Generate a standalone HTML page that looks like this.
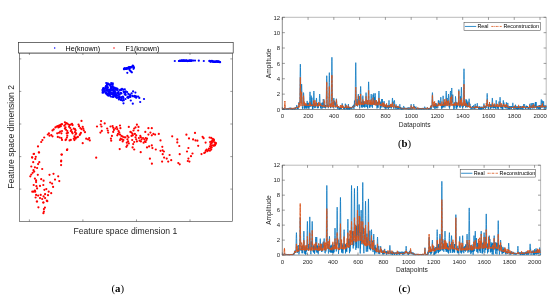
<!DOCTYPE html>
<html><head><meta charset="utf-8"><title>Figure</title>
<style>html,body{margin:0;padding:0;background:#fff}svg{display:block}</style></head>
<body>
<svg width="550" height="296" viewBox="0 0 550 296" font-family="'Liberation Sans', Arial, sans-serif">
<rect width="550" height="296" fill="#fff"/>
<rect x="19.3" y="53" width="213.0" height="168.4" fill="#fff" stroke="#3a3a3a" stroke-width="0.6"/>
<rect x="18.4" y="42.5" width="214.8" height="10.5" fill="#fff" stroke="#333" stroke-width="0.7"/>
<path d="M29.4,221.4 v-2 M29.4,53 v2 M82.9,221.4 v-2 M82.9,53 v2 M136.5,221.4 v-2 M136.5,53 v2 M190,221.4 v-2 M190,53 v2 M19.3,58.9 h2 M232.3,58.9 h-2 M19.3,91.4 h2 M232.3,91.4 h-2 M19.3,124 h2 M232.3,124 h-2 M19.3,156.6 h2 M232.3,156.6 h-2 M19.3,189.1 h2 M232.3,189.1 h-2 " stroke="#3a3a3a" stroke-width="0.5" fill="none"/>
<g fill="#0000ff"><circle cx="126.6" cy="68.0" r="1.1"/><circle cx="129.8" cy="67.1" r="1.1"/><circle cx="128.7" cy="67.7" r="1.1"/><circle cx="124.1" cy="69.2" r="1.1"/><circle cx="123.9" cy="69.1" r="1.1"/><circle cx="124.2" cy="68.6" r="1.1"/><circle cx="127.6" cy="68.6" r="1.1"/><circle cx="124.7" cy="68.6" r="1.1"/><circle cx="129.6" cy="68.3" r="1.1"/><circle cx="129.1" cy="67.7" r="1.1"/><circle cx="133.0" cy="66.2" r="1.1"/><circle cx="131.8" cy="66.8" r="1.1"/><circle cx="124.9" cy="68.4" r="1.1"/><circle cx="126.5" cy="68.9" r="1.1"/><circle cx="125.3" cy="68.9" r="1.1"/><circle cx="129.7" cy="67.5" r="1.1"/><circle cx="128.8" cy="67.3" r="1.1"/><circle cx="124.1" cy="68.8" r="1.1"/><circle cx="130.1" cy="67.4" r="1.1"/><circle cx="126.5" cy="68.6" r="1.1"/><circle cx="127.9" cy="67.9" r="1.1"/><circle cx="131.2" cy="67.5" r="1.1"/><circle cx="125.9" cy="68.8" r="1.1"/><circle cx="128.6" cy="68.4" r="1.1"/><circle cx="130.6" cy="67.1" r="1.1"/><circle cx="133.0" cy="66.3" r="1.1"/><circle cx="127.3" cy="72.8" r="1.1"/><circle cx="130.2" cy="70.8" r="1.1"/><circle cx="131.0" cy="71.6" r="1.1"/><circle cx="131.9" cy="72.3" r="1.1"/><circle cx="132.8" cy="65.6" r="1.1"/><circle cx="133.6" cy="66.5" r="1.1"/><circle cx="134.0" cy="67.8" r="1.1"/><circle cx="133.5" cy="68.8" r="1.1"/><circle cx="132.5" cy="66.6" r="1.1"/><circle cx="129.5" cy="69.8" r="1.1"/><circle cx="103.2" cy="88.7" r="1.1"/><circle cx="102.4" cy="90.0" r="1.1"/><circle cx="102.8" cy="91.3" r="1.1"/><circle cx="102.6" cy="92.7" r="1.1"/><circle cx="103.4" cy="88.2" r="1.1"/><circle cx="103.6" cy="88.8" r="1.1"/><circle cx="103.8" cy="89.9" r="1.1"/><circle cx="104.6" cy="91.6" r="1.1"/><circle cx="103.5" cy="92.4" r="1.1"/><circle cx="105.7" cy="86.9" r="1.1"/><circle cx="105.5" cy="87.5" r="1.1"/><circle cx="105.1" cy="88.5" r="1.1"/><circle cx="105.0" cy="90.1" r="1.1"/><circle cx="105.8" cy="93.4" r="1.1"/><circle cx="106.2" cy="83.0" r="1.1"/><circle cx="106.9" cy="84.5" r="1.1"/><circle cx="106.4" cy="85.8" r="1.1"/><circle cx="106.1" cy="86.1" r="1.1"/><circle cx="107.0" cy="88.2" r="1.1"/><circle cx="106.9" cy="89.6" r="1.1"/><circle cx="106.4" cy="90.4" r="1.1"/><circle cx="106.0" cy="92.2" r="1.1"/><circle cx="106.6" cy="93.4" r="1.1"/><circle cx="107.0" cy="94.6" r="1.1"/><circle cx="107.8" cy="83.4" r="1.1"/><circle cx="107.4" cy="84.7" r="1.1"/><circle cx="107.4" cy="86.5" r="1.1"/><circle cx="107.9" cy="87.6" r="1.1"/><circle cx="107.9" cy="89.4" r="1.1"/><circle cx="107.9" cy="90.1" r="1.1"/><circle cx="108.1" cy="91.6" r="1.1"/><circle cx="108.1" cy="93.4" r="1.1"/><circle cx="107.9" cy="94.2" r="1.1"/><circle cx="108.0" cy="95.4" r="1.1"/><circle cx="108.6" cy="84.2" r="1.1"/><circle cx="109.5" cy="84.8" r="1.1"/><circle cx="109.5" cy="90.0" r="1.1"/><circle cx="109.1" cy="91.4" r="1.1"/><circle cx="108.9" cy="93.2" r="1.1"/><circle cx="109.1" cy="94.1" r="1.1"/><circle cx="108.9" cy="95.6" r="1.1"/><circle cx="109.9" cy="84.5" r="1.1"/><circle cx="110.6" cy="84.8" r="1.1"/><circle cx="110.6" cy="86.4" r="1.1"/><circle cx="110.9" cy="88.0" r="1.1"/><circle cx="109.9" cy="89.5" r="1.1"/><circle cx="110.8" cy="90.3" r="1.1"/><circle cx="110.4" cy="92.1" r="1.1"/><circle cx="109.9" cy="92.9" r="1.1"/><circle cx="109.9" cy="93.8" r="1.1"/><circle cx="110.0" cy="95.2" r="1.1"/><circle cx="110.7" cy="96.5" r="1.1"/><circle cx="111.2" cy="83.1" r="1.1"/><circle cx="111.6" cy="84.4" r="1.1"/><circle cx="111.4" cy="86.9" r="1.1"/><circle cx="111.8" cy="87.7" r="1.1"/><circle cx="111.1" cy="88.6" r="1.1"/><circle cx="111.9" cy="90.1" r="1.1"/><circle cx="111.8" cy="92.6" r="1.1"/><circle cx="111.4" cy="94.1" r="1.1"/><circle cx="112.2" cy="96.8" r="1.1"/><circle cx="112.8" cy="83.4" r="1.1"/><circle cx="112.7" cy="84.9" r="1.1"/><circle cx="112.9" cy="86.8" r="1.1"/><circle cx="113.2" cy="88.2" r="1.1"/><circle cx="112.7" cy="89.6" r="1.1"/><circle cx="113.2" cy="90.5" r="1.1"/><circle cx="113.3" cy="92.1" r="1.1"/><circle cx="113.2" cy="93.3" r="1.1"/><circle cx="112.9" cy="94.2" r="1.1"/><circle cx="113.3" cy="95.8" r="1.1"/><circle cx="113.4" cy="96.9" r="1.1"/><circle cx="114.5" cy="87.5" r="1.1"/><circle cx="113.9" cy="89.3" r="1.1"/><circle cx="114.5" cy="90.9" r="1.1"/><circle cx="114.0" cy="91.6" r="1.1"/><circle cx="114.5" cy="93.0" r="1.1"/><circle cx="113.7" cy="93.8" r="1.1"/><circle cx="114.5" cy="95.2" r="1.1"/><circle cx="113.6" cy="96.2" r="1.1"/><circle cx="115.1" cy="88.3" r="1.1"/><circle cx="115.5" cy="88.7" r="1.1"/><circle cx="116.0" cy="89.9" r="1.1"/><circle cx="115.5" cy="92.1" r="1.1"/><circle cx="115.1" cy="93.4" r="1.1"/><circle cx="114.9" cy="93.6" r="1.1"/><circle cx="115.4" cy="95.2" r="1.1"/><circle cx="115.3" cy="96.5" r="1.1"/><circle cx="116.5" cy="88.3" r="1.1"/><circle cx="116.4" cy="89.1" r="1.1"/><circle cx="117.2" cy="93.0" r="1.1"/><circle cx="116.2" cy="94.4" r="1.1"/><circle cx="117.0" cy="95.6" r="1.1"/><circle cx="116.2" cy="97.2" r="1.1"/><circle cx="116.7" cy="97.8" r="1.1"/><circle cx="117.5" cy="88.9" r="1.1"/><circle cx="117.7" cy="90.1" r="1.1"/><circle cx="118.5" cy="91.9" r="1.1"/><circle cx="117.9" cy="92.9" r="1.1"/><circle cx="117.8" cy="93.7" r="1.1"/><circle cx="118.6" cy="95.0" r="1.1"/><circle cx="118.2" cy="97.2" r="1.1"/><circle cx="117.7" cy="97.7" r="1.1"/><circle cx="118.7" cy="93.2" r="1.1"/><circle cx="119.8" cy="94.3" r="1.1"/><circle cx="119.5" cy="96.3" r="1.1"/><circle cx="119.3" cy="98.1" r="1.1"/><circle cx="118.9" cy="99.4" r="1.1"/><circle cx="120.7" cy="89.6" r="1.1"/><circle cx="120.0" cy="90.2" r="1.1"/><circle cx="120.8" cy="92.9" r="1.1"/><circle cx="120.2" cy="97.7" r="1.1"/><circle cx="120.7" cy="99.8" r="1.1"/><circle cx="122.0" cy="88.9" r="1.1"/><circle cx="121.6" cy="90.0" r="1.1"/><circle cx="121.4" cy="93.4" r="1.1"/><circle cx="121.7" cy="97.2" r="1.1"/><circle cx="121.7" cy="98.5" r="1.1"/><circle cx="121.3" cy="100.0" r="1.1"/><circle cx="123.3" cy="89.6" r="1.1"/><circle cx="123.6" cy="91.5" r="1.1"/><circle cx="122.9" cy="96.5" r="1.1"/><circle cx="123.4" cy="97.5" r="1.1"/><circle cx="123.4" cy="99.0" r="1.1"/><circle cx="122.5" cy="100.6" r="1.1"/><circle cx="124.8" cy="89.3" r="1.1"/><circle cx="124.2" cy="91.9" r="1.1"/><circle cx="124.1" cy="92.6" r="1.1"/><circle cx="124.8" cy="94.3" r="1.1"/><circle cx="123.8" cy="100.3" r="1.1"/><circle cx="125.8" cy="91.3" r="1.1"/><circle cx="125.4" cy="93.1" r="1.1"/><circle cx="125.7" cy="94.9" r="1.1"/><circle cx="125.5" cy="99.0" r="1.1"/><circle cx="127.1" cy="92.1" r="1.1"/><circle cx="127.3" cy="97.3" r="1.1"/><circle cx="128.3" cy="93.9" r="1.1"/><circle cx="128.1" cy="96.7" r="1.1"/><circle cx="128.3" cy="98.0" r="1.1"/><circle cx="130.0" cy="94.7" r="1.1"/><circle cx="129.8" cy="96.0" r="1.1"/><circle cx="129.3" cy="97.0" r="1.1"/><circle cx="130.6" cy="95.8" r="1.1"/><circle cx="130.4" cy="97.0" r="1.1"/><circle cx="131.6" cy="93.4" r="1.1"/><circle cx="132.5" cy="95.8" r="1.1"/><circle cx="133.1" cy="91.4" r="1.1"/><circle cx="133.0" cy="96.3" r="1.1"/><circle cx="134.8" cy="95.9" r="1.1"/><circle cx="134.8" cy="96.8" r="1.1"/><circle cx="135.4" cy="92.6" r="1.1"/><circle cx="135.6" cy="96.3" r="1.1"/><circle cx="136.1" cy="97.7" r="1.1"/><circle cx="136.7" cy="96.7" r="1.1"/><circle cx="138.2" cy="96.5" r="1.1"/><circle cx="139.3" cy="97.9" r="1.1"/><circle cx="144.0" cy="99.0" r="1.1"/><circle cx="140.2" cy="102.0" r="1.1"/><circle cx="132.8" cy="103.7" r="1.1"/><circle cx="123.5" cy="103.3" r="1.1"/><circle cx="130.8" cy="100.5" r="1.1"/><circle cx="174.8" cy="61.0" r="1.1"/><circle cx="193.2" cy="60.6" r="1.1"/><circle cx="195.0" cy="60.6" r="1.1"/><circle cx="198.8" cy="60.7" r="1.1"/><circle cx="203.8" cy="61.0" r="1.1"/><circle cx="178.9" cy="61.0" r="1.1"/><circle cx="179.3" cy="61.0" r="1.1"/><circle cx="179.8" cy="60.5" r="1.1"/><circle cx="180.2" cy="61.0" r="1.1"/><circle cx="180.7" cy="61.0" r="1.1"/><circle cx="181.1" cy="60.7" r="1.1"/><circle cx="181.6" cy="60.5" r="1.1"/><circle cx="182.0" cy="60.6" r="1.1"/><circle cx="182.5" cy="60.7" r="1.1"/><circle cx="182.9" cy="60.9" r="1.1"/><circle cx="183.4" cy="60.7" r="1.1"/><circle cx="183.8" cy="60.4" r="1.1"/><circle cx="184.3" cy="60.9" r="1.1"/><circle cx="184.7" cy="60.5" r="1.1"/><circle cx="185.2" cy="61.0" r="1.1"/><circle cx="185.6" cy="60.5" r="1.1"/><circle cx="186.1" cy="60.6" r="1.1"/><circle cx="186.5" cy="60.6" r="1.1"/><circle cx="187.0" cy="60.7" r="1.1"/><circle cx="187.4" cy="61.1" r="1.1"/><circle cx="187.9" cy="61.0" r="1.1"/><circle cx="188.3" cy="60.9" r="1.1"/><circle cx="188.8" cy="60.9" r="1.1"/><circle cx="189.2" cy="60.5" r="1.1"/><circle cx="189.7" cy="60.7" r="1.1"/><circle cx="190.1" cy="60.7" r="1.1"/><circle cx="190.6" cy="60.6" r="1.1"/><circle cx="191.0" cy="60.9" r="1.1"/><circle cx="191.5" cy="60.6" r="1.1"/><circle cx="191.9" cy="60.6" r="1.1"/><circle cx="209.3" cy="61.0" r="1.1"/><circle cx="209.7" cy="60.8" r="1.1"/><circle cx="210.2" cy="61.4" r="1.1"/><circle cx="210.6" cy="61.6" r="1.1"/><circle cx="211.0" cy="61.4" r="1.1"/><circle cx="211.5" cy="61.1" r="1.1"/><circle cx="211.9" cy="60.8" r="1.1"/><circle cx="212.3" cy="61.4" r="1.1"/><circle cx="212.8" cy="61.7" r="1.1"/><circle cx="213.2" cy="61.5" r="1.1"/><circle cx="213.6" cy="61.7" r="1.1"/><circle cx="214.1" cy="61.8" r="1.1"/><circle cx="214.5" cy="61.8" r="1.1"/><circle cx="214.9" cy="61.5" r="1.1"/><circle cx="215.3" cy="61.8" r="1.1"/><circle cx="215.8" cy="61.8" r="1.1"/><circle cx="216.2" cy="61.3" r="1.1"/><circle cx="216.6" cy="61.6" r="1.1"/><circle cx="217.1" cy="61.4" r="1.1"/><circle cx="217.5" cy="61.7" r="1.1"/><circle cx="217.9" cy="61.9" r="1.1"/><circle cx="218.4" cy="61.6" r="1.1"/><circle cx="218.8" cy="61.4" r="1.1"/><circle cx="219.2" cy="62.1" r="1.1"/><circle cx="219.7" cy="62.0" r="1.1"/><circle cx="220.1" cy="62.2" r="1.1"/></g>
<g fill="#ff0000"><circle cx="33.6" cy="154.0" r="1.1"/><circle cx="32.1" cy="157.3" r="1.1"/><circle cx="35.8" cy="156.8" r="1.1"/><circle cx="38.8" cy="152.3" r="1.1"/><circle cx="61.4" cy="154.6" r="1.1"/><circle cx="67.0" cy="150.0" r="1.1"/><circle cx="34.0" cy="153.8" r="1.1"/><circle cx="39.1" cy="152.5" r="1.1"/><circle cx="32.2" cy="157.6" r="1.1"/><circle cx="35.3" cy="158.9" r="1.1"/><circle cx="61.9" cy="154.6" r="1.1"/><circle cx="61.2" cy="160.7" r="1.1"/><circle cx="67.0" cy="150.0" r="1.1"/><circle cx="96.2" cy="157.7" r="1.1"/><circle cx="149.9" cy="158.7" r="1.1"/><circle cx="151.9" cy="163.7" r="1.1"/><circle cx="162.7" cy="154.2" r="1.1"/><circle cx="164.1" cy="157.6" r="1.1"/><circle cx="162.1" cy="161.6" r="1.1"/><circle cx="166.7" cy="158.6" r="1.1"/><circle cx="168.2" cy="161.6" r="1.1"/><circle cx="169.6" cy="155.0" r="1.1"/><circle cx="171.2" cy="160.2" r="1.1"/><circle cx="172.2" cy="136.3" r="1.1"/><circle cx="177.3" cy="139.4" r="1.1"/><circle cx="177.3" cy="142.4" r="1.1"/><circle cx="179.3" cy="146.0" r="1.1"/><circle cx="179.7" cy="154.2" r="1.1"/><circle cx="178.3" cy="163.0" r="1.1"/><circle cx="179.7" cy="164.3" r="1.1"/><circle cx="186.4" cy="134.7" r="1.1"/><circle cx="189.0" cy="138.4" r="1.1"/><circle cx="188.4" cy="148.0" r="1.1"/><circle cx="187.0" cy="151.5" r="1.1"/><circle cx="188.4" cy="158.6" r="1.1"/><circle cx="187.8" cy="161.0" r="1.1"/><circle cx="189.4" cy="161.6" r="1.1"/><circle cx="191.0" cy="156.2" r="1.1"/><circle cx="192.5" cy="153.5" r="1.1"/><circle cx="193.1" cy="139.4" r="1.1"/><circle cx="38.0" cy="146.4" r="1.1"/><circle cx="41.2" cy="142.0" r="1.1"/><circle cx="42.4" cy="140.1" r="1.1"/><circle cx="44.2" cy="137.5" r="1.1"/><circle cx="47.8" cy="134.5" r="1.1"/><circle cx="48.9" cy="133.3" r="1.1"/><circle cx="49.5" cy="135.7" r="1.1"/><circle cx="51.3" cy="135.1" r="1.1"/><circle cx="52.5" cy="136.3" r="1.1"/><circle cx="52.5" cy="130.4" r="1.1"/><circle cx="53.7" cy="129.4" r="1.1"/><circle cx="55.4" cy="127.4" r="1.1"/><circle cx="56.6" cy="126.6" r="1.1"/><circle cx="57.8" cy="126.2" r="1.1"/><circle cx="59.0" cy="125.7" r="1.1"/><circle cx="60.2" cy="125.1" r="1.1"/><circle cx="61.0" cy="124.5" r="1.1"/><circle cx="62.0" cy="124.2" r="1.1"/><circle cx="58.4" cy="127.4" r="1.1"/><circle cx="59.6" cy="126.8" r="1.1"/><circle cx="60.8" cy="126.2" r="1.1"/><circle cx="64.9" cy="122.3" r="1.1"/><circle cx="66.1" cy="123.0" r="1.1"/><circle cx="67.3" cy="123.5" r="1.1"/><circle cx="65.5" cy="124.5" r="1.1"/><circle cx="64.3" cy="125.7" r="1.1"/><circle cx="68.5" cy="124.5" r="1.1"/><circle cx="69.6" cy="125.1" r="1.1"/><circle cx="70.8" cy="124.5" r="1.1"/><circle cx="72.0" cy="123.9" r="1.1"/><circle cx="72.6" cy="125.1" r="1.1"/><circle cx="57.2" cy="133.3" r="1.1"/><circle cx="59.0" cy="132.8" r="1.1"/><circle cx="60.2" cy="131.6" r="1.1"/><circle cx="62.0" cy="131.0" r="1.1"/><circle cx="61.4" cy="133.3" r="1.1"/><circle cx="57.8" cy="136.9" r="1.1"/><circle cx="59.6" cy="137.5" r="1.1"/><circle cx="61.4" cy="138.1" r="1.1"/><circle cx="62.0" cy="139.9" r="1.1"/><circle cx="65.5" cy="127.4" r="1.1"/><circle cx="64.9" cy="128.6" r="1.1"/><circle cx="66.1" cy="129.8" r="1.1"/><circle cx="67.3" cy="131.0" r="1.1"/><circle cx="67.9" cy="132.8" r="1.1"/><circle cx="66.7" cy="133.3" r="1.1"/><circle cx="67.3" cy="135.7" r="1.1"/><circle cx="66.9" cy="137.5" r="1.1"/><circle cx="66.1" cy="139.3" r="1.1"/><circle cx="65.5" cy="140.1" r="1.1"/><circle cx="69.1" cy="126.8" r="1.1"/><circle cx="70.2" cy="128.0" r="1.1"/><circle cx="71.4" cy="129.8" r="1.1"/><circle cx="70.8" cy="131.0" r="1.1"/><circle cx="72.0" cy="132.2" r="1.1"/><circle cx="72.6" cy="133.3" r="1.1"/><circle cx="73.8" cy="128.6" r="1.1"/><circle cx="75.0" cy="129.2" r="1.1"/><circle cx="75.6" cy="130.4" r="1.1"/><circle cx="75.0" cy="132.2" r="1.1"/><circle cx="76.2" cy="133.3" r="1.1"/><circle cx="75.6" cy="134.5" r="1.1"/><circle cx="74.4" cy="136.3" r="1.1"/><circle cx="75.0" cy="137.5" r="1.1"/><circle cx="73.8" cy="138.7" r="1.1"/><circle cx="75.6" cy="138.7" r="1.1"/><circle cx="74.4" cy="140.1" r="1.1"/><circle cx="76.7" cy="137.5" r="1.1"/><circle cx="77.9" cy="136.9" r="1.1"/><circle cx="70.8" cy="139.9" r="1.1"/><circle cx="69.6" cy="140.4" r="1.1"/><circle cx="79.7" cy="135.1" r="1.1"/><circle cx="80.3" cy="133.9" r="1.1"/><circle cx="80.9" cy="132.8" r="1.1"/><circle cx="78.5" cy="124.5" r="1.1"/><circle cx="79.1" cy="126.2" r="1.1"/><circle cx="80.3" cy="128.0" r="1.1"/><circle cx="81.5" cy="129.2" r="1.1"/><circle cx="82.7" cy="126.8" r="1.1"/><circle cx="83.3" cy="128.6" r="1.1"/><circle cx="83.8" cy="130.4" r="1.1"/><circle cx="85.0" cy="132.2" r="1.1"/><circle cx="81.5" cy="120.9" r="1.1"/><circle cx="82.7" cy="143.2" r="1.1"/><circle cx="86.2" cy="138.7" r="1.1"/><circle cx="88.0" cy="139.3" r="1.1"/><circle cx="89.2" cy="138.1" r="1.1"/><circle cx="89.8" cy="140.4" r="1.1"/><circle cx="67.3" cy="149.3" r="1.1"/><circle cx="33.2" cy="162.2" r="1.1"/><circle cx="39.3" cy="162.2" r="1.1"/><circle cx="38.1" cy="164.1" r="1.1"/><circle cx="31.3" cy="166.5" r="1.1"/><circle cx="34.9" cy="167.3" r="1.1"/><circle cx="37.1" cy="168.0" r="1.1"/><circle cx="42.2" cy="169.0" r="1.1"/><circle cx="33.5" cy="170.2" r="1.1"/><circle cx="34.2" cy="171.6" r="1.1"/><circle cx="32.7" cy="172.8" r="1.1"/><circle cx="31.3" cy="174.5" r="1.1"/><circle cx="30.3" cy="176.3" r="1.1"/><circle cx="37.8" cy="174.8" r="1.1"/><circle cx="34.9" cy="178.6" r="1.1"/><circle cx="36.1" cy="180.4" r="1.1"/><circle cx="36.1" cy="182.1" r="1.1"/><circle cx="41.2" cy="179.2" r="1.1"/><circle cx="43.6" cy="180.7" r="1.1"/><circle cx="49.5" cy="174.8" r="1.1"/><circle cx="53.5" cy="173.8" r="1.1"/><circle cx="58.2" cy="176.3" r="1.1"/><circle cx="55.0" cy="179.6" r="1.1"/><circle cx="59.3" cy="181.1" r="1.1"/><circle cx="50.2" cy="182.5" r="1.1"/><circle cx="52.1" cy="183.6" r="1.1"/><circle cx="53.1" cy="186.9" r="1.1"/><circle cx="33.7" cy="185.0" r="1.1"/><circle cx="36.4" cy="186.2" r="1.1"/><circle cx="40.0" cy="185.9" r="1.1"/><circle cx="43.3" cy="185.0" r="1.1"/><circle cx="37.1" cy="188.4" r="1.1"/><circle cx="34.9" cy="190.5" r="1.1"/><circle cx="32.3" cy="191.7" r="1.1"/><circle cx="33.7" cy="191.7" r="1.1"/><circle cx="35.2" cy="191.7" r="1.1"/><circle cx="44.4" cy="189.8" r="1.1"/><circle cx="46.3" cy="189.1" r="1.1"/><circle cx="48.7" cy="191.7" r="1.1"/><circle cx="51.2" cy="193.2" r="1.1"/><circle cx="45.1" cy="194.2" r="1.1"/><circle cx="48.0" cy="195.2" r="1.1"/><circle cx="36.1" cy="194.9" r="1.1"/><circle cx="38.1" cy="195.6" r="1.1"/><circle cx="40.7" cy="194.9" r="1.1"/><circle cx="43.6" cy="196.4" r="1.1"/><circle cx="35.6" cy="197.5" r="1.1"/><circle cx="40.0" cy="198.1" r="1.1"/><circle cx="42.2" cy="199.0" r="1.1"/><circle cx="45.1" cy="198.1" r="1.1"/><circle cx="46.8" cy="200.7" r="1.1"/><circle cx="37.1" cy="201.5" r="1.1"/><circle cx="43.3" cy="202.5" r="1.1"/><circle cx="61.1" cy="161.5" r="1.1"/><circle cx="61.1" cy="165.1" r="1.1"/><circle cx="43.4" cy="213.2" r="1.1"/><circle cx="43.9" cy="211.6" r="1.1"/><circle cx="44.9" cy="207.6" r="1.1"/><circle cx="43.9" cy="209.1" r="1.1"/><circle cx="38.4" cy="207.3" r="1.1"/><circle cx="36.8" cy="201.5" r="1.1"/><circle cx="43.4" cy="202.5" r="1.1"/><circle cx="47.3" cy="201.2" r="1.1"/><circle cx="195.0" cy="132.9" r="1.1"/><circle cx="195.5" cy="140.4" r="1.1"/><circle cx="197.4" cy="140.7" r="1.1"/><circle cx="198.2" cy="145.8" r="1.1"/><circle cx="202.6" cy="136.8" r="1.1"/><circle cx="203.6" cy="138.2" r="1.1"/><circle cx="205.6" cy="142.6" r="1.1"/><circle cx="201.5" cy="154.1" r="1.1"/><circle cx="204.2" cy="153.0" r="1.1"/><circle cx="205.2" cy="152.3" r="1.1"/><circle cx="205.8" cy="150.7" r="1.1"/><circle cx="206.7" cy="149.6" r="1.1"/><circle cx="207.4" cy="151.2" r="1.1"/><circle cx="208.5" cy="150.1" r="1.1"/><circle cx="209.0" cy="148.5" r="1.1"/><circle cx="209.9" cy="150.7" r="1.1"/><circle cx="211.2" cy="149.6" r="1.1"/><circle cx="210.6" cy="148.0" r="1.1"/><circle cx="211.7" cy="147.4" r="1.1"/><circle cx="210.1" cy="146.3" r="1.1"/><circle cx="211.2" cy="145.8" r="1.1"/><circle cx="212.3" cy="145.3" r="1.1"/><circle cx="210.6" cy="144.2" r="1.1"/><circle cx="211.7" cy="143.1" r="1.1"/><circle cx="210.1" cy="142.0" r="1.1"/><circle cx="211.2" cy="141.5" r="1.1"/><circle cx="212.8" cy="142.0" r="1.1"/><circle cx="212.3" cy="140.4" r="1.1"/><circle cx="213.9" cy="140.9" r="1.1"/><circle cx="215.0" cy="142.6" r="1.1"/><circle cx="216.0" cy="143.1" r="1.1"/><circle cx="215.5" cy="144.2" r="1.1"/><circle cx="214.4" cy="144.7" r="1.1"/><circle cx="213.9" cy="145.8" r="1.1"/><circle cx="215.0" cy="145.3" r="1.1"/><circle cx="209.6" cy="137.5" r="1.1"/><circle cx="211.2" cy="137.9" r="1.1"/><circle cx="212.8" cy="138.8" r="1.1"/><circle cx="213.9" cy="139.7" r="1.1"/><circle cx="97.0" cy="126.5" r="1.1"/><circle cx="101.1" cy="121.1" r="1.1"/><circle cx="100.7" cy="124.5" r="1.1"/><circle cx="101.5" cy="126.5" r="1.1"/><circle cx="100.4" cy="132.6" r="1.1"/><circle cx="101.8" cy="130.9" r="1.1"/><circle cx="104.7" cy="123.4" r="1.1"/><circle cx="107.2" cy="128.5" r="1.1"/><circle cx="107.8" cy="130.5" r="1.1"/><circle cx="108.2" cy="132.6" r="1.1"/><circle cx="110.5" cy="126.5" r="1.1"/><circle cx="112.6" cy="126.1" r="1.1"/><circle cx="113.2" cy="127.8" r="1.1"/><circle cx="113.9" cy="129.9" r="1.1"/><circle cx="113.2" cy="131.9" r="1.1"/><circle cx="111.9" cy="135.9" r="1.1"/><circle cx="110.9" cy="138.6" r="1.1"/><circle cx="111.2" cy="140.7" r="1.1"/><circle cx="115.3" cy="128.5" r="1.1"/><circle cx="116.6" cy="127.2" r="1.1"/><circle cx="117.3" cy="129.2" r="1.1"/><circle cx="120.0" cy="125.5" r="1.1"/><circle cx="120.4" cy="128.2" r="1.1"/><circle cx="118.6" cy="131.2" r="1.1"/><circle cx="119.3" cy="132.6" r="1.1"/><circle cx="118.0" cy="133.9" r="1.1"/><circle cx="117.3" cy="135.3" r="1.1"/><circle cx="120.0" cy="134.6" r="1.1"/><circle cx="121.4" cy="135.9" r="1.1"/><circle cx="122.7" cy="136.6" r="1.1"/><circle cx="124.1" cy="137.3" r="1.1"/><circle cx="120.7" cy="138.6" r="1.1"/><circle cx="122.0" cy="139.3" r="1.1"/><circle cx="123.4" cy="140.0" r="1.1"/><circle cx="125.4" cy="137.3" r="1.1"/><circle cx="122.7" cy="141.4" r="1.1"/><circle cx="120.0" cy="140.0" r="1.1"/><circle cx="127.4" cy="135.9" r="1.1"/><circle cx="128.5" cy="137.3" r="1.1"/><circle cx="127.4" cy="139.3" r="1.1"/><circle cx="128.1" cy="141.4" r="1.1"/><circle cx="126.8" cy="142.7" r="1.1"/><circle cx="128.8" cy="143.4" r="1.1"/><circle cx="127.2" cy="145.4" r="1.1"/><circle cx="126.4" cy="146.8" r="1.1"/><circle cx="119.7" cy="149.1" r="1.1"/><circle cx="128.8" cy="126.9" r="1.1"/><circle cx="130.4" cy="131.9" r="1.1"/><circle cx="131.5" cy="132.6" r="1.1"/><circle cx="132.6" cy="133.9" r="1.1"/><circle cx="131.5" cy="135.9" r="1.1"/><circle cx="132.8" cy="135.3" r="1.1"/><circle cx="134.2" cy="128.5" r="1.1"/><circle cx="135.5" cy="127.4" r="1.1"/><circle cx="136.9" cy="124.7" r="1.1"/><circle cx="138.5" cy="126.9" r="1.1"/><circle cx="133.5" cy="130.5" r="1.1"/><circle cx="138.2" cy="130.5" r="1.1"/><circle cx="134.9" cy="133.9" r="1.1"/><circle cx="136.2" cy="135.3" r="1.1"/><circle cx="132.2" cy="140.0" r="1.1"/><circle cx="134.2" cy="142.0" r="1.1"/><circle cx="133.2" cy="144.1" r="1.1"/><circle cx="132.6" cy="147.4" r="1.1"/><circle cx="134.2" cy="149.5" r="1.1"/><circle cx="135.5" cy="137.3" r="1.1"/><circle cx="136.2" cy="139.3" r="1.1"/><circle cx="136.9" cy="141.4" r="1.1"/><circle cx="138.9" cy="138.0" r="1.1"/><circle cx="140.3" cy="135.9" r="1.1"/><circle cx="140.9" cy="137.3" r="1.1"/><circle cx="141.6" cy="139.3" r="1.1"/><circle cx="139.6" cy="140.7" r="1.1"/><circle cx="140.9" cy="141.4" r="1.1"/><circle cx="143.0" cy="138.0" r="1.1"/><circle cx="144.3" cy="139.3" r="1.1"/><circle cx="145.7" cy="138.0" r="1.1"/><circle cx="146.4" cy="140.0" r="1.1"/><circle cx="145.0" cy="141.4" r="1.1"/><circle cx="143.6" cy="142.7" r="1.1"/><circle cx="145.7" cy="142.0" r="1.1"/><circle cx="147.0" cy="138.6" r="1.1"/><circle cx="145.3" cy="131.9" r="1.1"/><circle cx="148.4" cy="128.2" r="1.1"/><circle cx="151.8" cy="128.2" r="1.1"/><circle cx="148.4" cy="134.6" r="1.1"/><circle cx="150.4" cy="132.6" r="1.1"/><circle cx="151.8" cy="135.3" r="1.1"/><circle cx="153.4" cy="133.9" r="1.1"/><circle cx="155.1" cy="134.6" r="1.1"/><circle cx="158.8" cy="133.9" r="1.1"/><circle cx="160.5" cy="140.4" r="1.1"/><circle cx="140.7" cy="152.2" r="1.1"/><circle cx="147.0" cy="147.4" r="1.1"/><circle cx="149.1" cy="146.4" r="1.1"/><circle cx="151.8" cy="145.4" r="1.1"/><circle cx="152.4" cy="148.1" r="1.1"/><circle cx="155.8" cy="149.5" r="1.1"/><circle cx="162.3" cy="146.8" r="1.1"/><circle cx="160.5" cy="150.8" r="1.1"/><circle cx="162.6" cy="150.4" r="1.1"/><circle cx="163.9" cy="151.5" r="1.1"/></g>
<circle cx="54.7" cy="47.9" r="0.75" fill="#00f"/><text x="65.5" y="50.9" font-size="7.15" fill="#000">He(known)</text>
<circle cx="114" cy="47.9" r="0.75" fill="#f00"/><text x="125.6" y="50.9" font-size="7.15" fill="#000">F1(known)</text>
<text x="125.4" y="234" font-size="8.6" fill="#262626" text-anchor="middle">Feature space dimension 1</text>
<text transform="translate(13.8,136.9) rotate(-90)" font-size="8.6" fill="#262626" text-anchor="middle">Feature space dimension 2</text>
<text x="117.7" y="291.9" font-family="'Liberation Serif', serif" font-size="10.8" fill="#000" text-anchor="middle">(<tspan font-weight="bold">a</tspan>)</text>
<text x="404.5" y="146.9" font-family="'Liberation Serif', serif" font-size="10.8" fill="#000" text-anchor="middle">(<tspan font-weight="bold">b</tspan>)</text>
<text x="404.4" y="292.4" font-family="'Liberation Serif', serif" font-size="10.8" fill="#000" text-anchor="middle">(<tspan font-weight="bold">c</tspan>)</text>
<rect x="282.3" y="17.3" width="263.9" height="92.2" fill="#fff" stroke="none"/><path d="M282.3,17.3 V109.5 H546.2" fill="none" stroke="#3a3a3a" stroke-width="0.6"/><path d="M282.3,17.3 H546.2 V109.5" fill="none" stroke="#3a3a3a" stroke-width="0.5" opacity="0.7"/><path d="M282.30,109.5 v-2.6 M282.30,17.3 v2.6 M308.07,109.5 v-2.6 M308.07,17.3 v2.6 M333.84,109.5 v-2.6 M333.84,17.3 v2.6 M359.61,109.5 v-2.6 M359.61,17.3 v2.6 M385.39,109.5 v-2.6 M385.39,17.3 v2.6 M411.16,109.5 v-2.6 M411.16,17.3 v2.6 M436.93,109.5 v-2.6 M436.93,17.3 v2.6 M462.70,109.5 v-2.6 M462.70,17.3 v2.6 M488.47,109.5 v-2.6 M488.47,17.3 v2.6 M514.24,109.5 v-2.6 M514.24,17.3 v2.6 M540.01,109.5 v-2.6 M540.01,17.3 v2.6 M282.3,109.50 h2.6 M546.2,109.50 h-2.6 M282.3,94.13 h2.6 M546.2,94.13 h-2.6 M282.3,78.77 h2.6 M546.2,78.77 h-2.6 M282.3,63.40 h2.6 M546.2,63.40 h-2.6 M282.3,48.03 h2.6 M546.2,48.03 h-2.6 M282.3,32.67 h2.6 M546.2,32.67 h-2.6 M282.3,17.30 h2.6 M546.2,17.30 h-2.6 " stroke="#3a3a3a" stroke-width="0.5" fill="none"/>
<path d="M282.30,108.80 L282.43,108.50 L282.56,108.41 L282.69,108.34 L282.82,108.49 L282.94,108.32 L283.07,108.96 L283.20,109.37 L283.33,108.45 L283.46,108.62 L283.59,109.13 L283.72,108.67 L283.85,109.14 L283.98,108.58 L284.10,108.25 L284.23,108.58 L284.36,108.83 L284.49,108.35 L284.62,107.81 L284.75,107.37 L284.88,107.19 L285.01,107.37 L285.13,107.81 L285.26,108.35 L285.39,108.55 L285.52,108.63 L285.65,109.06 L285.78,108.69 L285.91,109.18 L286.04,109.16 L286.17,108.62 L286.29,109.23 L286.42,109.38 L286.55,109.29 L286.68,109.20 L286.81,108.75 L286.94,108.48 L287.07,108.75 L287.20,108.32 L287.33,108.39 L287.45,109.02 L287.58,108.78 L287.71,109.03 L287.84,108.76 L287.97,109.23 L288.10,108.61 L288.23,109.42 L288.36,108.46 L288.49,108.98 L288.61,108.59 L288.74,108.81 L288.87,108.32 L289.00,107.89 L289.13,108.32 L289.26,108.93 L289.39,108.53 L289.52,108.82 L289.64,108.24 L289.77,107.83 L289.90,108.27 L290.03,108.40 L290.16,107.84 L290.29,107.59 L290.42,107.84 L290.55,108.40 L290.68,108.94 L290.80,108.37 L290.93,108.72 L291.06,109.35 L291.19,108.27 L291.32,108.87 L291.45,108.38 L291.58,107.98 L291.71,108.38 L291.84,108.42 L291.96,109.19 L292.09,108.64 L292.22,108.65 L292.35,108.50 L292.48,108.62 L292.61,108.68 L292.74,109.39 L292.87,108.86 L293.00,109.27 L293.12,108.56 L293.25,108.70 L293.38,108.64 L293.51,108.25 L293.64,108.90 L293.77,108.75 L293.90,108.49 L294.03,108.63 L294.15,108.78 L294.28,108.55 L294.41,108.81 L294.54,109.47 L294.67,108.86 L294.80,108.64 L294.93,108.71 L295.06,107.73 L295.19,107.09 L295.31,107.73 L295.44,108.80 L295.57,108.12 L295.70,108.71 L295.83,109.20 L295.96,109.05 L296.09,107.20 L296.22,107.13 L296.35,107.47 L296.47,106.92 L296.60,105.60 L296.73,105.03 L296.86,105.60 L296.99,106.92 L297.12,108.20 L297.25,107.68 L297.38,107.45 L297.51,108.98 L297.63,107.57 L297.76,108.91 L297.89,107.08 L298.02,109.04 L298.15,106.37 L298.28,106.06 L298.41,107.06 L298.54,105.86 L298.66,105.28 L298.79,103.13 L298.92,102.19 L299.05,103.13 L299.18,105.28 L299.31,105.18 L299.44,105.25 L299.57,104.54 L299.70,102.91 L299.82,96.31 L299.95,86.86 L300.08,76.21 L300.21,67.53 L300.34,64.17 L300.47,67.53 L300.60,76.21 L300.73,86.86 L300.86,96.31 L300.98,102.91 L301.11,102.12 L301.24,96.84 L301.37,90.88 L301.50,86.03 L301.63,84.14 L301.76,86.03 L301.89,90.88 L302.02,96.84 L302.14,102.12 L302.27,105.82 L302.40,107.92 L302.53,106.96 L302.66,109.11 L302.79,108.45 L302.92,106.53 L303.05,104.58 L303.17,101.06 L303.30,97.09 L303.43,93.85 L303.56,92.60 L303.69,93.85 L303.82,97.09 L303.95,101.06 L304.08,104.58 L304.21,107.04 L304.33,108.07 L304.46,106.70 L304.59,107.06 L304.72,104.74 L304.85,108.96 L304.98,106.71 L305.11,108.08 L305.24,105.21 L305.37,107.00 L305.49,105.67 L305.62,107.14 L305.75,105.92 L305.88,106.44 L306.01,103.61 L306.14,104.38 L306.27,108.17 L306.40,108.35 L306.53,106.33 L306.65,104.84 L306.78,108.47 L306.91,106.96 L307.04,103.19 L307.17,100.91 L307.30,103.19 L307.43,106.25 L307.56,102.98 L307.68,107.40 L307.81,107.38 L307.94,105.72 L308.07,103.27 L308.20,104.27 L308.33,107.48 L308.46,106.47 L308.59,107.58 L308.72,102.79 L308.84,106.36 L308.97,108.74 L309.10,107.09 L309.23,106.01 L309.36,106.93 L309.49,104.36 L309.62,100.68 L309.75,96.52 L309.88,93.14 L310.00,91.83 L310.13,93.14 L310.26,96.52 L310.39,100.68 L310.52,104.36 L310.65,103.36 L310.78,106.93 L310.91,105.46 L311.04,99.31 L311.16,95.62 L311.29,99.31 L311.42,105.46 L311.55,104.83 L311.68,106.05 L311.81,100.80 L311.94,97.65 L312.07,100.80 L312.19,105.46 L312.32,104.81 L312.45,109.22 L312.58,104.98 L312.71,107.25 L312.84,105.17 L312.97,108.76 L313.10,103.79 L313.23,106.82 L313.35,104.13 L313.48,100.29 L313.61,95.96 L313.74,92.43 L313.87,91.06 L314.00,92.43 L314.13,95.96 L314.26,100.29 L314.39,104.13 L314.51,104.92 L314.64,103.34 L314.77,108.14 L314.90,106.86 L315.03,105.14 L315.16,107.80 L315.29,103.88 L315.42,103.88 L315.55,104.04 L315.67,103.67 L315.80,106.44 L315.93,106.15 L316.06,103.70 L316.19,101.04 L316.32,98.83 L316.45,97.97 L316.58,98.83 L316.70,101.04 L316.83,103.74 L316.96,105.58 L317.09,105.43 L317.22,106.51 L317.35,108.13 L317.48,106.39 L317.61,104.93 L317.74,103.19 L317.86,106.19 L317.99,108.30 L318.12,103.13 L318.25,107.93 L318.38,107.70 L318.51,106.79 L318.64,106.39 L318.77,104.43 L318.90,104.98 L319.02,105.63 L319.15,105.03 L319.28,101.83 L319.41,98.21 L319.54,95.27 L319.67,94.13 L319.80,95.27 L319.93,98.21 L320.06,101.83 L320.18,105.03 L320.31,105.39 L320.44,106.76 L320.57,105.54 L320.70,108.20 L320.83,105.23 L320.96,106.53 L321.09,107.55 L321.21,108.76 L321.34,105.99 L321.47,105.65 L321.60,103.68 L321.73,102.83 L321.86,103.68 L321.99,105.65 L322.12,106.65 L322.25,105.67 L322.37,108.41 L322.50,106.37 L322.63,104.35 L322.76,102.49 L322.89,104.35 L323.02,105.44 L323.15,101.84 L323.28,99.06 L323.41,101.84 L323.53,106.40 L323.66,107.71 L323.79,106.43 L323.92,104.99 L324.05,103.81 L324.18,103.35 L324.31,103.81 L324.44,104.99 L324.57,105.60 L324.69,107.71 L324.82,105.99 L324.95,107.12 L325.08,107.41 L325.21,105.14 L325.34,108.29 L325.47,108.40 L325.60,105.66 L325.72,106.94 L325.85,105.01 L325.98,107.40 L326.11,104.59 L326.24,99.66 L326.37,92.62 L326.50,84.67 L326.63,78.20 L326.76,75.69 L326.88,78.20 L327.01,84.67 L327.14,92.62 L327.27,99.66 L327.40,104.59 L327.53,106.55 L327.66,105.05 L327.79,104.39 L327.92,105.05 L328.04,106.55 L328.17,105.83 L328.30,108.26 L328.43,107.62 L328.56,106.01 L328.69,104.14 L328.82,98.77 L328.95,91.08 L329.08,82.41 L329.20,75.36 L329.33,72.62 L329.46,75.36 L329.59,82.41 L329.72,91.08 L329.85,98.77 L329.98,104.14 L330.11,105.34 L330.23,105.88 L330.36,105.86 L330.49,108.15 L330.62,106.41 L330.75,108.04 L330.88,107.47 L331.01,106.73 L331.14,105.99 L331.27,101.91 L331.39,94.30 L331.52,83.41 L331.65,71.13 L331.78,61.13 L331.91,57.25 L332.04,61.13 L332.17,71.13 L332.30,83.41 L332.43,94.30 L332.55,101.91 L332.68,106.25 L332.81,105.71 L332.94,106.14 L333.07,106.44 L333.20,107.83 L333.33,106.15 L333.46,103.74 L333.59,101.04 L333.71,98.83 L333.84,97.97 L333.97,98.83 L334.10,101.04 L334.23,103.74 L334.36,104.65 L334.49,102.18 L334.62,101.11 L334.74,102.18 L334.87,104.65 L335.00,105.94 L335.13,105.45 L335.26,103.39 L335.39,102.49 L335.52,103.39 L335.65,105.45 L335.78,107.46 L335.90,104.93 L336.03,103.27 L336.16,101.60 L336.29,99.54 L336.42,98.74 L336.55,99.54 L336.68,101.60 L336.81,104.13 L336.94,106.00 L337.06,105.95 L337.19,108.17 L337.32,107.69 L337.45,108.17 L337.58,106.68 L337.71,108.25 L337.84,108.85 L337.97,109.16 L338.10,107.13 L338.22,106.21 L338.35,106.07 L338.48,107.48 L338.61,106.73 L338.74,107.29 L338.87,107.58 L339.00,108.30 L339.13,109.34 L339.25,107.83 L339.38,108.39 L339.51,109.41 L339.64,109.36 L339.77,108.49 L339.90,108.03 L340.03,108.87 L340.16,106.60 L340.29,106.91 L340.41,107.57 L340.54,107.02 L340.67,108.94 L340.80,107.74 L340.93,108.38 L341.06,109.02 L341.19,107.99 L341.32,108.67 L341.45,107.50 L341.57,106.63 L341.70,106.63 L341.83,106.43 L341.96,104.99 L342.09,103.81 L342.22,103.35 L342.35,103.81 L342.48,104.99 L342.61,106.43 L342.73,106.99 L342.86,107.68 L342.99,107.91 L343.12,107.37 L343.25,106.70 L343.38,107.14 L343.51,106.55 L343.64,108.79 L343.76,108.30 L343.89,108.14 L344.02,109.03 L344.15,106.91 L344.28,108.53 L344.41,109.33 L344.54,108.62 L344.67,108.39 L344.80,108.25 L344.92,109.14 L345.05,107.81 L345.18,105.24 L345.31,103.70 L345.44,105.24 L345.57,107.81 L345.70,107.51 L345.83,106.00 L345.96,104.73 L346.08,106.00 L346.21,108.11 L346.34,109.20 L346.47,108.94 L346.60,107.00 L346.73,108.74 L346.86,108.33 L346.99,108.54 L347.12,107.09 L347.24,107.03 L347.37,106.73 L347.50,109.14 L347.63,108.68 L347.76,109.41 L347.89,108.32 L348.02,106.99 L348.15,107.93 L348.28,105.54 L348.40,104.10 L348.53,105.54 L348.66,107.93 L348.79,109.16 L348.92,106.90 L349.05,109.12 L349.18,107.06 L349.31,107.49 L349.43,109.34 L349.56,109.43 L349.69,106.79 L349.82,108.59 L349.95,107.86 L350.08,108.68 L350.21,108.25 L350.34,108.07 L350.47,107.58 L350.59,108.68 L350.72,107.03 L350.85,107.19 L350.98,107.26 L351.11,107.15 L351.24,107.83 L351.37,107.50 L351.50,107.90 L351.63,109.12 L351.75,108.91 L351.88,107.59 L352.01,108.33 L352.14,107.78 L352.27,107.01 L352.40,106.65 L352.53,106.20 L352.66,106.67 L352.79,105.80 L352.91,106.26 L353.04,107.39 L353.17,106.38 L353.30,107.61 L353.43,106.56 L353.56,105.34 L353.69,107.19 L353.82,107.34 L353.94,108.95 L354.07,104.57 L354.20,106.91 L354.33,102.96 L354.46,100.59 L354.59,102.96 L354.72,104.36 L354.85,106.03 L354.98,106.59 L355.10,102.69 L355.23,95.86 L355.36,86.10 L355.49,75.08 L355.62,66.11 L355.75,62.63 L355.88,66.11 L356.01,75.08 L356.14,86.10 L356.26,95.86 L356.39,102.22 L356.52,105.47 L356.65,102.50 L356.78,105.47 L356.91,103.51 L357.04,100.46 L357.17,99.13 L357.30,100.46 L357.42,103.51 L357.55,106.48 L357.68,102.66 L357.81,102.20 L357.94,101.83 L358.07,98.21 L358.20,95.27 L358.33,94.13 L358.45,95.27 L358.58,98.21 L358.71,101.83 L358.84,104.89 L358.97,102.62 L359.10,99.67 L359.23,96.12 L359.36,99.67 L359.49,105.51 L359.61,104.28 L359.74,107.78 L359.87,107.16 L360.00,104.87 L360.13,102.79 L360.26,97.99 L360.39,92.57 L360.52,88.16 L360.65,86.45 L360.77,88.16 L360.90,92.57 L361.03,97.99 L361.16,102.79 L361.29,102.50 L361.42,101.94 L361.55,106.66 L361.68,106.48 L361.81,102.53 L361.93,107.55 L362.06,102.58 L362.19,107.49 L362.32,101.55 L362.45,102.59 L362.58,99.34 L362.71,96.70 L362.84,95.67 L362.96,96.70 L363.09,99.34 L363.22,101.43 L363.35,105.46 L363.48,101.26 L363.61,106.71 L363.74,105.43 L363.87,106.75 L364.00,106.09 L364.12,104.39 L364.25,107.44 L364.38,102.71 L364.51,105.67 L364.64,103.30 L364.77,107.03 L364.90,102.28 L365.03,107.30 L365.16,103.53 L365.28,104.03 L365.41,102.69 L365.54,103.49 L365.67,101.06 L365.80,97.09 L365.93,93.85 L366.06,92.60 L366.19,93.85 L366.32,97.09 L366.44,101.06 L366.57,104.58 L366.70,107.04 L366.83,105.85 L366.96,103.99 L367.09,103.18 L367.22,103.99 L367.35,100.48 L367.47,107.59 L367.60,106.04 L367.73,108.55 L367.86,104.06 L367.99,105.13 L368.12,101.45 L368.25,95.69 L368.38,89.19 L368.51,83.89 L368.63,81.84 L368.76,83.89 L368.89,89.19 L369.02,95.69 L369.15,101.45 L369.28,105.48 L369.41,106.34 L369.54,107.27 L369.67,104.50 L369.79,107.90 L369.92,105.47 L370.05,102.44 L370.18,102.07 L370.31,104.02 L370.44,106.44 L370.57,105.99 L370.70,102.84 L370.83,101.81 L370.95,98.21 L371.08,95.27 L371.21,94.13 L371.34,95.27 L371.47,98.21 L371.60,101.83 L371.73,105.03 L371.86,106.30 L371.98,106.68 L372.11,102.92 L372.24,102.82 L372.37,107.64 L372.50,107.81 L372.63,104.58 L372.76,102.27 L372.89,98.53 L373.02,94.57 L373.14,98.53 L373.27,104.81 L373.40,101.44 L373.53,97.65 L373.66,94.56 L373.79,93.36 L373.92,94.56 L374.05,97.65 L374.18,101.44 L374.30,104.81 L374.43,100.48 L374.56,97.22 L374.69,100.48 L374.82,104.79 L374.95,100.15 L375.08,95.39 L375.21,93.31 L375.34,95.39 L375.46,100.15 L375.59,102.47 L375.72,102.43 L375.85,101.98 L375.98,104.25 L376.11,105.55 L376.24,104.20 L376.37,101.44 L376.49,100.32 L376.62,101.50 L376.75,104.20 L376.88,102.19 L377.01,108.48 L377.14,104.74 L377.27,104.15 L377.40,105.59 L377.53,107.26 L377.65,101.76 L377.78,103.36 L377.91,107.03 L378.04,107.08 L378.17,107.72 L378.30,106.82 L378.43,104.13 L378.56,100.29 L378.69,95.96 L378.81,92.43 L378.94,91.06 L379.07,92.43 L379.20,95.96 L379.33,100.29 L379.46,104.13 L379.59,104.16 L379.72,104.55 L379.85,102.14 L379.97,102.66 L380.10,101.48 L380.23,109.18 L380.36,102.63 L380.49,107.15 L380.62,105.22 L380.75,103.34 L380.88,107.91 L381.00,106.41 L381.13,105.90 L381.26,104.92 L381.39,104.97 L381.52,106.45 L381.65,101.80 L381.78,99.02 L381.91,101.80 L382.04,103.45 L382.16,100.37 L382.29,99.03 L382.42,100.37 L382.55,103.45 L382.68,103.62 L382.81,105.63 L382.94,103.87 L383.07,107.43 L383.20,105.61 L383.32,104.20 L383.45,105.61 L383.58,106.77 L383.71,104.67 L383.84,103.29 L383.97,101.68 L384.10,101.05 L384.23,101.68 L384.36,103.29 L384.48,104.35 L384.61,105.13 L384.74,108.27 L384.87,106.81 L385.00,105.26 L385.13,106.81 L385.26,107.55 L385.39,107.56 L385.51,108.36 L385.64,105.25 L385.77,105.00 L385.90,107.32 L386.03,105.99 L386.16,108.80 L386.29,106.59 L386.42,105.08 L386.55,103.60 L386.67,105.17 L386.80,107.78 L386.93,107.49 L387.06,107.67 L387.19,105.96 L387.32,105.26 L387.45,105.40 L387.58,107.01 L387.71,106.90 L387.83,108.39 L387.96,105.97 L388.09,107.44 L388.22,107.98 L388.35,105.38 L388.48,109.16 L388.61,108.93 L388.74,106.84 L388.87,102.78 L388.99,100.36 L389.12,102.78 L389.25,106.84 L389.38,105.36 L389.51,107.89 L389.64,105.64 L389.77,105.81 L389.90,107.01 L390.02,106.45 L390.15,105.42 L390.28,105.40 L390.41,106.63 L390.54,105.34 L390.67,104.54 L390.80,105.86 L390.93,108.06 L391.06,106.62 L391.18,108.26 L391.31,108.57 L391.44,106.94 L391.57,107.26 L391.70,106.13 L391.83,105.63 L391.96,106.13 L392.09,103.74 L392.22,101.04 L392.34,98.83 L392.47,97.97 L392.60,98.83 L392.73,101.04 L392.86,103.74 L392.99,103.59 L393.12,101.45 L393.25,103.59 L393.38,106.54 L393.50,106.61 L393.63,108.71 L393.76,108.16 L393.89,106.82 L394.02,104.90 L394.15,102.73 L394.28,100.96 L394.41,100.28 L394.53,100.96 L394.66,102.73 L394.79,104.90 L394.92,105.60 L395.05,108.16 L395.18,108.93 L395.31,108.91 L395.44,108.32 L395.57,106.47 L395.69,108.02 L395.82,105.77 L395.95,105.07 L396.08,104.42 L396.21,105.07 L396.34,106.57 L396.47,107.16 L396.60,107.59 L396.73,106.75 L396.85,109.18 L396.98,108.97 L397.11,106.54 L397.24,108.31 L397.37,107.13 L397.50,106.60 L397.63,108.66 L397.76,106.71 L397.89,106.47 L398.01,108.95 L398.14,108.66 L398.27,108.54 L398.40,108.51 L398.53,107.17 L398.66,108.57 L398.79,108.79 L398.92,106.96 L399.04,108.90 L399.17,107.36 L399.30,107.16 L399.43,107.88 L399.56,107.98 L399.69,105.65 L399.82,104.26 L399.95,105.65 L400.08,107.54 L400.20,108.51 L400.33,108.93 L400.46,107.03 L400.59,108.52 L400.72,108.64 L400.85,108.93 L400.98,108.92 L401.11,107.89 L401.24,109.12 L401.36,108.57 L401.49,109.47 L401.62,107.77 L401.75,108.05 L401.88,107.91 L402.01,108.77 L402.14,108.49 L402.27,108.77 L402.40,107.88 L402.52,108.78 L402.65,108.27 L402.78,109.40 L402.91,109.12 L403.04,107.99 L403.17,109.11 L403.30,108.47 L403.43,107.45 L403.55,106.41 L403.68,105.96 L403.81,106.41 L403.94,107.45 L404.07,108.47 L404.20,108.24 L404.33,107.78 L404.46,108.72 L404.59,107.92 L404.71,107.84 L404.84,108.27 L404.97,107.83 L405.10,108.27 L405.23,109.01 L405.36,108.66 L405.49,108.28 L405.62,108.80 L405.75,108.91 L405.87,108.69 L406.00,108.37 L406.13,107.91 L406.26,107.93 L406.39,108.76 L406.52,108.34 L406.65,109.07 L406.78,107.96 L406.91,108.54 L407.03,108.81 L407.16,107.96 L407.29,108.04 L407.42,107.99 L407.55,108.79 L407.68,109.13 L407.81,108.79 L407.94,108.00 L408.06,107.38 L408.19,107.07 L408.32,107.38 L408.45,108.10 L408.58,108.79 L408.71,109.23 L408.84,108.63 L408.97,109.38 L409.10,108.78 L409.22,108.90 L409.35,108.31 L409.48,107.70 L409.61,107.44 L409.74,107.70 L409.87,108.31 L410.00,107.95 L410.13,109.22 L410.26,108.04 L410.38,108.84 L410.51,108.46 L410.64,107.94 L410.77,106.81 L410.90,105.55 L411.03,104.52 L411.16,104.12 L411.29,104.52 L411.42,105.55 L411.54,106.81 L411.67,107.94 L411.80,108.72 L411.93,108.80 L412.06,109.35 L412.19,108.71 L412.32,107.74 L412.45,107.10 L412.57,107.74 L412.70,108.61 L412.83,107.95 L412.96,108.26 L413.09,108.72 L413.22,107.94 L413.35,106.81 L413.48,105.55 L413.61,104.52 L413.73,104.12 L413.86,104.52 L413.99,105.55 L414.12,106.81 L414.25,107.94 L414.38,107.07 L414.51,106.19 L414.64,107.07 L414.77,108.54 L414.89,108.19 L415.02,107.84 L415.15,108.16 L415.28,107.48 L415.41,107.18 L415.54,107.48 L415.67,108.16 L415.80,107.34 L415.93,106.56 L416.05,107.34 L416.18,108.64 L416.31,109.32 L416.44,108.55 L416.57,108.90 L416.70,108.31 L416.83,109.07 L416.96,109.09 L417.08,108.77 L417.21,108.91 L417.34,107.93 L417.47,108.11 L417.60,107.93 L417.73,108.08 L417.86,108.06 L417.99,108.91 L418.12,108.77 L418.24,108.66 L418.37,108.77 L418.50,107.93 L418.63,109.15 L418.76,109.07 L418.89,108.61 L419.02,107.96 L419.15,108.67 L419.28,109.17 L419.40,108.64 L419.53,109.03 L419.66,108.60 L419.79,108.83 L419.92,108.60 L420.05,109.12 L420.18,108.39 L420.31,109.17 L420.44,108.08 L420.56,108.50 L420.69,108.36 L420.82,108.50 L420.95,107.99 L421.08,108.41 L421.21,108.76 L421.34,108.20 L421.47,109.11 L421.59,108.61 L421.72,109.39 L421.85,109.16 L421.98,108.85 L422.11,108.13 L422.24,108.49 L422.37,108.35 L422.50,108.42 L422.63,108.88 L422.75,107.97 L422.88,107.99 L423.01,109.17 L423.14,107.92 L423.27,108.45 L423.40,108.00 L423.53,108.02 L423.66,108.86 L423.79,108.93 L423.91,108.83 L424.04,109.34 L424.17,108.69 L424.30,108.69 L424.43,107.88 L424.56,107.06 L424.69,106.70 L424.82,107.06 L424.95,107.88 L425.07,108.69 L425.20,108.71 L425.33,107.99 L425.46,108.49 L425.59,109.00 L425.72,108.23 L425.85,107.77 L425.98,108.12 L426.10,107.99 L426.23,109.16 L426.36,109.25 L426.49,108.83 L426.62,108.76 L426.75,108.28 L426.88,107.84 L427.01,108.28 L427.14,108.19 L427.26,108.34 L427.39,107.74 L427.52,107.48 L427.65,107.74 L427.78,108.34 L427.91,108.91 L428.04,108.55 L428.17,108.69 L428.30,109.21 L428.42,108.05 L428.55,108.83 L428.68,108.11 L428.81,109.30 L428.94,108.59 L429.07,108.61 L429.20,108.29 L429.33,108.00 L429.46,109.00 L429.58,108.15 L429.71,108.92 L429.84,108.21 L429.97,108.56 L430.10,109.25 L430.23,108.75 L430.36,108.89 L430.49,106.65 L430.61,107.88 L430.74,107.69 L430.87,107.92 L431.00,105.92 L431.13,108.97 L431.26,108.98 L431.39,107.72 L431.52,105.01 L431.65,105.05 L431.77,105.60 L431.90,104.58 L432.03,101.06 L432.16,97.09 L432.29,93.85 L432.42,92.60 L432.55,93.85 L432.68,97.09 L432.81,101.06 L432.93,104.58 L433.06,107.04 L433.19,107.51 L433.32,105.93 L433.45,104.99 L433.58,106.53 L433.71,107.34 L433.84,104.76 L433.97,105.14 L434.09,106.23 L434.22,105.60 L434.35,103.82 L434.48,106.00 L434.61,107.64 L434.74,107.74 L434.87,108.72 L435.00,106.03 L435.12,108.60 L435.25,104.03 L435.38,104.10 L435.51,107.11 L435.64,104.05 L435.77,102.99 L435.90,104.72 L436.03,105.39 L436.16,103.55 L436.28,106.17 L436.41,105.84 L436.54,108.06 L436.67,106.17 L436.80,104.84 L436.93,105.82 L437.06,104.93 L437.19,104.40 L437.32,104.46 L437.44,107.41 L437.57,107.92 L437.70,108.11 L437.83,108.01 L437.96,107.85 L438.09,104.28 L438.22,102.75 L438.35,100.31 L438.48,102.75 L438.60,104.15 L438.73,104.19 L438.86,104.42 L438.99,101.83 L439.12,100.70 L439.25,101.83 L439.38,103.84 L439.51,102.99 L439.63,103.75 L439.76,104.54 L439.89,103.31 L440.02,103.27 L440.15,103.26 L440.28,105.04 L440.41,103.36 L440.54,100.47 L440.67,98.12 L440.79,97.21 L440.92,97.99 L441.05,99.46 L441.18,102.85 L441.31,105.92 L441.44,107.71 L441.57,108.74 L441.70,106.12 L441.83,107.51 L441.95,106.78 L442.08,104.81 L442.21,108.37 L442.34,105.43 L442.47,104.62 L442.60,107.08 L442.73,105.28 L442.86,105.28 L442.99,99.45 L443.11,95.82 L443.24,99.45 L443.37,105.52 L443.50,107.35 L443.63,102.91 L443.76,106.89 L443.89,102.55 L444.02,105.75 L444.14,104.92 L444.27,104.18 L444.40,105.51 L444.53,104.72 L444.66,103.27 L444.79,103.21 L444.92,107.53 L445.05,105.58 L445.18,103.59 L445.30,102.70 L445.43,103.59 L445.56,105.58 L445.69,102.94 L445.82,100.29 L445.95,95.96 L446.08,92.43 L446.21,91.06 L446.34,92.43 L446.46,95.96 L446.59,100.29 L446.72,104.13 L446.85,106.17 L446.98,102.89 L447.11,99.53 L447.24,98.06 L447.37,99.53 L447.50,102.89 L447.62,102.23 L447.75,101.80 L447.88,105.10 L448.01,102.12 L448.14,101.76 L448.27,98.21 L448.40,95.27 L448.53,94.13 L448.65,95.27 L448.78,98.21 L448.91,101.83 L449.04,102.89 L449.17,107.27 L449.30,103.33 L449.43,107.44 L449.56,108.61 L449.69,102.84 L449.81,106.82 L449.94,104.13 L450.07,100.29 L450.20,95.96 L450.33,92.43 L450.46,91.06 L450.59,92.43 L450.72,95.96 L450.85,100.29 L450.97,104.13 L451.10,102.17 L451.23,103.24 L451.36,98.76 L451.49,93.70 L451.62,89.58 L451.75,87.99 L451.88,89.58 L452.01,93.70 L452.13,98.76 L452.26,102.40 L452.39,102.17 L452.52,100.90 L452.65,96.53 L452.78,94.62 L452.91,96.53 L453.04,100.90 L453.16,103.22 L453.29,106.31 L453.42,105.55 L453.55,104.34 L453.68,106.12 L453.81,109.39 L453.94,105.90 L454.07,103.12 L454.20,102.66 L454.32,102.83 L454.45,104.67 L454.58,102.60 L454.71,107.52 L454.84,108.51 L454.97,107.83 L455.10,106.15 L455.23,103.08 L455.36,99.88 L455.48,96.40 L455.61,97.97 L455.74,98.83 L455.87,101.04 L456.00,103.74 L456.13,104.95 L456.26,103.83 L456.39,103.90 L456.52,108.64 L456.64,102.31 L456.77,108.54 L456.90,108.51 L457.03,105.49 L457.16,106.98 L457.29,106.47 L457.42,106.67 L457.55,105.37 L457.67,106.70 L457.80,105.16 L457.93,105.65 L458.06,104.26 L458.19,102.92 L458.32,103.69 L458.45,99.52 L458.58,94.83 L458.71,91.01 L458.83,89.52 L458.96,91.01 L459.09,94.83 L459.22,99.52 L459.35,103.69 L459.48,104.67 L459.61,107.23 L459.74,107.10 L459.87,105.18 L459.99,102.43 L460.12,107.83 L460.25,105.69 L460.38,99.88 L460.51,96.40 L460.64,99.88 L460.77,105.69 L460.90,103.02 L461.03,98.37 L461.15,93.14 L461.28,88.87 L461.41,87.22 L461.54,88.87 L461.67,93.14 L461.80,98.37 L461.93,103.02 L462.06,106.26 L462.18,106.56 L462.31,104.57 L462.44,105.15 L462.57,108.18 L462.70,107.79 L462.83,106.08 L462.96,104.31 L463.09,106.08 L463.22,106.90 L463.34,103.58 L463.47,97.65 L463.60,89.17 L463.73,79.59 L463.86,71.80 L463.99,68.78 L464.12,71.80 L464.25,79.59 L464.38,89.17 L464.50,97.65 L464.63,103.58 L464.76,105.51 L464.89,104.03 L465.02,104.72 L465.15,102.95 L465.28,104.33 L465.41,103.61 L465.54,107.61 L465.66,107.32 L465.79,106.50 L465.92,101.92 L466.05,99.18 L466.18,101.92 L466.31,106.50 L466.44,106.76 L466.57,102.60 L466.69,100.10 L466.82,102.60 L466.95,106.76 L467.08,107.51 L467.21,104.46 L467.34,102.64 L467.47,104.46 L467.60,104.76 L467.73,107.15 L467.85,103.56 L467.98,101.41 L468.11,103.56 L468.24,106.90 L468.37,106.52 L468.50,106.28 L468.63,105.89 L468.76,104.13 L468.89,101.60 L469.01,99.54 L469.14,98.74 L469.27,99.54 L469.40,101.60 L469.53,104.13 L469.66,105.84 L469.79,105.83 L469.92,105.30 L470.05,103.79 L470.17,105.30 L470.30,107.84 L470.43,107.34 L470.56,106.24 L470.69,108.03 L470.82,109.22 L470.95,109.09 L471.08,108.95 L471.20,108.84 L471.33,107.79 L471.46,107.22 L471.59,107.83 L471.72,108.47 L471.85,107.78 L471.98,109.14 L472.11,108.47 L472.24,106.97 L472.36,106.05 L472.49,106.97 L472.62,106.51 L472.75,106.98 L472.88,106.31 L473.01,108.72 L473.14,108.40 L473.27,108.41 L473.40,108.15 L473.52,108.25 L473.65,106.34 L473.78,105.20 L473.91,106.34 L474.04,107.39 L474.17,108.07 L474.30,108.71 L474.43,107.15 L474.56,108.44 L474.68,109.09 L474.81,108.97 L474.94,107.80 L475.07,105.37 L475.20,103.88 L475.33,105.37 L475.46,107.86 L475.59,107.73 L475.71,106.40 L475.84,108.45 L475.97,107.49 L476.10,106.60 L476.23,106.92 L476.36,106.42 L476.49,108.01 L476.62,107.84 L476.75,107.71 L476.87,106.50 L477.00,106.72 L477.13,104.90 L477.26,103.24 L477.39,104.90 L477.52,107.68 L477.65,107.90 L477.78,106.80 L477.91,107.45 L478.03,108.09 L478.16,107.98 L478.29,108.39 L478.42,106.79 L478.55,108.01 L478.68,109.05 L478.81,107.01 L478.94,109.18 L479.07,106.77 L479.19,108.41 L479.32,106.56 L479.45,109.02 L479.58,106.69 L479.71,107.21 L479.84,108.97 L479.97,109.20 L480.10,109.42 L480.23,107.65 L480.35,109.26 L480.48,107.43 L480.61,107.83 L480.74,108.51 L480.87,106.66 L481.00,108.00 L481.13,108.72 L481.26,109.37 L481.38,108.74 L481.51,107.54 L481.64,109.27 L481.77,106.86 L481.90,108.15 L482.03,108.10 L482.16,106.76 L482.29,108.79 L482.42,107.00 L482.54,106.94 L482.67,107.52 L482.80,108.26 L482.93,107.81 L483.06,107.27 L483.19,109.01 L483.32,108.66 L483.45,107.71 L483.58,108.66 L483.70,107.75 L483.83,105.09 L483.96,103.50 L484.09,105.09 L484.22,107.50 L484.35,106.28 L484.48,107.93 L484.61,107.42 L484.74,107.97 L484.86,107.20 L484.99,106.32 L485.12,106.32 L485.25,106.38 L485.38,108.90 L485.51,106.89 L485.64,106.19 L485.77,106.47 L485.89,105.68 L486.02,106.11 L486.15,107.59 L486.28,108.04 L486.41,105.69 L486.54,105.86 L486.67,103.89 L486.80,101.44 L486.93,97.65 L487.05,94.56 L487.18,93.36 L487.31,94.56 L487.44,97.65 L487.57,101.44 L487.70,104.81 L487.83,105.63 L487.96,105.60 L488.09,108.37 L488.21,108.11 L488.34,106.82 L488.47,106.72 L488.60,108.74 L488.73,106.41 L488.86,105.53 L488.99,104.09 L489.12,105.53 L489.25,105.99 L489.37,104.20 L489.50,103.42 L489.63,104.20 L489.76,105.99 L489.89,105.21 L490.02,106.50 L490.15,104.15 L490.28,108.56 L490.40,109.00 L490.53,107.70 L490.66,105.80 L490.79,106.86 L490.92,108.15 L491.05,108.42 L491.18,104.50 L491.31,106.46 L491.44,105.02 L491.56,107.53 L491.69,106.92 L491.82,104.69 L491.95,103.74 L492.08,101.04 L492.21,98.83 L492.34,97.97 L492.47,98.83 L492.60,101.04 L492.72,103.74 L492.85,104.61 L492.98,107.83 L493.11,104.96 L493.24,108.51 L493.37,104.47 L493.50,105.79 L493.63,105.70 L493.76,107.59 L493.88,107.27 L494.01,106.93 L494.14,107.61 L494.27,107.85 L494.40,107.01 L494.53,106.64 L494.66,105.02 L494.79,107.85 L494.91,106.52 L495.04,107.36 L495.17,108.22 L495.30,105.70 L495.43,108.79 L495.56,108.16 L495.69,106.81 L495.82,104.90 L495.95,102.73 L496.07,100.96 L496.20,100.28 L496.33,100.96 L496.46,102.73 L496.59,104.90 L496.72,106.82 L496.85,105.33 L496.98,106.79 L497.11,109.03 L497.23,107.07 L497.36,107.96 L497.49,105.91 L497.62,106.70 L497.75,107.78 L497.88,108.00 L498.01,106.64 L498.14,107.25 L498.27,106.24 L498.39,108.08 L498.52,109.25 L498.65,108.36 L498.78,105.13 L498.91,103.62 L499.04,101.49 L499.17,103.62 L499.30,104.66 L499.42,105.94 L499.55,105.92 L499.68,103.36 L499.81,100.47 L499.94,98.12 L500.07,97.21 L500.20,98.12 L500.33,100.47 L500.46,103.36 L500.58,105.92 L500.71,106.96 L500.84,108.33 L500.97,108.26 L501.10,105.83 L501.23,106.01 L501.36,108.05 L501.49,105.17 L501.62,105.65 L501.74,107.31 L501.87,108.05 L502.00,105.68 L502.13,109.22 L502.26,108.68 L502.39,107.13 L502.52,108.63 L502.65,105.52 L502.78,109.43 L502.90,108.12 L503.03,106.84 L503.16,102.79 L503.29,100.37 L503.42,102.79 L503.55,106.05 L503.68,104.42 L503.81,103.10 L503.93,102.58 L504.06,103.10 L504.19,104.42 L504.32,106.05 L504.45,106.02 L504.58,106.77 L504.71,107.46 L504.84,105.19 L504.97,105.53 L505.09,106.44 L505.22,105.13 L505.35,108.33 L505.48,107.86 L505.61,106.92 L505.74,107.45 L505.87,105.12 L506.00,107.56 L506.13,107.42 L506.25,104.25 L506.38,102.35 L506.51,104.25 L506.64,107.42 L506.77,107.41 L506.90,108.16 L507.03,108.97 L507.16,109.32 L507.29,106.28 L507.41,107.34 L507.54,107.58 L507.67,104.65 L507.80,102.90 L507.93,104.65 L508.06,106.73 L508.19,106.69 L508.32,107.21 L508.44,107.35 L508.57,109.11 L508.70,108.66 L508.83,106.83 L508.96,106.49 L509.09,108.81 L509.22,106.29 L509.35,109.37 L509.48,106.75 L509.60,108.47 L509.73,108.04 L509.86,107.64 L509.99,107.36 L510.12,106.59 L510.25,106.16 L510.38,107.17 L510.51,107.00 L510.64,107.58 L510.76,108.90 L510.89,108.56 L511.02,106.14 L511.15,106.23 L511.28,107.04 L511.41,108.90 L511.54,107.17 L511.67,106.18 L511.80,106.47 L511.92,106.53 L512.05,107.73 L512.18,107.08 L512.31,107.17 L512.44,107.56 L512.57,105.65 L512.70,103.68 L512.83,102.83 L512.95,103.68 L513.08,105.65 L513.21,107.12 L513.34,106.74 L513.47,108.14 L513.60,108.03 L513.73,108.90 L513.86,108.75 L513.99,106.49 L514.11,107.07 L514.24,107.75 L514.37,106.20 L514.50,107.75 L514.63,106.22 L514.76,106.61 L514.89,106.13 L515.02,107.24 L515.15,108.51 L515.27,108.12 L515.40,106.02 L515.53,104.76 L515.66,106.02 L515.79,107.04 L515.92,108.89 L516.05,108.27 L516.18,108.81 L516.31,106.36 L516.43,107.05 L516.56,108.78 L516.69,107.75 L516.82,106.73 L516.95,107.59 L517.08,108.68 L517.21,109.18 L517.34,108.42 L517.46,106.75 L517.59,109.06 L517.72,109.47 L517.85,106.44 L517.98,106.47 L518.11,108.08 L518.24,106.25 L518.37,107.87 L518.50,108.82 L518.62,106.79 L518.75,108.82 L518.88,107.81 L519.01,108.26 L519.14,107.12 L519.27,106.21 L519.40,107.18 L519.53,107.39 L519.66,108.45 L519.78,108.79 L519.91,107.70 L520.04,108.00 L520.17,107.81 L520.30,106.91 L520.43,109.11 L520.56,106.22 L520.69,106.33 L520.82,107.49 L520.94,106.20 L521.07,108.60 L521.20,107.84 L521.33,108.28 L521.46,108.63 L521.59,108.80 L521.72,108.55 L521.85,108.56 L521.97,106.50 L522.10,109.11 L522.23,108.94 L522.36,108.09 L522.49,107.58 L522.62,108.09 L522.75,106.47 L522.88,108.85 L523.01,109.46 L523.13,106.20 L523.26,107.98 L523.39,105.67 L523.52,104.29 L523.65,105.67 L523.78,107.29 L523.91,108.11 L524.04,106.41 L524.17,106.81 L524.29,105.55 L524.42,104.52 L524.55,104.12 L524.68,104.52 L524.81,105.55 L524.94,106.81 L525.07,106.65 L525.20,107.39 L525.33,108.31 L525.45,108.88 L525.58,106.80 L525.71,107.07 L525.84,108.98 L525.97,107.72 L526.10,106.81 L526.23,106.46 L526.36,107.29 L526.48,106.17 L526.61,105.68 L526.74,106.17 L526.87,107.29 L527.00,106.14 L527.13,107.17 L527.26,106.32 L527.39,107.17 L527.52,106.81 L527.64,106.26 L527.77,106.89 L527.90,107.12 L528.03,109.03 L528.16,108.74 L528.29,107.08 L528.42,108.88 L528.55,107.51 L528.68,108.47 L528.80,108.29 L528.93,107.18 L529.06,107.80 L529.19,108.87 L529.32,107.86 L529.45,106.25 L529.58,104.60 L529.71,103.87 L529.84,104.60 L529.96,106.25 L530.09,107.07 L530.22,106.29 L530.35,106.58 L530.48,107.89 L530.61,109.40 L530.74,108.51 L530.87,107.51 L530.99,104.91 L531.12,103.25 L531.25,104.91 L531.38,107.68 L531.51,107.83 L531.64,106.39 L531.77,106.45 L531.90,108.17 L532.03,107.46 L532.15,104.77 L532.28,103.05 L532.41,104.77 L532.54,106.53 L532.67,108.64 L532.80,108.34 L532.93,107.36 L533.06,106.00 L533.19,108.00 L533.31,106.03 L533.44,107.63 L533.57,104.78 L533.70,103.07 L533.83,104.78 L533.96,106.72 L534.09,108.43 L534.22,107.62 L534.35,108.16 L534.47,107.20 L534.60,106.11 L534.73,105.23 L534.86,104.89 L534.99,105.23 L535.12,106.11 L535.25,103.99 L535.38,101.99 L535.50,103.99 L535.63,106.33 L535.76,106.23 L535.89,107.33 L536.02,104.03 L536.15,102.05 L536.28,104.03 L536.41,107.33 L536.54,107.22 L536.66,108.51 L536.79,106.48 L536.92,108.52 L537.05,106.21 L537.18,106.14 L537.31,105.87 L537.44,107.40 L537.57,106.60 L537.70,107.92 L537.82,107.08 L537.95,107.70 L538.08,108.65 L538.21,109.16 L538.34,106.91 L538.47,107.90 L538.60,108.99 L538.73,108.67 L538.86,107.31 L538.98,105.08 L539.11,106.14 L539.24,107.22 L539.37,107.58 L539.50,108.30 L539.63,105.18 L539.76,109.09 L539.89,105.82 L540.01,108.10 L540.14,108.24 L540.27,106.01 L540.40,105.47 L540.53,108.88 L540.66,105.73 L540.79,106.59 L540.92,104.51 L541.05,102.16 L541.17,100.25 L541.30,99.51 L541.43,100.25 L541.56,102.16 L541.69,104.51 L541.82,106.59 L541.95,108.05 L542.08,106.93 L542.21,104.39 L542.33,101.79 L542.46,100.66 L542.59,101.79 L542.72,104.39 L542.85,106.93 L542.98,107.22 L543.11,106.24 L543.24,106.05 L543.37,107.11 L543.49,103.47 L543.62,101.28 L543.75,103.47 L543.88,107.11 L544.01,106.13 L544.14,105.83 L544.27,108.88 L544.40,105.64 L544.52,107.77 L544.65,107.43 L544.78,107.58 L544.91,106.68 L545.04,105.94 L545.17,105.66 L545.30,105.94 L545.43,106.68 L545.56,106.75 L545.68,106.85 L545.81,108.94 L545.94,105.43 L546.07,107.72" fill="none" stroke="#0072BD" stroke-width="0.75" stroke-linejoin="round"/>
<path d="M282.30,108.62 L282.43,108.67 L282.56,108.84 L282.69,108.81 L282.82,108.79 L282.94,108.91 L283.07,108.76 L283.20,108.76 L283.33,108.75 L283.46,108.61 L283.59,108.72 L283.72,108.69 L283.85,108.69 L283.98,108.77 L284.10,108.74 L284.23,108.80 L284.36,108.56 L284.49,107.04 L284.62,104.62 L284.75,102.13 L284.88,101.05 L285.01,102.13 L285.13,104.62 L285.26,107.04 L285.39,108.56 L285.52,108.71 L285.65,108.74 L285.78,108.87 L285.91,108.93 L286.04,108.74 L286.17,108.72 L286.29,108.76 L286.42,108.69 L286.55,108.65 L286.68,108.62 L286.81,108.64 L286.94,108.40 L287.07,108.69 L287.20,108.73 L287.33,108.85 L287.45,108.91 L287.58,108.93 L287.71,108.80 L287.84,108.84 L287.97,108.77 L288.10,108.70 L288.23,108.75 L288.36,108.70 L288.49,108.64 L288.61,108.59 L288.74,108.66 L288.87,108.57 L289.00,108.23 L289.13,108.57 L289.26,108.87 L289.39,108.90 L289.52,108.76 L289.64,108.65 L289.77,108.34 L289.90,108.65 L290.03,108.80 L290.16,108.84 L290.29,108.70 L290.42,108.79 L290.55,108.73 L290.68,108.80 L290.80,108.90 L290.93,108.84 L291.06,108.80 L291.19,108.81 L291.32,108.74 L291.45,108.29 L291.58,107.85 L291.71,108.29 L291.84,108.80 L291.96,108.89 L292.09,108.77 L292.22,108.65 L292.35,108.75 L292.48,108.81 L292.61,108.84 L292.74,108.92 L292.87,108.84 L293.00,108.71 L293.12,108.27 L293.25,107.82 L293.38,108.27 L293.51,108.82 L293.64,108.75 L293.77,108.64 L293.90,108.46 L294.03,108.74 L294.15,108.89 L294.28,108.89 L294.41,108.87 L294.54,108.76 L294.67,108.66 L294.80,108.73 L294.93,108.71 L295.06,107.93 L295.19,107.37 L295.31,107.93 L295.44,108.22 L295.57,108.08 L295.70,108.10 L295.83,108.24 L295.96,108.21 L296.09,108.15 L296.22,108.02 L296.35,107.67 L296.47,107.56 L296.60,107.46 L296.73,106.89 L296.86,107.59 L296.99,107.48 L297.12,107.40 L297.25,107.67 L297.38,107.57 L297.51,107.58 L297.63,107.56 L297.76,107.51 L297.89,107.65 L298.02,107.29 L298.15,106.92 L298.28,107.00 L298.41,106.99 L298.54,107.36 L298.66,107.31 L298.79,104.83 L298.92,103.14 L299.05,104.83 L299.18,106.75 L299.31,106.85 L299.44,107.18 L299.57,106.87 L299.70,106.22 L299.82,105.91 L299.95,100.11 L300.08,90.86 L300.21,81.37 L300.34,77.23 L300.47,81.37 L300.60,90.86 L300.73,100.11 L300.86,105.91 L300.98,106.05 L301.11,105.84 L301.24,104.36 L301.37,99.29 L301.50,94.09 L301.63,91.83 L301.76,94.09 L301.89,99.29 L302.02,104.36 L302.14,105.65 L302.27,106.01 L302.40,106.02 L302.53,105.66 L302.66,105.72 L302.79,105.64 L302.92,105.50 L303.05,105.55 L303.17,105.48 L303.30,101.51 L303.43,97.44 L303.56,95.67 L303.69,97.44 L303.82,101.51 L303.95,105.48 L304.08,105.53 L304.21,105.51 L304.33,103.77 L304.46,101.70 L304.59,103.77 L304.72,104.60 L304.85,105.12 L304.98,105.21 L305.11,105.38 L305.24,104.16 L305.37,105.58 L305.49,105.60 L305.62,105.48 L305.75,104.57 L305.88,102.78 L306.01,104.57 L306.14,105.78 L306.27,105.31 L306.40,105.34 L306.53,105.21 L306.65,105.32 L306.78,105.57 L306.91,105.25 L307.04,105.40 L307.17,104.73 L307.30,105.51 L307.43,105.66 L307.56,105.30 L307.68,105.12 L307.81,105.09 L307.94,105.03 L308.07,104.85 L308.20,104.83 L308.33,105.28 L308.46,105.31 L308.59,105.32 L308.72,105.03 L308.84,105.08 L308.97,105.90 L309.10,105.59 L309.23,105.11 L309.36,103.53 L309.49,104.64 L309.62,105.41 L309.75,105.06 L309.88,102.80 L310.00,101.82 L310.13,102.80 L310.26,105.06 L310.39,105.45 L310.52,105.63 L310.65,105.20 L310.78,104.90 L310.91,105.38 L311.04,105.97 L311.16,104.83 L311.29,105.28 L311.42,105.55 L311.55,105.93 L311.68,105.84 L311.81,105.87 L311.94,104.64 L312.07,105.88 L312.19,105.91 L312.32,105.93 L312.45,105.87 L312.58,105.63 L312.71,105.37 L312.84,105.54 L312.97,105.92 L313.10,106.12 L313.23,105.76 L313.35,103.39 L313.48,101.18 L313.61,103.39 L313.74,101.46 L313.87,100.28 L314.00,101.46 L314.13,104.17 L314.26,106.46 L314.39,106.47 L314.51,105.66 L314.64,105.46 L314.77,105.91 L314.90,102.78 L315.03,100.36 L315.16,102.78 L315.29,105.53 L315.42,105.81 L315.55,105.77 L315.67,105.50 L315.80,105.08 L315.93,104.38 L316.06,102.53 L316.19,104.38 L316.32,103.47 L316.45,102.58 L316.58,103.47 L316.70,105.51 L316.83,106.16 L316.96,105.76 L317.09,105.44 L317.22,106.32 L317.35,105.58 L317.48,105.34 L317.61,105.43 L317.74,105.48 L317.86,105.78 L317.99,105.20 L318.12,105.22 L318.25,106.04 L318.38,106.30 L318.51,104.10 L318.64,102.15 L318.77,104.10 L318.90,105.45 L319.02,106.09 L319.15,105.77 L319.28,105.33 L319.41,105.11 L319.54,103.47 L319.67,102.58 L319.80,103.47 L319.93,105.08 L320.06,105.56 L320.18,105.57 L320.31,105.51 L320.44,105.05 L320.57,103.45 L320.70,105.05 L320.83,105.47 L320.96,105.26 L321.09,105.69 L321.21,106.24 L321.34,105.88 L321.47,105.34 L321.60,105.91 L321.73,105.36 L321.86,105.62 L321.99,105.66 L322.12,106.27 L322.25,106.03 L322.37,106.11 L322.50,106.15 L322.63,105.65 L322.76,105.61 L322.89,106.00 L323.02,106.50 L323.15,106.48 L323.28,106.03 L323.41,106.24 L323.53,106.57 L323.66,106.52 L323.79,106.54 L323.92,103.73 L324.05,100.79 L324.18,99.51 L324.31,100.79 L324.44,103.73 L324.57,106.37 L324.69,106.51 L324.82,106.58 L324.95,106.77 L325.08,106.23 L325.21,106.36 L325.34,106.43 L325.47,106.68 L325.60,106.53 L325.72,106.75 L325.85,107.26 L325.98,107.08 L326.11,106.23 L326.24,106.42 L326.37,101.45 L326.50,93.52 L326.63,85.39 L326.76,81.84 L326.88,85.39 L327.01,93.52 L327.14,101.45 L327.27,106.42 L327.40,106.83 L327.53,107.07 L327.66,107.08 L327.79,107.03 L327.92,107.06 L328.04,107.22 L328.17,106.81 L328.30,106.35 L328.43,106.86 L328.56,107.15 L328.69,106.66 L328.82,106.93 L328.95,102.79 L329.08,96.18 L329.20,89.40 L329.33,86.45 L329.46,89.40 L329.59,96.18 L329.72,102.79 L329.85,106.77 L329.98,105.09 L330.11,103.50 L330.23,105.09 L330.36,107.07 L330.49,107.22 L330.62,107.12 L330.75,106.87 L330.88,105.52 L331.01,104.08 L331.14,105.52 L331.27,106.92 L331.39,105.65 L331.52,99.44 L331.65,89.53 L331.78,79.36 L331.91,74.92 L332.04,79.36 L332.17,89.53 L332.30,99.44 L332.43,105.65 L332.55,106.72 L332.68,106.90 L332.81,107.25 L332.94,105.85 L333.07,104.53 L333.20,105.85 L333.33,106.96 L333.46,106.82 L333.59,104.17 L333.71,101.46 L333.84,100.28 L333.97,101.46 L334.10,104.17 L334.23,106.77 L334.36,106.73 L334.49,106.51 L334.62,106.58 L334.74,106.83 L334.87,106.78 L335.00,106.97 L335.13,107.20 L335.26,107.12 L335.39,106.57 L335.52,106.60 L335.65,106.60 L335.78,106.75 L335.90,106.98 L336.03,106.57 L336.16,103.73 L336.29,100.79 L336.42,99.51 L336.55,100.79 L336.68,103.73 L336.81,106.59 L336.94,106.64 L337.06,106.97 L337.19,105.94 L337.32,104.66 L337.45,105.94 L337.58,106.98 L337.71,107.00 L337.84,106.80 L337.97,106.77 L338.10,107.13 L338.22,107.05 L338.35,106.93 L338.48,106.97 L338.61,107.25 L338.74,106.60 L338.87,107.35 L339.00,107.44 L339.13,107.46 L339.25,107.57 L339.38,107.36 L339.51,107.42 L339.64,107.60 L339.77,107.53 L339.90,107.34 L340.03,107.50 L340.16,107.73 L340.29,106.31 L340.41,105.15 L340.54,106.31 L340.67,107.81 L340.80,107.83 L340.93,107.60 L341.06,107.68 L341.19,106.52 L341.32,105.44 L341.45,106.52 L341.57,107.79 L341.70,107.97 L341.83,107.92 L341.96,106.84 L342.09,105.48 L342.22,104.89 L342.35,105.48 L342.48,106.84 L342.61,107.72 L342.73,106.58 L342.86,105.53 L342.99,106.58 L343.12,107.76 L343.25,108.11 L343.38,107.96 L343.51,107.54 L343.64,107.70 L343.76,107.19 L343.89,107.60 L344.02,107.81 L344.15,107.75 L344.28,107.69 L344.41,107.51 L344.54,107.57 L344.67,107.87 L344.80,107.94 L344.92,107.68 L345.05,107.73 L345.18,107.62 L345.31,106.94 L345.44,107.62 L345.57,107.84 L345.70,107.79 L345.83,106.52 L345.96,105.45 L346.08,106.52 L346.21,107.60 L346.34,107.80 L346.47,107.80 L346.60,107.67 L346.73,106.72 L346.86,105.71 L346.99,106.72 L347.12,108.04 L347.24,107.68 L347.37,107.74 L347.50,107.97 L347.63,107.88 L347.76,108.01 L347.89,107.99 L348.02,107.69 L348.15,107.51 L348.28,106.74 L348.40,105.74 L348.53,106.74 L348.66,107.86 L348.79,107.85 L348.92,107.84 L349.05,107.61 L349.18,107.69 L349.31,107.65 L349.43,107.64 L349.56,107.66 L349.69,107.71 L349.82,107.92 L349.95,107.75 L350.08,107.12 L350.21,107.75 L350.34,107.71 L350.47,108.00 L350.59,108.04 L350.72,107.72 L350.85,107.51 L350.98,107.67 L351.11,108.01 L351.24,108.08 L351.37,108.09 L351.50,107.95 L351.63,107.55 L351.75,107.47 L351.88,107.60 L352.01,107.63 L352.14,107.72 L352.27,107.86 L352.40,107.67 L352.53,107.64 L352.66,107.46 L352.79,107.24 L352.91,106.79 L353.04,106.82 L353.17,106.98 L353.30,106.81 L353.43,107.12 L353.56,106.93 L353.69,106.47 L353.82,106.53 L353.94,106.55 L354.07,106.22 L354.20,105.98 L354.33,105.47 L354.46,105.59 L354.59,105.57 L354.72,105.64 L354.85,105.84 L354.98,105.33 L355.10,105.02 L355.23,102.89 L355.36,100.50 L355.49,96.63 L355.62,90.07 L355.75,87.22 L355.88,90.07 L356.01,96.63 L356.14,103.02 L356.26,105.14 L356.39,105.12 L356.52,104.39 L356.65,102.55 L356.78,104.39 L356.91,105.60 L357.04,105.85 L357.17,104.66 L357.30,104.18 L357.42,104.20 L357.55,105.03 L357.68,105.90 L357.81,105.18 L357.94,105.12 L358.07,101.51 L358.20,97.44 L358.33,95.67 L358.45,97.44 L358.58,101.51 L358.71,104.51 L358.84,104.26 L358.97,104.29 L359.10,102.65 L359.23,100.18 L359.36,102.65 L359.49,104.59 L359.61,104.47 L359.74,104.50 L359.87,102.70 L360.00,104.50 L360.13,105.23 L360.26,105.03 L360.39,100.62 L360.52,96.10 L360.65,94.13 L360.77,96.10 L360.90,100.62 L361.03,104.03 L361.16,104.15 L361.29,103.86 L361.42,104.31 L361.55,104.49 L361.68,103.17 L361.81,104.81 L361.93,104.58 L362.06,104.24 L362.19,104.07 L362.32,103.92 L362.45,104.49 L362.58,103.73 L362.71,100.79 L362.84,99.51 L362.96,100.79 L363.09,103.55 L363.22,103.38 L363.35,103.78 L363.48,105.02 L363.61,104.93 L363.74,104.39 L363.87,104.16 L364.00,103.77 L364.12,103.34 L364.25,103.53 L364.38,103.59 L364.51,103.03 L364.64,101.24 L364.77,103.43 L364.90,104.19 L365.03,104.30 L365.16,103.90 L365.28,103.05 L365.41,103.32 L365.54,103.98 L365.67,104.01 L365.80,101.95 L365.93,98.11 L366.06,96.44 L366.19,98.11 L366.32,101.95 L366.44,103.48 L366.57,103.37 L366.70,103.38 L366.83,103.93 L366.96,102.62 L367.09,100.13 L367.22,102.62 L367.35,104.13 L367.47,104.64 L367.60,103.50 L367.73,103.24 L367.86,103.88 L367.99,104.06 L368.12,103.93 L368.25,103.83 L368.38,98.40 L368.51,92.75 L368.63,90.29 L368.76,92.75 L368.89,98.40 L369.02,103.87 L369.15,104.54 L369.28,103.64 L369.41,103.10 L369.54,103.92 L369.67,104.13 L369.79,103.73 L369.92,102.54 L370.05,100.02 L370.18,102.54 L370.31,104.98 L370.44,103.72 L370.57,101.64 L370.70,103.72 L370.83,104.70 L370.95,103.54 L371.08,100.79 L371.21,99.51 L371.34,100.79 L371.47,103.73 L371.60,103.98 L371.73,103.97 L371.86,104.77 L371.98,104.74 L372.11,104.00 L372.24,102.75 L372.37,104.34 L372.50,104.52 L372.63,105.10 L372.76,105.12 L372.89,100.86 L373.02,97.73 L373.14,100.86 L373.27,103.31 L373.40,104.01 L373.53,104.17 L373.66,101.46 L373.79,100.28 L373.92,101.46 L374.05,103.53 L374.18,104.28 L374.30,104.42 L374.43,104.69 L374.56,104.08 L374.69,103.77 L374.82,104.30 L374.95,105.17 L375.08,102.73 L375.21,100.28 L375.34,102.73 L375.46,104.25 L375.59,104.89 L375.72,104.90 L375.85,105.00 L375.98,105.19 L376.11,104.68 L376.24,103.96 L376.37,102.83 L376.49,100.42 L376.62,102.83 L376.75,104.60 L376.88,104.55 L377.01,104.02 L377.14,104.10 L377.27,104.58 L377.40,104.98 L377.53,105.12 L377.65,105.27 L377.78,105.18 L377.91,103.96 L378.04,101.96 L378.17,103.96 L378.30,103.92 L378.43,104.61 L378.56,104.66 L378.69,102.84 L378.81,99.45 L378.94,97.97 L379.07,99.45 L379.20,102.84 L379.33,102.82 L379.46,100.41 L379.59,102.82 L379.72,104.26 L379.85,105.12 L379.97,104.79 L380.10,104.21 L380.23,105.26 L380.36,105.44 L380.49,104.68 L380.62,104.10 L380.75,104.77 L380.88,105.94 L381.00,105.30 L381.13,104.94 L381.26,104.91 L381.39,105.06 L381.52,105.12 L381.65,105.26 L381.78,104.72 L381.91,105.47 L382.04,105.28 L382.16,104.58 L382.29,102.81 L382.42,104.58 L382.55,105.76 L382.68,105.61 L382.81,106.18 L382.94,106.65 L383.07,106.42 L383.20,104.44 L383.32,102.61 L383.45,104.44 L383.58,106.20 L383.71,106.18 L383.84,105.57 L383.97,104.14 L384.10,103.35 L384.23,104.14 L384.36,105.95 L384.48,106.75 L384.61,106.95 L384.74,106.78 L384.87,105.72 L385.00,104.35 L385.13,105.72 L385.26,106.60 L385.39,106.86 L385.51,106.87 L385.64,107.11 L385.77,107.13 L385.90,106.85 L386.03,106.72 L386.16,106.52 L386.29,106.89 L386.42,105.07 L386.55,103.47 L386.67,105.07 L386.80,107.28 L386.93,107.36 L387.06,107.22 L387.19,106.74 L387.32,106.94 L387.45,107.18 L387.58,107.14 L387.71,106.84 L387.83,106.45 L387.96,106.61 L388.09,105.56 L388.22,106.60 L388.35,106.70 L388.48,107.13 L388.61,106.71 L388.74,106.37 L388.87,106.37 L388.99,105.24 L389.12,106.37 L389.25,107.07 L389.38,106.80 L389.51,106.84 L389.64,106.90 L389.77,107.03 L389.90,106.99 L390.02,107.03 L390.15,106.90 L390.28,106.63 L390.41,106.83 L390.54,105.33 L390.67,103.82 L390.80,105.33 L390.93,106.80 L391.06,107.07 L391.18,106.92 L391.31,106.98 L391.44,106.92 L391.57,106.74 L391.70,105.43 L391.83,103.96 L391.96,105.43 L392.09,107.09 L392.22,105.51 L392.34,103.47 L392.47,102.58 L392.60,103.47 L392.73,105.51 L392.86,106.82 L392.99,106.79 L393.12,106.60 L393.25,106.64 L393.38,106.77 L393.50,107.32 L393.63,107.26 L393.76,107.01 L393.89,107.42 L394.02,107.31 L394.15,106.39 L394.28,104.81 L394.41,104.05 L394.53,104.81 L394.66,106.39 L394.79,106.99 L394.92,106.86 L395.05,106.87 L395.18,106.83 L395.31,106.69 L395.44,107.14 L395.57,107.32 L395.69,106.91 L395.82,106.86 L395.95,106.65 L396.08,105.62 L396.21,106.65 L396.34,106.90 L396.47,106.85 L396.60,106.75 L396.73,107.15 L396.85,107.10 L396.98,106.73 L397.11,106.97 L397.24,107.39 L397.37,107.39 L397.50,106.86 L397.63,107.56 L397.76,107.65 L397.89,107.60 L398.01,107.68 L398.14,106.85 L398.27,105.89 L398.40,106.85 L398.53,107.35 L398.66,107.37 L398.79,107.46 L398.92,107.70 L399.04,107.87 L399.17,107.73 L399.30,107.82 L399.43,107.67 L399.56,107.63 L399.69,107.68 L399.82,107.02 L399.95,107.68 L400.08,107.97 L400.20,107.99 L400.33,108.04 L400.46,108.03 L400.59,108.08 L400.72,108.16 L400.85,108.29 L400.98,108.30 L401.11,108.11 L401.24,108.10 L401.36,108.23 L401.49,108.24 L401.62,108.42 L401.75,108.45 L401.88,108.28 L402.01,108.37 L402.14,108.38 L402.27,108.37 L402.40,108.43 L402.52,108.37 L402.65,108.37 L402.78,108.48 L402.91,108.45 L403.04,108.37 L403.17,108.39 L403.30,108.45 L403.43,108.45 L403.55,108.57 L403.68,108.31 L403.81,108.30 L403.94,108.45 L404.07,108.42 L404.20,108.33 L404.33,108.48 L404.46,108.59 L404.59,108.43 L404.71,108.21 L404.84,108.29 L404.97,107.85 L405.10,108.29 L405.23,108.39 L405.36,108.51 L405.49,108.61 L405.62,108.56 L405.75,108.33 L405.87,108.19 L406.00,108.40 L406.13,108.41 L406.26,108.36 L406.39,108.50 L406.52,108.58 L406.65,108.58 L406.78,108.24 L406.91,108.29 L407.03,108.38 L407.16,108.39 L407.29,108.35 L407.42,108.42 L407.55,108.45 L407.68,108.59 L407.81,108.57 L407.94,108.42 L408.06,108.45 L408.19,108.52 L408.32,108.60 L408.45,108.61 L408.58,108.45 L408.71,108.23 L408.84,108.26 L408.97,108.38 L409.10,108.36 L409.22,108.38 L409.35,108.37 L409.48,108.29 L409.61,108.42 L409.74,108.55 L409.87,108.55 L410.00,108.47 L410.13,108.55 L410.26,108.60 L410.38,108.60 L410.51,108.47 L410.64,108.33 L410.77,108.38 L410.90,107.28 L411.03,106.15 L411.16,105.66 L411.29,106.15 L411.42,107.28 L411.54,108.38 L411.67,108.36 L411.80,108.49 L411.93,108.60 L412.06,108.62 L412.19,108.46 L412.32,107.91 L412.45,107.33 L412.57,107.91 L412.70,108.35 L412.83,108.50 L412.96,108.51 L413.09,108.46 L413.22,108.43 L413.35,108.36 L413.48,107.72 L413.61,106.82 L413.73,106.43 L413.86,106.82 L413.99,107.72 L414.12,108.45 L414.25,108.49 L414.38,107.98 L414.51,107.42 L414.64,107.98 L414.77,108.50 L414.89,108.52 L415.02,108.42 L415.15,108.43 L415.28,108.30 L415.41,108.30 L415.54,108.41 L415.67,108.38 L415.80,108.44 L415.93,108.46 L416.05,108.48 L416.18,108.54 L416.31,108.49 L416.44,108.49 L416.57,108.47 L416.70,108.32 L416.83,108.40 L416.96,108.53 L417.08,108.62 L417.21,108.53 L417.34,108.45 L417.47,108.42 L417.60,108.04 L417.73,107.52 L417.86,108.04 L417.99,108.43 L418.12,108.36 L418.24,108.00 L418.37,108.40 L418.50,108.52 L418.63,108.63 L418.76,108.64 L418.89,108.57 L419.02,108.60 L419.15,108.54 L419.28,108.47 L419.40,108.39 L419.53,108.45 L419.66,108.61 L419.79,108.56 L419.92,108.50 L420.05,108.49 L420.18,108.54 L420.31,108.70 L420.44,108.70 L420.56,108.59 L420.69,108.54 L420.82,108.56 L420.95,108.57 L421.08,108.56 L421.21,108.40 L421.34,108.36 L421.47,108.56 L421.59,108.75 L421.72,108.63 L421.85,108.61 L421.98,108.48 L422.11,108.11 L422.24,108.48 L422.37,108.68 L422.50,108.58 L422.63,108.64 L422.75,108.68 L422.88,108.58 L423.01,108.61 L423.14,108.29 L423.27,108.61 L423.40,108.63 L423.53,108.49 L423.66,108.40 L423.79,108.59 L423.91,108.75 L424.04,108.76 L424.17,108.61 L424.30,108.47 L424.43,108.44 L424.56,108.56 L424.69,108.67 L424.82,108.60 L424.95,108.63 L425.07,108.67 L425.20,108.54 L425.33,108.62 L425.46,108.72 L425.59,108.64 L425.72,108.60 L425.85,108.40 L425.98,108.45 L426.10,108.55 L426.23,108.69 L426.36,108.59 L426.49,108.45 L426.62,108.46 L426.75,108.36 L426.88,107.95 L427.01,108.36 L427.14,108.54 L427.26,108.59 L427.39,107.96 L427.52,107.41 L427.65,107.96 L427.78,108.57 L427.91,108.53 L428.04,108.70 L428.17,108.60 L428.30,108.43 L428.42,108.54 L428.55,108.66 L428.68,108.61 L428.81,108.66 L428.94,108.68 L429.07,108.54 L429.20,108.49 L429.33,108.44 L429.46,108.46 L429.58,108.34 L429.71,108.01 L429.84,107.94 L429.97,108.12 L430.10,108.05 L430.23,107.63 L430.36,107.32 L430.49,107.14 L430.61,106.69 L430.74,105.68 L430.87,106.69 L431.00,106.93 L431.13,106.79 L431.26,106.92 L431.39,107.34 L431.52,107.04 L431.65,106.42 L431.77,106.53 L431.90,106.81 L432.03,105.25 L432.16,101.07 L432.29,96.77 L432.42,94.90 L432.55,96.77 L432.68,101.07 L432.81,105.25 L432.93,105.34 L433.06,103.92 L433.19,101.91 L433.32,103.92 L433.45,106.48 L433.58,106.46 L433.71,106.62 L433.84,106.53 L433.97,105.91 L434.09,105.39 L434.22,105.60 L434.35,105.78 L434.48,103.52 L434.61,101.35 L434.74,103.52 L434.87,105.54 L435.00,105.87 L435.12,106.37 L435.25,105.63 L435.38,105.61 L435.51,105.78 L435.64,104.97 L435.77,103.33 L435.90,104.97 L436.03,105.70 L436.16,105.62 L436.28,105.94 L436.41,106.22 L436.54,106.02 L436.67,105.63 L436.80,105.69 L436.93,106.06 L437.06,106.25 L437.19,106.26 L437.32,105.71 L437.44,105.06 L437.57,105.37 L437.70,105.76 L437.83,106.04 L437.96,106.12 L438.09,105.65 L438.22,104.44 L438.35,102.61 L438.48,104.44 L438.60,105.63 L438.73,105.57 L438.86,104.91 L438.99,105.23 L439.12,103.69 L439.25,105.17 L439.38,105.28 L439.51,105.69 L439.63,105.74 L439.76,105.52 L439.89,105.28 L440.02,105.30 L440.15,105.23 L440.28,104.88 L440.41,105.17 L440.54,105.61 L440.67,104.14 L440.79,103.35 L440.92,104.14 L441.05,105.35 L441.18,105.48 L441.31,104.91 L441.44,105.43 L441.57,105.95 L441.70,105.31 L441.83,103.72 L441.95,101.63 L442.08,103.72 L442.21,105.30 L442.34,104.98 L442.47,104.81 L442.60,105.25 L442.73,105.07 L442.86,105.16 L442.99,104.87 L443.11,103.92 L443.24,104.91 L443.37,105.30 L443.50,105.59 L443.63,105.78 L443.76,105.30 L443.89,104.25 L444.02,104.46 L444.14,101.92 L444.27,99.18 L444.40,101.92 L444.53,104.47 L444.66,105.38 L444.79,105.72 L444.92,105.33 L445.05,104.89 L445.18,103.94 L445.30,101.93 L445.43,103.94 L445.56,105.32 L445.69,104.91 L445.82,104.77 L445.95,103.29 L446.08,100.12 L446.21,98.74 L446.34,100.12 L446.46,103.29 L446.59,105.26 L446.72,105.34 L446.85,104.43 L446.98,104.03 L447.11,103.33 L447.24,101.10 L447.37,103.33 L447.50,105.64 L447.62,105.61 L447.75,105.58 L447.88,105.02 L448.01,104.74 L448.14,105.33 L448.27,104.17 L448.40,101.46 L448.53,100.28 L448.65,101.46 L448.78,103.92 L448.91,103.73 L449.04,104.87 L449.17,105.67 L449.30,105.30 L449.43,105.02 L449.56,104.83 L449.69,104.91 L449.81,105.02 L449.94,105.48 L450.07,105.39 L450.20,102.40 L450.33,98.78 L450.46,97.21 L450.59,98.78 L450.72,102.40 L450.85,104.88 L450.97,105.32 L451.10,104.89 L451.23,104.69 L451.36,105.48 L451.49,101.51 L451.62,97.44 L451.75,95.67 L451.88,97.44 L452.01,101.51 L452.13,105.48 L452.26,105.81 L452.39,105.15 L452.52,104.47 L452.65,104.80 L452.78,103.93 L452.91,104.14 L453.04,104.91 L453.16,104.78 L453.29,104.57 L453.42,105.03 L453.55,104.42 L453.68,104.02 L453.81,104.85 L453.94,105.79 L454.07,105.05 L454.20,104.75 L454.32,104.90 L454.45,103.23 L454.58,104.50 L454.71,105.25 L454.84,105.26 L454.97,105.28 L455.10,105.70 L455.23,105.95 L455.36,103.97 L455.48,101.97 L455.61,101.82 L455.74,102.80 L455.87,105.06 L456.00,105.10 L456.13,105.27 L456.26,104.90 L456.39,104.29 L456.52,104.51 L456.64,104.74 L456.77,104.84 L456.90,104.48 L457.03,104.27 L457.16,102.38 L457.29,104.27 L457.42,104.85 L457.55,104.95 L457.67,105.24 L457.80,105.32 L457.93,104.94 L458.06,103.29 L458.19,104.94 L458.32,105.61 L458.45,104.13 L458.58,98.85 L458.71,93.42 L458.83,91.06 L458.96,93.42 L459.09,98.85 L459.22,104.13 L459.35,104.72 L459.48,105.22 L459.61,105.83 L459.74,105.18 L459.87,104.80 L459.99,105.29 L460.12,105.05 L460.25,105.09 L460.38,102.47 L460.51,99.93 L460.64,102.47 L460.77,104.59 L460.90,104.47 L461.03,105.00 L461.15,102.84 L461.28,99.45 L461.41,97.97 L461.54,99.45 L461.67,102.84 L461.80,106.15 L461.93,105.68 L462.06,104.43 L462.18,102.59 L462.31,104.43 L462.44,105.75 L462.57,105.52 L462.70,105.09 L462.83,104.70 L462.96,105.08 L463.09,105.09 L463.22,104.81 L463.34,105.30 L463.47,105.20 L463.60,102.12 L463.73,94.85 L463.86,87.40 L463.99,84.14 L464.12,87.40 L464.25,94.85 L464.38,102.12 L464.50,105.78 L464.63,105.12 L464.76,102.94 L464.89,100.57 L465.02,102.94 L465.15,105.75 L465.28,105.92 L465.41,106.02 L465.54,105.99 L465.66,105.52 L465.79,105.10 L465.92,104.79 L466.05,103.08 L466.18,104.79 L466.31,105.24 L466.44,105.36 L466.57,105.54 L466.69,104.11 L466.82,105.54 L466.95,106.51 L467.08,106.40 L467.21,105.93 L467.34,105.81 L467.47,106.79 L467.60,106.53 L467.73,106.16 L467.85,106.62 L467.98,105.70 L468.11,106.52 L468.24,106.66 L468.37,106.80 L468.50,106.92 L468.63,106.86 L468.76,106.88 L468.89,105.51 L469.01,103.47 L469.14,102.58 L469.27,103.47 L469.40,104.90 L469.53,106.12 L469.66,107.21 L469.79,107.50 L469.92,106.73 L470.05,105.72 L470.17,106.73 L470.30,107.69 L470.43,107.70 L470.56,107.43 L470.69,107.32 L470.82,107.31 L470.95,107.42 L471.08,107.39 L471.20,107.38 L471.33,107.32 L471.46,107.27 L471.59,107.40 L471.72,107.44 L471.85,107.60 L471.98,107.78 L472.11,107.82 L472.24,107.58 L472.36,107.33 L472.49,107.65 L472.62,107.62 L472.75,107.59 L472.88,107.73 L473.01,107.76 L473.14,107.70 L473.27,107.51 L473.40,107.54 L473.52,107.79 L473.65,107.69 L473.78,107.11 L473.91,107.57 L474.04,107.66 L474.17,107.74 L474.30,107.75 L474.43,107.82 L474.56,107.48 L474.68,107.43 L474.81,107.48 L474.94,107.42 L475.07,107.00 L475.20,106.10 L475.33,107.00 L475.46,107.80 L475.59,107.53 L475.71,107.66 L475.84,107.67 L475.97,107.47 L476.10,107.41 L476.23,107.58 L476.36,107.28 L476.49,107.58 L476.62,107.48 L476.75,107.42 L476.87,107.51 L477.00,107.85 L477.13,106.82 L477.26,105.85 L477.39,106.82 L477.52,107.93 L477.65,107.61 L477.78,107.41 L477.91,107.52 L478.03,107.64 L478.16,107.56 L478.29,107.35 L478.42,107.06 L478.55,107.71 L478.68,107.91 L478.81,107.77 L478.94,107.68 L479.07,107.45 L479.19,107.55 L479.32,107.88 L479.45,107.82 L479.58,107.81 L479.71,107.71 L479.84,107.68 L479.97,108.00 L480.10,107.81 L480.23,107.54 L480.35,107.55 L480.48,107.80 L480.61,107.98 L480.74,107.86 L480.87,107.57 L481.00,107.35 L481.13,107.51 L481.26,107.54 L481.38,107.46 L481.51,107.72 L481.64,107.89 L481.77,107.75 L481.90,107.54 L482.03,107.67 L482.16,107.76 L482.29,107.64 L482.42,107.07 L482.54,107.68 L482.67,107.86 L482.80,107.90 L482.93,107.53 L483.06,107.39 L483.19,107.47 L483.32,107.69 L483.45,107.80 L483.58,107.54 L483.70,107.44 L483.83,106.39 L483.96,105.26 L484.09,106.39 L484.22,107.34 L484.35,107.19 L484.48,107.10 L484.61,107.31 L484.74,107.04 L484.86,106.99 L484.99,107.04 L485.12,107.11 L485.25,106.96 L485.38,106.98 L485.51,107.49 L485.64,107.30 L485.77,106.98 L485.89,106.81 L486.02,106.44 L486.15,104.85 L486.28,103.16 L486.41,104.85 L486.54,105.98 L486.67,106.40 L486.80,106.13 L486.93,103.73 L487.05,100.79 L487.18,99.51 L487.31,100.79 L487.44,103.73 L487.57,106.10 L487.70,105.95 L487.83,104.67 L487.96,105.90 L488.09,106.16 L488.21,106.13 L488.34,105.84 L488.47,105.99 L488.60,106.04 L488.73,106.28 L488.86,106.11 L488.99,105.77 L489.12,106.46 L489.25,105.92 L489.37,104.04 L489.50,102.07 L489.63,104.04 L489.76,106.33 L489.89,105.72 L490.02,106.04 L490.15,106.46 L490.28,106.42 L490.40,106.54 L490.53,106.53 L490.66,106.00 L490.79,106.33 L490.92,106.86 L491.05,106.62 L491.18,106.78 L491.31,106.74 L491.44,106.10 L491.56,105.70 L491.69,105.83 L491.82,106.02 L491.95,106.52 L492.08,105.95 L492.21,104.14 L492.34,103.35 L492.47,104.14 L492.60,102.66 L492.72,104.48 L492.85,106.56 L492.98,106.56 L493.11,106.16 L493.24,106.35 L493.37,106.12 L493.50,105.86 L493.63,106.16 L493.76,106.02 L493.88,105.90 L494.01,105.24 L494.14,105.77 L494.27,106.08 L494.40,105.24 L494.53,103.70 L494.66,105.24 L494.79,106.38 L494.91,106.73 L495.04,106.33 L495.17,106.16 L495.30,106.66 L495.43,106.23 L495.56,106.24 L495.69,106.45 L495.82,106.10 L495.95,106.39 L496.07,104.81 L496.20,104.12 L496.33,104.81 L496.46,104.93 L496.59,106.15 L496.72,106.14 L496.85,106.35 L496.98,106.34 L497.11,106.47 L497.23,106.67 L497.36,106.46 L497.49,106.74 L497.62,105.36 L497.75,103.86 L497.88,105.36 L498.01,106.92 L498.14,106.34 L498.27,105.87 L498.39,106.20 L498.52,106.22 L498.65,106.20 L498.78,106.46 L498.91,106.16 L499.04,104.96 L499.17,106.16 L499.30,106.63 L499.42,106.25 L499.55,106.40 L499.68,106.51 L499.81,105.51 L499.94,103.47 L500.07,102.58 L500.20,103.47 L500.33,105.51 L500.46,106.10 L500.58,106.72 L500.71,106.43 L500.84,106.18 L500.97,106.76 L501.10,106.91 L501.23,106.70 L501.36,106.29 L501.49,105.07 L501.62,103.47 L501.74,105.07 L501.87,106.01 L502.00,106.38 L502.13,106.89 L502.26,106.76 L502.39,106.49 L502.52,106.68 L502.65,106.79 L502.78,106.72 L502.90,106.65 L503.03,106.19 L503.16,105.66 L503.29,104.27 L503.42,105.66 L503.55,106.08 L503.68,105.61 L503.81,104.20 L503.93,104.89 L504.06,105.48 L504.19,106.48 L504.32,106.13 L504.45,106.65 L504.58,107.02 L504.71,106.66 L504.84,106.93 L504.97,107.25 L505.09,106.01 L505.22,104.74 L505.35,106.01 L505.48,106.90 L505.61,106.56 L505.74,106.49 L505.87,105.40 L506.00,106.49 L506.13,106.75 L506.25,105.61 L506.38,104.21 L506.51,105.61 L506.64,106.74 L506.77,106.98 L506.90,106.88 L507.03,106.98 L507.16,106.91 L507.29,107.22 L507.41,107.23 L507.54,107.13 L507.67,106.51 L507.80,105.43 L507.93,106.51 L508.06,107.26 L508.19,107.31 L508.32,107.41 L508.44,107.59 L508.57,107.58 L508.70,107.65 L508.83,107.78 L508.96,107.52 L509.09,107.80 L509.22,107.39 L509.35,107.18 L509.48,107.28 L509.60,107.50 L509.73,107.41 L509.86,107.49 L509.99,107.49 L510.12,107.41 L510.25,107.79 L510.38,107.85 L510.51,107.52 L510.64,107.53 L510.76,107.53 L510.89,107.35 L511.02,107.67 L511.15,107.81 L511.28,107.55 L511.41,107.26 L511.54,107.51 L511.67,107.66 L511.80,107.33 L511.92,107.52 L512.05,107.41 L512.18,107.08 L512.31,107.51 L512.44,107.50 L512.57,107.42 L512.70,107.49 L512.83,107.20 L512.95,107.56 L513.08,107.87 L513.21,107.59 L513.34,107.50 L513.47,107.31 L513.60,107.19 L513.73,107.67 L513.86,107.77 L513.99,107.65 L514.11,107.75 L514.24,106.70 L514.37,105.69 L514.50,106.70 L514.63,107.25 L514.76,107.25 L514.89,107.44 L515.02,107.41 L515.15,107.23 L515.27,107.17 L515.40,107.37 L515.53,106.61 L515.66,107.37 L515.79,107.61 L515.92,107.52 L516.05,107.67 L516.18,107.67 L516.31,107.25 L516.43,107.51 L516.56,107.58 L516.69,107.49 L516.82,107.86 L516.95,107.50 L517.08,107.07 L517.21,107.45 L517.34,107.69 L517.46,107.27 L517.59,107.22 L517.72,107.40 L517.85,107.63 L517.98,107.62 L518.11,107.59 L518.24,107.51 L518.37,107.29 L518.50,106.11 L518.62,104.89 L518.75,106.11 L518.88,107.41 L519.01,107.29 L519.14,107.53 L519.27,107.80 L519.40,107.62 L519.53,107.50 L519.66,106.83 L519.78,107.46 L519.91,107.36 L520.04,107.68 L520.17,107.59 L520.30,107.49 L520.43,107.37 L520.56,107.58 L520.69,107.83 L520.82,107.52 L520.94,107.38 L521.07,107.64 L521.20,107.45 L521.33,106.77 L521.46,107.24 L521.59,107.43 L521.72,107.77 L521.85,107.57 L521.97,107.60 L522.10,107.49 L522.23,107.49 L522.36,107.05 L522.49,106.16 L522.62,107.05 L522.75,107.30 L522.88,107.31 L523.01,107.04 L523.13,107.42 L523.26,107.55 L523.39,107.17 L523.52,106.40 L523.65,107.22 L523.78,107.55 L523.91,107.41 L524.04,107.27 L524.17,107.50 L524.29,107.72 L524.42,106.82 L524.55,106.43 L524.68,106.82 L524.81,107.47 L524.94,107.40 L525.07,107.55 L525.20,107.88 L525.33,107.85 L525.45,107.75 L525.58,107.78 L525.71,107.49 L525.84,107.44 L525.97,107.80 L526.10,107.39 L526.23,107.46 L526.36,107.53 L526.48,107.56 L526.61,107.13 L526.74,107.41 L526.87,107.29 L527.00,107.43 L527.13,107.50 L527.26,107.51 L527.39,107.68 L527.52,107.86 L527.64,107.55 L527.77,106.94 L527.90,107.42 L528.03,107.39 L528.16,107.53 L528.29,107.49 L528.42,107.49 L528.55,107.82 L528.68,107.71 L528.80,107.59 L528.93,107.43 L529.06,107.39 L529.19,107.49 L529.32,107.59 L529.45,107.77 L529.58,106.05 L529.71,104.80 L529.84,106.05 L529.96,107.07 L530.09,107.07 L530.22,107.44 L530.35,107.61 L530.48,107.62 L530.61,107.71 L530.74,107.64 L530.87,107.69 L530.99,107.37 L531.12,106.60 L531.25,107.37 L531.38,107.25 L531.51,107.34 L531.64,107.48 L531.77,107.29 L531.90,107.34 L532.03,107.52 L532.15,106.32 L532.28,105.17 L532.41,106.32 L532.54,107.42 L532.67,107.44 L532.80,107.40 L532.93,107.48 L533.06,107.81 L533.19,107.72 L533.31,107.59 L533.44,107.24 L533.57,105.70 L533.70,104.33 L533.83,105.70 L533.96,107.20 L534.09,107.13 L534.22,107.31 L534.35,107.22 L534.47,107.07 L534.60,106.83 L534.73,106.82 L534.86,106.43 L534.99,106.82 L535.12,107.09 L535.25,107.54 L535.38,106.84 L535.50,107.38 L535.63,107.08 L535.76,106.57 L535.89,106.89 L536.02,107.18 L536.15,106.88 L536.28,106.47 L536.41,106.61 L536.54,106.76 L536.66,106.93 L536.79,107.24 L536.92,107.29 L537.05,106.76 L537.18,106.58 L537.31,106.83 L537.44,106.60 L537.57,106.73 L537.70,106.73 L537.82,106.69 L537.95,106.71 L538.08,106.75 L538.21,106.95 L538.34,106.59 L538.47,106.82 L538.60,107.12 L538.73,106.56 L538.86,106.29 L538.98,105.88 L539.11,106.75 L539.24,106.91 L539.37,106.75 L539.50,106.37 L539.63,106.52 L539.76,106.65 L539.89,106.46 L540.01,106.02 L540.14,106.94 L540.27,106.33 L540.40,106.65 L540.53,107.22 L540.66,106.91 L540.79,106.80 L540.92,107.19 L541.05,106.84 L541.17,105.48 L541.30,104.89 L541.43,105.48 L541.56,106.36 L541.69,106.85 L541.82,107.38 L541.95,106.89 L542.08,106.45 L542.21,106.52 L542.33,105.03 L542.46,103.41 L542.59,105.03 L542.72,106.89 L542.85,106.39 L542.98,106.65 L543.11,106.99 L543.24,106.81 L543.37,106.44 L543.49,106.39 L543.62,106.20 L543.75,106.48 L543.88,106.86 L544.01,107.16 L544.14,106.72 L544.27,106.78 L544.40,106.85 L544.52,107.04 L544.65,107.44 L544.78,107.07 L544.91,106.54 L545.04,105.81 L545.17,106.43 L545.30,106.82 L545.43,106.74 L545.56,106.45 L545.68,106.58 L545.81,106.81 L545.94,107.06 L546.07,106.17" fill="none" stroke="#D95319" stroke-width="0.95" stroke-linejoin="round" stroke-dasharray="3,0.3,0.8,0.3"/>
<g font-size="6" fill="#262626" text-anchor="middle"><text x="282.5" y="118.0">0</text><text x="308.3" y="118.0">200</text><text x="334.0" y="118.0">400</text><text x="359.8" y="118.0">600</text><text x="385.6" y="118.0">800</text><text x="411.4" y="118.0">1000</text><text x="437.1" y="118.0">1200</text><text x="462.9" y="118.0">1400</text><text x="488.7" y="118.0">1600</text><text x="514.4" y="118.0">1800</text><text x="540.2" y="118.0">2000</text></g><g font-size="6" fill="#262626" text-anchor="end"><text x="280.2" y="111.7">0</text><text x="280.2" y="96.3">2</text><text x="280.2" y="81.0">4</text><text x="280.2" y="65.6">6</text><text x="280.2" y="50.2">8</text><text x="280.2" y="34.9">10</text><text x="280.2" y="19.5">12</text></g><text x="414.6" y="126.5" font-size="6.65" fill="#262626" text-anchor="middle">Datapoints</text><text transform="translate(271.3,63.4) rotate(-90)" font-size="6.65" fill="#262626" text-anchor="middle">Amplitude</text>
<rect x="464" y="22.6" width="76.5" height="7.7" fill="#fff" stroke="#3a3a3a" stroke-width="0.5"/><path d="M464.9,26.45 h11.3" stroke="#0072BD" stroke-width="0.8"/><text x="477.5" y="28.4" font-size="5.35" fill="#000">Real</text><path d="M491.3,26.45 h10.4" stroke="#D95319" stroke-width="0.8" stroke-dasharray="2.2,0.7,0.7,0.7"/><text x="503.4" y="28.4" font-size="5.35" fill="#000">Reconstruction</text>
<rect x="282.3" y="165.2" width="258.3" height="89.9" fill="#fff" stroke="none"/><path d="M282.3,165.2 V255.1 H540.6" fill="none" stroke="#3a3a3a" stroke-width="0.6"/><path d="M282.3,165.2 H540.6 V255.1" fill="none" stroke="#3a3a3a" stroke-width="0.5" opacity="0.7"/><path d="M282.30,255.1 v-2.6 M282.30,165.2 v2.6 M307.52,255.1 v-2.6 M307.52,165.2 v2.6 M332.75,255.1 v-2.6 M332.75,165.2 v2.6 M357.97,255.1 v-2.6 M357.97,165.2 v2.6 M383.20,255.1 v-2.6 M383.20,165.2 v2.6 M408.42,255.1 v-2.6 M408.42,165.2 v2.6 M433.65,255.1 v-2.6 M433.65,165.2 v2.6 M458.87,255.1 v-2.6 M458.87,165.2 v2.6 M484.10,255.1 v-2.6 M484.10,165.2 v2.6 M509.32,255.1 v-2.6 M509.32,165.2 v2.6 M534.55,255.1 v-2.6 M534.55,165.2 v2.6 M282.3,255.10 h2.6 M540.6,255.10 h-2.6 M282.3,240.12 h2.6 M540.6,240.12 h-2.6 M282.3,225.13 h2.6 M540.6,225.13 h-2.6 M282.3,210.15 h2.6 M540.6,210.15 h-2.6 M282.3,195.17 h2.6 M540.6,195.17 h-2.6 M282.3,180.18 h2.6 M540.6,180.18 h-2.6 M282.3,165.20 h2.6 M540.6,165.20 h-2.6 " stroke="#3a3a3a" stroke-width="0.5" fill="none"/>
<path d="M282.30,255.09 L282.43,254.31 L282.55,254.31 L282.68,255.07 L282.80,254.41 L282.93,254.62 L283.06,254.93 L283.18,254.37 L283.31,254.85 L283.44,254.57 L283.56,254.55 L283.69,254.52 L283.81,254.77 L283.94,254.45 L284.07,253.98 L284.19,253.45 L284.32,253.02 L284.44,252.85 L284.57,253.02 L284.70,253.45 L284.82,253.98 L284.95,254.45 L285.07,254.63 L285.20,254.80 L285.33,254.33 L285.45,254.05 L285.58,254.33 L285.71,254.69 L285.83,254.73 L285.96,254.63 L286.08,254.93 L286.21,254.33 L286.34,254.66 L286.46,254.78 L286.59,254.48 L286.71,254.53 L286.84,254.33 L286.97,254.41 L287.09,254.88 L287.22,254.73 L287.34,255.07 L287.47,254.45 L287.60,254.30 L287.72,254.61 L287.85,254.29 L287.98,254.71 L288.10,254.38 L288.23,254.40 L288.35,254.34 L288.48,254.72 L288.61,254.68 L288.73,255.07 L288.86,254.32 L288.98,255.03 L289.11,254.62 L289.24,254.60 L289.36,254.92 L289.49,254.81 L289.62,254.85 L289.74,255.03 L289.87,254.77 L289.99,254.79 L290.12,254.51 L290.25,254.47 L290.37,254.24 L290.50,254.38 L290.62,254.85 L290.75,254.60 L290.88,254.53 L291.00,254.45 L291.13,254.79 L291.25,254.83 L291.38,254.59 L291.51,254.84 L291.63,254.35 L291.76,254.76 L291.89,254.52 L292.01,254.84 L292.14,254.36 L292.26,254.30 L292.39,254.30 L292.52,254.82 L292.64,254.41 L292.77,254.29 L292.89,255.01 L293.02,254.95 L293.15,254.39 L293.27,253.80 L293.40,254.72 L293.52,253.58 L293.65,253.74 L293.78,254.00 L293.90,254.21 L294.03,253.68 L294.16,253.58 L294.28,254.27 L294.41,251.91 L294.53,252.26 L294.66,253.01 L294.79,252.44 L294.91,252.39 L295.04,250.62 L295.16,250.17 L295.29,250.41 L295.42,252.86 L295.54,252.54 L295.67,252.86 L295.80,250.63 L295.92,248.56 L296.05,243.88 L296.17,238.59 L296.30,234.29 L296.43,232.62 L296.55,234.29 L296.68,238.59 L296.80,243.88 L296.93,248.56 L297.06,251.54 L297.18,252.57 L297.31,252.89 L297.43,250.18 L297.56,252.10 L297.69,251.80 L297.81,248.83 L297.94,252.20 L298.07,249.57 L298.19,247.77 L298.32,245.12 L298.44,247.77 L298.57,250.26 L298.70,251.34 L298.82,250.32 L298.95,254.39 L299.07,253.52 L299.20,253.03 L299.33,248.42 L299.45,248.36 L299.58,249.66 L299.70,244.20 L299.83,236.40 L299.96,227.59 L300.08,220.42 L300.21,217.64 L300.34,220.42 L300.46,227.59 L300.59,236.40 L300.71,244.20 L300.84,246.78 L300.97,250.80 L301.09,248.83 L301.22,249.14 L301.34,249.12 L301.47,246.14 L301.60,250.29 L301.72,246.59 L301.85,250.29 L301.98,253.19 L302.10,252.16 L302.23,250.01 L302.35,247.16 L302.48,249.36 L302.61,245.51 L302.73,253.23 L302.86,251.35 L302.98,249.43 L303.11,249.26 L303.24,248.22 L303.36,248.12 L303.49,243.13 L303.61,237.49 L303.74,232.91 L303.87,231.13 L303.99,232.91 L304.12,237.49 L304.25,243.13 L304.37,248.12 L304.50,251.62 L304.62,253.61 L304.75,252.55 L304.88,248.92 L305.00,249.82 L305.13,247.06 L305.25,253.40 L305.38,248.97 L305.51,252.10 L305.63,254.68 L305.76,253.25 L305.89,253.97 L306.01,252.25 L306.14,251.23 L306.26,245.45 L306.39,251.54 L306.52,247.61 L306.64,250.93 L306.77,250.05 L306.89,245.29 L307.02,238.27 L307.15,230.34 L307.27,223.89 L307.40,221.39 L307.52,223.89 L307.65,230.34 L307.78,238.27 L307.90,244.21 L308.03,247.10 L308.16,249.49 L308.28,250.69 L308.41,245.67 L308.53,245.40 L308.66,244.18 L308.79,245.58 L308.91,248.79 L309.04,248.17 L309.16,249.55 L309.29,243.98 L309.42,236.02 L309.54,227.04 L309.67,219.73 L309.79,216.89 L309.92,219.73 L310.05,227.04 L310.17,236.02 L310.30,240.84 L310.43,245.65 L310.55,250.34 L310.68,252.72 L310.80,254.06 L310.93,254.25 L311.06,250.85 L311.18,245.04 L311.31,241.41 L311.43,245.04 L311.56,250.20 L311.69,245.29 L311.81,238.27 L311.94,230.34 L312.07,223.89 L312.19,221.39 L312.32,223.89 L312.44,230.34 L312.57,238.27 L312.70,245.29 L312.82,246.48 L312.95,247.80 L313.07,246.44 L313.20,251.82 L313.33,249.09 L313.45,250.60 L313.58,245.95 L313.70,252.45 L313.83,245.21 L313.96,252.44 L314.08,248.40 L314.21,245.97 L314.34,248.40 L314.46,252.44 L314.59,253.84 L314.71,246.44 L314.84,250.88 L314.97,249.35 L315.09,246.82 L315.22,249.87 L315.34,246.12 L315.47,241.89 L315.60,238.46 L315.72,237.12 L315.85,238.46 L315.97,241.89 L316.10,246.12 L316.23,249.87 L316.35,252.49 L316.48,249.86 L316.61,241.87 L316.73,237.09 L316.86,241.87 L316.98,248.58 L317.11,245.86 L317.24,248.67 L317.36,245.45 L317.49,252.60 L317.61,246.47 L317.74,247.67 L317.87,248.74 L317.99,249.24 L318.12,253.25 L318.25,254.26 L318.37,253.43 L318.50,246.29 L318.62,251.16 L318.75,249.15 L318.88,250.72 L319.00,246.41 L319.13,247.81 L319.25,248.55 L319.38,246.19 L319.51,248.55 L319.63,245.77 L319.76,250.30 L319.88,246.08 L320.01,243.00 L320.14,239.84 L320.26,238.62 L320.39,239.84 L320.52,243.00 L320.64,246.87 L320.77,250.30 L320.89,247.27 L321.02,246.30 L321.15,246.28 L321.27,248.44 L321.40,248.75 L321.52,251.64 L321.65,245.23 L321.78,251.64 L321.90,248.41 L322.03,245.01 L322.15,243.52 L322.28,245.01 L322.41,248.41 L322.53,251.01 L322.66,251.32 L322.79,251.23 L322.91,247.41 L323.04,243.50 L323.16,241.79 L323.29,243.50 L323.42,247.41 L323.54,247.75 L323.67,247.62 L323.79,244.10 L323.92,241.23 L324.05,240.12 L324.17,238.47 L324.30,242.88 L324.43,247.62 L324.55,249.79 L324.68,248.84 L324.80,250.51 L324.93,253.09 L325.06,253.16 L325.18,253.28 L325.31,253.26 L325.43,245.40 L325.56,248.87 L325.69,248.79 L325.81,249.08 L325.94,251.46 L326.06,245.72 L326.19,244.98 L326.32,234.83 L326.44,220.31 L326.57,203.93 L326.70,190.60 L326.82,185.43 L326.95,190.60 L327.07,203.93 L327.20,220.31 L327.33,234.83 L327.45,244.98 L327.58,244.31 L327.70,244.09 L327.83,246.39 L327.96,248.90 L328.08,244.10 L328.21,246.98 L328.33,252.10 L328.46,253.48 L328.59,252.71 L328.71,250.30 L328.84,246.87 L328.97,243.00 L329.09,239.84 L329.22,238.62 L329.34,238.71 L329.47,236.30 L329.60,238.71 L329.72,244.24 L329.85,245.54 L329.97,252.07 L330.10,245.51 L330.23,247.36 L330.35,248.27 L330.48,248.86 L330.61,252.38 L330.73,248.78 L330.86,252.02 L330.98,245.79 L331.11,252.35 L331.24,245.95 L331.36,252.51 L331.49,251.19 L331.61,249.96 L331.74,244.76 L331.87,247.65 L331.99,252.14 L332.12,249.16 L332.24,251.21 L332.37,247.31 L332.50,251.71 L332.62,252.97 L332.75,243.34 L332.88,251.42 L333.00,251.89 L333.13,251.34 L333.25,251.18 L333.38,248.56 L333.51,249.25 L333.63,253.27 L333.76,245.29 L333.88,246.71 L334.01,252.14 L334.14,249.22 L334.26,246.23 L334.39,244.93 L334.51,246.23 L334.64,241.63 L334.77,235.29 L334.89,230.13 L335.02,228.13 L335.15,230.13 L335.27,235.29 L335.40,241.63 L335.52,246.54 L335.65,247.85 L335.78,244.16 L335.90,242.55 L336.03,244.16 L336.15,247.85 L336.28,251.45 L336.41,249.87 L336.53,244.94 L336.66,241.15 L336.79,231.16 L336.91,219.89 L337.04,210.71 L337.16,207.15 L337.29,210.71 L337.42,219.89 L337.54,231.16 L337.67,236.89 L337.79,241.73 L337.92,243.90 L338.05,243.75 L338.17,239.64 L338.30,243.75 L338.42,250.60 L338.55,253.87 L338.68,251.08 L338.80,251.01 L338.93,246.68 L339.06,243.41 L339.18,247.10 L339.31,249.91 L339.43,243.05 L339.56,243.81 L339.69,249.78 L339.81,246.72 L339.94,238.32 L340.06,226.29 L340.19,212.73 L340.32,201.70 L340.44,197.41 L340.57,201.70 L340.69,212.73 L340.82,226.29 L340.95,238.32 L341.07,244.36 L341.20,246.17 L341.33,249.53 L341.45,243.45 L341.58,243.57 L341.70,252.03 L341.83,242.90 L341.96,253.07 L342.08,244.36 L342.21,247.26 L342.33,245.56 L342.46,250.87 L342.59,250.81 L342.71,249.25 L342.84,250.81 L342.97,253.40 L343.09,252.01 L343.22,245.05 L343.34,244.49 L343.47,244.56 L343.60,242.99 L343.72,242.38 L343.85,236.39 L343.97,231.52 L344.10,229.63 L344.23,231.52 L344.35,236.39 L344.48,242.38 L344.60,247.69 L344.73,247.07 L344.86,245.91 L344.98,244.42 L345.11,245.87 L345.24,248.25 L345.36,245.49 L345.49,253.36 L345.61,244.40 L345.74,248.22 L345.87,250.15 L345.99,244.48 L346.12,249.07 L346.24,250.96 L346.37,245.70 L346.50,250.96 L346.62,247.37 L346.75,252.08 L346.88,249.34 L347.00,248.91 L347.13,245.12 L347.25,245.90 L347.38,244.64 L347.51,237.14 L347.63,228.69 L347.76,221.81 L347.88,219.14 L348.01,221.81 L348.14,228.69 L348.26,237.14 L348.39,244.64 L348.51,244.95 L348.64,242.57 L348.77,244.92 L348.89,239.14 L349.02,243.66 L349.15,248.08 L349.27,239.06 L349.40,251.05 L349.52,253.18 L349.65,248.24 L349.78,245.81 L349.90,242.45 L350.03,245.28 L350.15,251.42 L350.28,243.53 L350.41,246.07 L350.53,241.46 L350.66,239.47 L350.78,239.08 L350.91,241.21 L351.04,234.83 L351.16,220.31 L351.29,203.93 L351.42,190.60 L351.54,185.43 L351.67,190.60 L351.79,203.93 L351.92,220.31 L352.05,234.83 L352.17,244.98 L352.30,237.04 L352.42,231.81 L352.55,234.88 L352.68,233.52 L352.80,231.06 L352.93,242.44 L353.06,239.67 L353.18,248.44 L353.31,236.84 L353.43,233.74 L353.56,246.20 L353.69,239.27 L353.81,245.41 L353.94,230.38 L354.06,221.81 L354.19,206.13 L354.32,193.38 L354.44,188.42 L354.57,193.38 L354.69,206.13 L354.82,221.81 L354.95,235.70 L355.07,235.26 L355.20,237.49 L355.33,230.87 L355.45,241.72 L355.58,236.89 L355.70,226.75 L355.83,249.80 L355.96,236.55 L356.08,243.86 L356.21,236.63 L356.33,229.96 L356.46,225.74 L356.59,247.78 L356.71,240.43 L356.84,228.14 L356.96,235.05 L357.09,220.68 L357.22,204.48 L357.34,191.29 L357.47,186.18 L357.60,191.29 L357.72,204.48 L357.85,220.68 L357.97,235.05 L358.10,226.34 L358.23,248.28 L358.35,224.38 L358.48,238.26 L358.60,227.52 L358.73,238.66 L358.86,232.65 L358.98,217.90 L359.11,204.45 L359.24,210.15 L359.36,213.49 L359.49,222.09 L359.61,232.65 L359.74,226.35 L359.87,233.52 L359.99,246.73 L360.12,248.57 L360.24,253.49 L360.37,232.03 L360.50,248.57 L360.62,232.37 L360.75,232.65 L360.87,222.09 L361.00,213.49 L361.13,210.15 L361.25,213.49 L361.38,222.09 L361.51,232.65 L361.63,242.02 L361.76,236.28 L361.88,230.06 L362.01,242.93 L362.14,244.52 L362.26,232.82 L362.39,218.81 L362.51,201.73 L362.64,187.83 L362.77,182.43 L362.89,187.83 L363.02,201.73 L363.14,218.81 L363.27,233.96 L363.40,227.68 L363.52,234.96 L363.65,244.95 L363.78,251.47 L363.90,253.22 L364.03,244.54 L364.15,239.08 L364.28,239.28 L364.41,236.31 L364.53,235.10 L364.66,238.88 L364.78,239.27 L364.91,238.50 L365.04,239.41 L365.16,228.16 L365.29,215.48 L365.42,205.17 L365.54,201.16 L365.67,205.17 L365.79,215.48 L365.92,228.16 L366.05,239.41 L366.17,247.26 L366.30,251.75 L366.42,238.23 L366.55,242.81 L366.68,242.69 L366.80,236.36 L366.93,233.61 L367.05,236.36 L367.18,242.69 L367.31,248.85 L367.43,239.49 L367.56,249.18 L367.69,251.61 L367.81,244.57 L367.94,238.75 L368.06,227.04 L368.19,213.83 L368.32,203.08 L368.44,198.91 L368.57,203.08 L368.69,213.83 L368.82,227.04 L368.95,238.75 L369.07,246.94 L369.20,247.25 L369.32,249.17 L369.45,244.40 L369.58,239.44 L369.70,237.14 L369.83,230.65 L369.96,237.14 L370.08,247.99 L370.21,244.38 L370.33,249.51 L370.46,247.56 L370.59,244.44 L370.71,250.39 L370.84,245.76 L370.96,241.00 L371.09,238.93 L371.22,236.39 L371.34,231.52 L371.47,229.63 L371.60,231.52 L371.72,236.39 L371.85,242.38 L371.97,247.44 L372.10,247.21 L372.23,247.10 L372.35,244.52 L372.48,240.69 L372.60,244.52 L372.73,249.83 L372.86,248.54 L372.98,251.55 L373.11,252.05 L373.23,245.88 L373.36,244.63 L373.49,239.69 L373.61,235.68 L373.74,234.12 L373.87,235.68 L373.99,239.69 L374.12,244.63 L374.24,249.00 L374.37,250.71 L374.50,253.80 L374.62,254.42 L374.75,246.48 L374.87,251.27 L375.00,247.57 L375.13,244.85 L375.25,247.57 L375.38,250.83 L375.50,247.50 L375.63,247.53 L375.76,251.92 L375.88,251.08 L376.01,253.39 L376.14,248.73 L376.26,251.18 L376.39,249.76 L376.51,251.18 L376.64,249.77 L376.77,248.93 L376.89,252.01 L377.02,249.87 L377.14,246.12 L377.27,241.89 L377.40,238.46 L377.52,237.12 L377.65,238.46 L377.78,241.89 L377.90,246.12 L378.03,249.52 L378.15,252.49 L378.28,253.78 L378.41,251.04 L378.53,252.43 L378.66,248.35 L378.78,245.92 L378.91,248.35 L379.04,252.43 L379.16,250.89 L379.29,253.48 L379.41,251.64 L379.54,250.79 L379.67,254.11 L379.79,253.19 L379.92,250.94 L380.05,251.13 L380.17,250.00 L380.30,248.94 L380.42,248.50 L380.55,246.78 L380.68,246.11 L380.80,246.78 L380.93,248.50 L381.05,250.61 L381.18,250.07 L381.31,249.33 L381.43,250.07 L381.56,251.77 L381.68,250.54 L381.81,253.03 L381.94,252.83 L382.06,250.72 L382.19,250.39 L382.32,250.41 L382.44,251.50 L382.57,254.22 L382.69,253.39 L382.82,253.51 L382.95,251.39 L383.07,251.13 L383.20,251.39 L383.32,253.95 L383.45,254.08 L383.58,250.66 L383.70,253.59 L383.83,252.47 L383.96,251.90 L384.08,251.96 L384.21,254.17 L384.33,251.60 L384.46,251.17 L384.59,250.53 L384.71,248.88 L384.84,250.53 L384.96,253.29 L385.09,251.86 L385.22,251.75 L385.34,252.63 L385.47,251.98 L385.59,252.24 L385.72,251.94 L385.85,251.41 L385.97,252.02 L386.10,251.42 L386.23,252.24 L386.35,254.24 L386.48,254.30 L386.60,251.50 L386.73,254.75 L386.86,251.70 L386.98,252.31 L387.11,253.04 L387.23,251.69 L387.36,251.53 L387.49,251.99 L387.61,253.04 L387.74,252.54 L387.86,252.57 L387.99,251.66 L388.12,251.94 L388.24,253.93 L388.37,251.97 L388.50,251.59 L388.62,252.03 L388.75,253.53 L388.87,254.23 L389.00,253.32 L389.13,253.70 L389.25,252.76 L389.38,252.27 L389.50,250.24 L389.63,247.95 L389.76,246.08 L389.88,245.36 L390.01,246.08 L390.14,247.95 L390.26,250.24 L390.39,252.03 L390.51,253.38 L390.64,251.79 L390.77,253.94 L390.89,253.98 L391.02,254.54 L391.14,252.36 L391.27,253.05 L391.40,251.81 L391.52,253.38 L391.65,252.45 L391.77,253.98 L391.90,251.88 L392.03,253.98 L392.15,254.36 L392.28,251.68 L392.41,254.86 L392.53,251.78 L392.66,251.66 L392.78,253.87 L392.91,253.65 L393.04,252.36 L393.16,251.74 L393.29,253.23 L393.41,251.96 L393.54,253.63 L393.67,252.52 L393.79,253.06 L393.92,252.83 L394.05,254.37 L394.17,252.60 L394.30,254.12 L394.42,255.00 L394.55,253.55 L394.68,254.30 L394.80,253.35 L394.93,253.32 L395.05,253.60 L395.18,253.54 L395.31,252.75 L395.43,252.40 L395.56,252.54 L395.68,253.43 L395.81,253.62 L395.94,254.11 L396.06,252.99 L396.19,252.54 L396.32,254.27 L396.44,254.66 L396.57,252.67 L396.69,254.18 L396.82,252.48 L396.95,253.18 L397.07,254.76 L397.20,253.91 L397.32,251.87 L397.45,252.21 L397.58,252.84 L397.70,251.65 L397.83,251.66 L397.95,252.38 L398.08,252.08 L398.21,253.37 L398.33,252.01 L398.46,254.11 L398.59,251.84 L398.71,251.70 L398.84,252.26 L398.96,251.78 L399.09,252.74 L399.22,252.75 L399.34,254.71 L399.47,252.59 L399.59,254.40 L399.72,251.98 L399.85,252.31 L399.97,252.07 L400.10,252.54 L400.23,254.14 L400.35,253.02 L400.48,252.27 L400.60,251.86 L400.73,252.27 L400.86,253.23 L400.98,252.62 L401.11,252.40 L401.23,252.90 L401.36,253.82 L401.49,252.79 L401.61,253.13 L401.74,252.96 L401.86,251.88 L401.99,251.40 L402.12,251.88 L402.24,252.96 L402.37,252.46 L402.50,253.05 L402.62,254.63 L402.75,252.67 L402.87,252.38 L403.00,254.68 L403.13,252.56 L403.25,253.46 L403.38,251.99 L403.50,251.93 L403.63,252.96 L403.76,252.35 L403.88,254.45 L404.01,252.54 L404.13,252.68 L404.26,252.02 L404.39,251.56 L404.51,252.02 L404.64,253.06 L404.77,254.07 L404.89,252.81 L405.02,252.75 L405.14,252.95 L405.27,252.37 L405.40,253.15 L405.52,252.44 L405.65,252.34 L405.77,250.61 L405.90,248.50 L406.03,246.78 L406.15,246.11 L406.28,246.78 L406.41,248.50 L406.53,250.61 L406.66,252.48 L406.78,251.82 L406.91,253.09 L407.04,251.95 L407.16,253.61 L407.29,254.17 L407.41,252.76 L407.54,251.92 L407.67,252.76 L407.79,254.17 L407.92,253.03 L408.04,253.68 L408.17,254.40 L408.30,253.92 L408.42,253.07 L408.55,254.53 L408.68,253.80 L408.80,254.25 L408.93,253.35 L409.05,252.03 L409.18,253.06 L409.31,252.03 L409.43,250.92 L409.56,252.03 L409.68,253.88 L409.81,252.27 L409.94,253.40 L410.06,253.57 L410.19,252.11 L410.31,251.25 L410.44,250.25 L410.57,249.86 L410.69,250.25 L410.82,251.25 L410.95,252.48 L411.07,252.12 L411.20,252.98 L411.32,253.73 L411.45,251.99 L411.58,253.27 L411.70,252.05 L411.83,253.12 L411.95,252.41 L412.08,253.12 L412.21,254.32 L412.33,252.90 L412.46,253.45 L412.59,254.09 L412.71,254.16 L412.84,253.92 L412.96,253.38 L413.09,252.59 L413.22,253.30 L413.34,252.88 L413.47,254.42 L413.59,254.89 L413.72,254.79 L413.85,253.54 L413.97,253.99 L414.10,253.59 L414.22,253.63 L414.35,254.03 L414.48,254.49 L414.60,254.87 L414.73,254.27 L414.86,254.91 L414.98,255.09 L415.11,254.63 L415.23,254.19 L415.36,254.11 L415.49,253.89 L415.61,254.21 L415.74,254.64 L415.86,254.67 L415.99,254.45 L416.12,254.73 L416.24,254.70 L416.37,254.25 L416.49,253.97 L416.62,253.80 L416.75,253.97 L416.87,254.35 L417.00,254.60 L417.13,254.96 L417.25,254.48 L417.38,254.72 L417.50,254.18 L417.63,254.60 L417.76,254.94 L417.88,254.35 L418.01,254.57 L418.13,254.55 L418.26,254.38 L418.39,254.70 L418.51,254.58 L418.64,255.05 L418.77,254.79 L418.89,254.89 L419.02,254.61 L419.14,254.62 L419.27,254.78 L419.40,254.74 L419.52,254.99 L419.65,254.16 L419.77,254.24 L419.90,254.79 L420.03,254.12 L420.15,254.38 L420.28,254.60 L420.40,254.80 L420.53,254.41 L420.66,254.28 L420.78,254.32 L420.91,254.43 L421.04,254.24 L421.16,254.87 L421.29,254.32 L421.41,254.13 L421.54,255.05 L421.67,254.86 L421.79,254.43 L421.92,254.29 L422.04,254.50 L422.17,254.86 L422.30,254.18 L422.42,254.12 L422.55,254.20 L422.67,255.02 L422.80,254.36 L422.93,254.66 L423.05,254.74 L423.18,254.80 L423.31,254.40 L423.43,254.71 L423.56,254.39 L423.68,254.13 L423.81,254.39 L423.94,254.68 L424.06,254.38 L424.19,254.34 L424.31,254.01 L424.44,252.92 L424.57,251.36 L424.69,249.60 L424.82,248.16 L424.95,247.61 L425.07,248.16 L425.20,249.60 L425.32,251.36 L425.45,252.92 L425.58,254.01 L425.70,254.62 L425.83,254.60 L425.95,254.50 L426.08,254.79 L426.21,254.92 L426.33,254.11 L426.46,254.36 L426.58,254.82 L426.71,254.28 L426.84,254.32 L426.96,254.14 L427.09,253.80 L427.22,254.14 L427.34,254.72 L427.47,254.74 L427.59,253.33 L427.72,252.75 L427.85,253.27 L427.97,251.81 L428.10,254.66 L428.22,252.73 L428.35,250.43 L428.48,252.49 L428.60,249.87 L428.73,246.12 L428.85,241.89 L428.98,238.46 L429.11,237.12 L429.23,238.46 L429.36,241.89 L429.49,246.12 L429.61,249.87 L429.74,252.49 L429.86,251.19 L429.99,252.97 L430.12,252.93 L430.24,249.61 L430.37,247.63 L430.49,249.61 L430.62,250.11 L430.75,254.50 L430.87,253.48 L431.00,249.71 L431.13,249.53 L431.25,251.01 L431.38,253.48 L431.50,249.61 L431.63,251.17 L431.76,252.92 L431.88,250.74 L432.01,247.62 L432.13,244.10 L432.26,241.23 L432.39,240.12 L432.51,241.23 L432.64,244.10 L432.76,247.62 L432.89,250.74 L433.02,249.22 L433.14,248.62 L433.27,250.58 L433.40,249.67 L433.52,249.02 L433.65,247.87 L433.77,248.66 L433.90,246.33 L434.03,248.08 L434.15,249.16 L434.28,254.55 L434.40,248.23 L434.53,248.66 L434.66,250.01 L434.78,254.47 L434.91,253.45 L435.04,251.82 L435.16,250.08 L435.29,249.42 L435.41,250.15 L435.54,247.19 L435.67,251.17 L435.79,253.75 L435.92,249.31 L436.04,252.45 L436.17,252.92 L436.30,252.93 L436.42,246.88 L436.55,248.81 L436.67,247.69 L436.80,242.38 L436.93,236.39 L437.05,231.52 L437.18,229.63 L437.31,231.52 L437.43,236.39 L437.56,242.38 L437.68,247.69 L437.81,251.40 L437.94,247.75 L438.06,245.48 L438.19,252.75 L438.31,244.20 L438.44,253.16 L438.57,250.03 L438.69,250.05 L438.82,243.99 L438.94,249.56 L439.07,246.59 L439.20,246.77 L439.32,251.84 L439.45,249.00 L439.58,244.63 L439.70,239.69 L439.83,235.68 L439.95,234.12 L440.08,235.68 L440.21,239.69 L440.33,244.63 L440.46,243.64 L440.58,251.17 L440.71,246.34 L440.84,249.71 L440.96,249.65 L441.09,250.19 L441.22,244.38 L441.34,233.63 L441.47,218.25 L441.59,200.90 L441.72,186.79 L441.85,181.31 L441.97,186.79 L442.10,200.90 L442.22,218.25 L442.35,233.63 L442.48,244.38 L442.60,250.47 L442.73,243.41 L442.85,239.18 L442.98,243.41 L443.11,246.52 L443.23,249.47 L443.36,243.78 L443.49,246.71 L443.61,244.53 L443.74,251.82 L443.86,251.56 L443.99,244.94 L444.12,243.59 L444.24,243.31 L444.37,246.44 L444.49,248.12 L444.62,243.13 L444.75,237.49 L444.87,232.91 L445.00,231.13 L445.12,232.91 L445.25,237.49 L445.38,241.01 L445.50,244.75 L445.63,245.04 L445.76,250.03 L445.88,249.29 L446.01,247.51 L446.13,251.74 L446.26,247.48 L446.39,244.73 L446.51,247.48 L446.64,247.72 L446.76,251.57 L446.89,246.19 L447.02,242.96 L447.14,246.19 L447.27,251.57 L447.40,244.81 L447.52,244.52 L447.65,249.62 L447.77,246.58 L447.90,252.28 L448.03,252.75 L448.15,251.89 L448.28,248.22 L448.40,246.05 L448.53,253.43 L448.66,253.47 L448.78,251.67 L448.91,248.56 L449.03,243.88 L449.16,238.59 L449.29,234.29 L449.41,232.62 L449.54,234.29 L449.67,238.59 L449.79,243.88 L449.92,243.88 L450.04,250.79 L450.17,248.80 L450.30,252.79 L450.42,252.74 L450.55,251.05 L450.67,245.25 L450.80,244.69 L450.93,246.95 L451.05,244.00 L451.18,245.37 L451.30,240.79 L451.43,237.07 L451.56,235.62 L451.68,237.07 L451.81,240.79 L451.94,245.37 L452.06,249.43 L452.19,244.03 L452.31,252.97 L452.44,245.83 L452.57,251.28 L452.69,247.52 L452.82,243.67 L452.94,241.99 L453.07,243.67 L453.20,247.52 L453.32,247.92 L453.45,251.30 L453.58,251.65 L453.70,249.00 L453.83,249.13 L453.95,248.55 L454.08,252.53 L454.21,251.22 L454.33,246.57 L454.46,244.16 L454.58,252.53 L454.71,252.26 L454.84,245.47 L454.96,244.21 L455.09,245.34 L455.21,244.65 L455.34,243.33 L455.47,234.90 L455.59,225.39 L455.72,217.65 L455.85,214.64 L455.97,217.65 L456.10,225.39 L456.22,234.90 L456.35,243.33 L456.48,249.22 L456.60,247.32 L456.73,247.34 L456.85,249.75 L456.98,248.77 L457.11,248.94 L457.23,252.42 L457.36,251.49 L457.48,248.73 L457.61,252.71 L457.74,247.06 L457.86,245.79 L457.99,248.75 L458.12,253.43 L458.24,252.24 L458.37,249.20 L458.49,248.18 L458.62,250.02 L458.75,253.09 L458.87,251.25 L459.00,251.39 L459.12,249.85 L459.25,245.33 L459.38,245.75 L459.50,241.34 L459.63,237.76 L459.76,236.37 L459.88,237.76 L460.01,241.34 L460.13,245.75 L460.26,247.92 L460.39,249.21 L460.51,249.68 L460.64,252.58 L460.76,252.47 L460.89,251.90 L461.02,250.12 L461.14,249.65 L461.27,251.10 L461.39,253.51 L461.52,245.21 L461.65,251.54 L461.77,246.26 L461.90,246.16 L462.03,252.27 L462.15,249.43 L462.28,245.37 L462.40,240.79 L462.53,237.07 L462.66,235.62 L462.78,237.07 L462.91,240.79 L463.03,245.37 L463.16,248.65 L463.29,247.84 L463.41,248.23 L463.54,247.50 L463.66,250.33 L463.79,253.21 L463.92,247.81 L464.04,250.61 L464.17,247.97 L464.30,247.78 L464.42,247.32 L464.55,247.92 L464.67,250.82 L464.80,246.01 L464.93,248.34 L465.05,249.73 L465.18,246.78 L465.30,249.73 L465.43,251.62 L465.56,249.10 L465.68,245.19 L465.81,247.00 L465.94,244.07 L466.06,247.00 L466.19,248.51 L466.31,250.27 L466.44,250.26 L466.57,249.00 L466.69,244.63 L466.82,239.69 L466.94,235.68 L467.07,234.12 L467.20,235.68 L467.32,239.69 L467.45,244.63 L467.57,242.58 L467.70,245.91 L467.83,246.95 L467.95,252.70 L468.08,249.73 L468.21,245.26 L468.33,251.37 L468.46,250.81 L468.58,248.13 L468.71,241.37 L468.84,231.53 L468.96,220.44 L469.09,211.41 L469.21,207.90 L469.34,211.41 L469.47,220.44 L469.59,231.53 L469.72,241.37 L469.84,248.24 L469.97,252.17 L470.10,250.63 L470.22,249.13 L470.35,250.71 L470.48,245.38 L470.60,248.75 L470.73,251.85 L470.85,254.10 L470.98,248.58 L471.11,248.91 L471.23,249.22 L471.36,252.65 L471.48,248.86 L471.61,246.84 L471.74,249.21 L471.86,248.09 L471.99,251.37 L472.12,251.08 L472.24,251.47 L472.37,246.92 L472.49,247.09 L472.62,249.26 L472.75,249.55 L472.87,251.89 L473.00,244.40 L473.12,254.66 L473.25,248.83 L473.38,251.66 L473.50,246.10 L473.63,244.19 L473.75,240.79 L473.88,237.07 L474.01,235.62 L474.13,237.07 L474.26,240.79 L474.39,244.96 L474.51,249.43 L474.64,251.21 L474.76,246.86 L474.89,243.13 L475.02,237.49 L475.14,232.91 L475.27,231.13 L475.39,232.91 L475.52,237.49 L475.65,243.13 L475.77,244.44 L475.90,245.70 L476.03,247.21 L476.15,245.25 L476.28,240.24 L476.40,238.06 L476.53,240.24 L476.66,245.25 L476.78,246.17 L476.91,251.93 L477.03,247.09 L477.16,251.60 L477.29,246.21 L477.41,243.59 L477.54,243.45 L477.66,249.60 L477.79,242.88 L477.92,253.26 L478.04,249.92 L478.17,249.67 L478.30,246.90 L478.42,245.69 L478.55,246.90 L478.67,247.24 L478.80,245.21 L478.93,249.24 L479.05,242.93 L479.18,246.20 L479.30,245.33 L479.43,244.04 L479.56,250.41 L479.68,245.02 L479.81,248.74 L479.93,251.31 L480.06,246.27 L480.19,245.79 L480.31,252.98 L480.44,245.69 L480.57,242.52 L480.69,248.12 L480.82,242.63 L480.94,237.49 L481.07,232.91 L481.20,231.13 L481.32,232.91 L481.45,237.49 L481.57,238.96 L481.70,241.03 L481.83,245.78 L481.95,250.40 L482.08,253.30 L482.21,251.27 L482.33,243.28 L482.46,245.40 L482.58,253.34 L482.71,248.38 L482.84,247.19 L482.96,251.96 L483.09,244.26 L483.21,242.25 L483.34,246.43 L483.47,244.72 L483.59,248.56 L483.72,243.88 L483.84,238.59 L483.97,234.29 L484.10,232.62 L484.22,234.29 L484.35,238.59 L484.48,243.16 L484.60,246.00 L484.73,251.83 L484.85,252.83 L484.98,249.80 L485.11,241.71 L485.23,236.87 L485.36,241.71 L485.48,249.80 L485.61,249.11 L485.74,243.11 L485.86,234.52 L485.99,224.84 L486.11,216.96 L486.24,213.90 L486.37,216.96 L486.49,224.84 L486.62,234.52 L486.75,243.11 L486.87,247.13 L487.00,247.98 L487.12,243.61 L487.25,249.93 L487.38,246.81 L487.50,253.38 L487.63,251.74 L487.75,246.50 L487.88,248.34 L488.01,243.59 L488.13,252.14 L488.26,250.36 L488.39,250.12 L488.51,247.04 L488.64,244.12 L488.76,247.04 L488.89,245.37 L489.02,240.79 L489.14,237.07 L489.27,235.62 L489.39,237.07 L489.52,240.79 L489.65,245.37 L489.77,241.03 L489.90,238.96 L490.02,241.03 L490.15,245.78 L490.28,250.40 L490.40,252.44 L490.53,246.79 L490.66,245.89 L490.78,247.09 L490.91,251.39 L491.03,245.74 L491.16,242.35 L491.29,245.74 L491.41,245.28 L491.54,249.78 L491.66,243.98 L491.79,248.59 L491.92,251.92 L492.04,243.66 L492.17,254.33 L492.29,250.50 L492.42,250.32 L492.55,246.39 L492.67,243.24 L492.80,246.39 L492.93,242.67 L493.05,243.09 L493.18,254.56 L493.30,252.52 L493.43,246.31 L493.56,245.79 L493.68,249.43 L493.81,245.37 L493.93,240.79 L494.06,237.07 L494.19,235.62 L494.31,237.07 L494.44,240.79 L494.57,245.37 L494.69,249.43 L494.82,242.78 L494.94,247.42 L495.07,246.20 L495.20,243.19 L495.32,250.28 L495.45,251.56 L495.57,253.70 L495.70,251.44 L495.83,242.29 L495.95,245.65 L496.08,248.73 L496.20,247.18 L496.33,249.30 L496.46,248.68 L496.58,250.53 L496.71,242.90 L496.84,245.34 L496.96,254.34 L497.09,247.29 L497.21,243.21 L497.34,250.26 L497.47,248.74 L497.59,246.44 L497.72,245.07 L497.84,237.89 L497.97,229.79 L498.10,223.20 L498.22,220.64 L498.35,223.20 L498.47,229.79 L498.60,237.89 L498.73,245.07 L498.85,248.35 L498.98,250.63 L499.11,247.79 L499.23,245.05 L499.36,253.98 L499.48,254.53 L499.61,250.43 L499.74,245.48 L499.86,246.01 L499.99,248.42 L500.11,249.06 L500.24,247.62 L500.37,244.10 L500.49,241.23 L500.62,240.12 L500.75,241.23 L500.87,244.10 L501.00,247.62 L501.12,250.74 L501.25,251.98 L501.38,248.07 L501.50,245.53 L501.63,248.07 L501.75,248.23 L501.88,248.92 L502.01,250.73 L502.13,254.13 L502.26,251.50 L502.38,253.12 L502.51,251.55 L502.64,248.42 L502.76,247.96 L502.89,246.91 L503.02,247.96 L503.14,250.37 L503.27,252.72 L503.39,248.66 L503.52,248.89 L503.65,253.13 L503.77,249.25 L503.90,251.36 L504.02,249.46 L504.15,248.16 L504.28,247.61 L504.40,248.16 L504.53,249.60 L504.65,251.36 L504.78,252.16 L504.91,250.66 L505.03,250.01 L505.16,249.55 L505.29,252.16 L505.41,253.62 L505.54,253.40 L505.66,249.81 L505.79,252.60 L505.92,254.42 L506.04,253.53 L506.17,252.54 L506.29,252.03 L506.42,252.53 L506.55,251.45 L506.67,253.03 L506.80,251.29 L506.93,252.02 L507.05,252.40 L507.18,253.58 L507.30,253.71 L507.43,253.90 L507.56,251.36 L507.68,251.40 L507.81,252.15 L507.93,252.27 L508.06,253.36 L508.19,251.61 L508.31,249.11 L508.44,246.30 L508.56,244.00 L508.69,243.11 L508.82,244.00 L508.94,246.30 L509.07,249.11 L509.20,251.61 L509.32,252.09 L509.45,252.09 L509.57,253.37 L509.70,253.37 L509.83,253.13 L509.95,252.99 L510.08,252.51 L510.20,252.07 L510.33,252.33 L510.46,252.41 L510.58,254.46 L510.71,252.08 L510.83,254.21 L510.96,254.33 L511.09,253.35 L511.21,252.82 L511.34,253.07 L511.47,253.16 L511.59,252.19 L511.72,251.14 L511.84,252.19 L511.97,253.95 L512.10,253.33 L512.22,252.92 L512.35,253.88 L512.47,253.45 L512.60,252.56 L512.73,253.28 L512.85,253.69 L512.98,253.48 L513.11,252.89 L513.23,253.48 L513.36,252.31 L513.48,253.66 L513.61,253.80 L513.74,253.26 L513.86,254.33 L513.99,253.87 L514.11,254.43 L514.24,253.67 L514.37,253.73 L514.49,252.96 L514.62,253.08 L514.74,254.14 L514.87,252.50 L515.00,253.63 L515.12,254.10 L515.25,253.83 L515.38,254.17 L515.50,254.20 L515.63,253.56 L515.75,254.43 L515.88,254.78 L516.01,253.94 L516.13,253.69 L516.26,253.18 L516.38,253.69 L516.51,253.39 L516.64,254.30 L516.76,253.50 L516.89,253.64 L517.01,254.02 L517.14,253.24 L517.27,253.57 L517.39,252.48 L517.52,250.61 L517.65,248.50 L517.77,246.78 L517.90,246.11 L518.02,246.78 L518.15,248.50 L518.28,250.61 L518.40,252.31 L518.53,252.79 L518.65,253.57 L518.78,252.84 L518.91,253.84 L519.03,253.15 L519.16,254.12 L519.29,253.70 L519.41,253.03 L519.54,252.28 L519.66,252.64 L519.79,254.01 L519.92,254.41 L520.04,253.08 L520.17,252.40 L520.29,252.51 L520.42,252.71 L520.55,255.04 L520.67,253.19 L520.80,252.50 L520.92,254.25 L521.05,253.34 L521.18,253.40 L521.30,254.00 L521.43,252.43 L521.56,254.28 L521.68,254.50 L521.81,252.89 L521.93,252.83 L522.06,253.66 L522.19,252.49 L522.31,254.52 L522.44,254.35 L522.56,254.98 L522.69,252.53 L522.82,254.17 L522.94,253.21 L523.07,253.60 L523.20,253.40 L523.32,254.24 L523.45,254.72 L523.57,252.55 L523.70,253.68 L523.83,253.98 L523.95,253.35 L524.08,254.55 L524.20,252.67 L524.33,253.21 L524.46,253.71 L524.58,254.22 L524.71,254.95 L524.83,252.65 L524.96,252.85 L525.09,252.37 L525.21,253.48 L525.34,252.14 L525.47,253.70 L525.59,253.23 L525.72,252.25 L525.84,253.35 L525.97,253.43 L526.10,253.84 L526.22,254.07 L526.35,251.62 L526.47,252.03 L526.60,252.25 L526.73,254.76 L526.85,251.76 L526.98,254.62 L527.10,251.71 L527.23,253.71 L527.36,253.93 L527.48,252.15 L527.61,251.09 L527.74,251.94 L527.86,253.93 L527.99,251.89 L528.11,254.92 L528.24,254.61 L528.37,252.40 L528.49,252.69 L528.62,252.23 L528.74,254.29 L528.87,252.84 L529.00,251.66 L529.12,251.81 L529.25,251.63 L529.38,252.24 L529.50,251.73 L529.63,251.83 L529.75,249.49 L529.88,246.85 L530.01,244.70 L530.13,243.86 L530.26,244.70 L530.38,246.85 L530.51,249.49 L530.64,248.90 L530.76,250.54 L530.89,250.84 L531.01,254.54 L531.14,254.92 L531.27,252.86 L531.39,252.56 L531.52,252.20 L531.65,252.36 L531.77,252.92 L531.90,252.44 L532.02,251.48 L532.15,252.44 L532.28,250.58 L532.40,252.82 L532.53,252.11 L532.65,252.05 L532.78,252.22 L532.91,251.96 L533.03,254.58 L533.16,254.04 L533.28,254.12 L533.41,253.06 L533.54,253.66 L533.66,250.82 L533.79,254.65 L533.92,254.81 L534.04,251.49 L534.17,254.79 L534.29,254.73 L534.42,253.37 L534.55,250.75 L534.67,249.17 L534.80,250.75 L534.92,251.39 L535.05,250.53 L535.18,253.82 L535.30,252.87 L535.43,253.20 L535.56,254.18 L535.68,252.33 L535.81,250.90 L535.93,250.15 L536.06,248.36 L536.19,250.15 L536.31,253.11 L536.44,250.16 L536.56,251.94 L536.69,254.53 L536.82,250.31 L536.94,254.04 L537.07,252.88 L537.19,252.15 L537.32,250.29 L537.45,250.79 L537.57,253.39 L537.70,250.36 L537.83,252.17 L537.95,251.05 L538.08,253.57 L538.20,251.98 L538.33,251.52 L538.46,250.19 L538.58,250.92 L538.71,252.13 L538.83,254.04 L538.96,251.53 L539.09,252.92 L539.21,250.49 L539.34,249.60 L539.46,248.16 L539.59,247.61 L539.72,248.16 L539.84,249.60 L539.97,251.24 L540.10,250.84 L540.22,254.01 L540.35,254.12 L540.47,254.93" fill="none" stroke="#0072BD" stroke-width="0.75" stroke-linejoin="round"/>
<path d="M282.30,254.74 L282.43,254.68 L282.55,254.65 L282.68,254.68 L282.80,254.67 L282.93,254.64 L283.06,254.59 L283.18,254.63 L283.31,254.67 L283.44,254.53 L283.56,254.67 L283.69,254.62 L283.81,254.67 L283.94,254.31 L284.07,253.03 L284.19,250.99 L284.32,248.90 L284.44,247.98 L284.57,248.90 L284.70,250.99 L284.82,253.03 L284.95,254.31 L285.07,254.62 L285.20,254.70 L285.33,254.72 L285.45,254.66 L285.58,254.72 L285.71,254.73 L285.83,254.68 L285.96,254.64 L286.08,254.59 L286.21,254.62 L286.34,254.66 L286.46,254.62 L286.59,254.58 L286.71,254.55 L286.84,254.49 L286.97,254.62 L287.09,254.71 L287.22,254.64 L287.34,254.65 L287.47,254.70 L287.60,254.63 L287.72,254.62 L287.85,254.66 L287.98,254.41 L288.10,254.15 L288.23,254.41 L288.35,254.61 L288.48,254.65 L288.61,254.71 L288.73,254.67 L288.86,254.64 L288.98,254.68 L289.11,254.69 L289.24,254.71 L289.36,254.75 L289.49,254.69 L289.62,254.71 L289.74,254.64 L289.87,254.62 L289.99,254.70 L290.12,254.64 L290.25,254.28 L290.37,253.98 L290.50,254.28 L290.62,254.60 L290.75,254.65 L290.88,254.65 L291.00,254.28 L291.13,253.98 L291.25,254.28 L291.38,254.62 L291.51,254.61 L291.63,254.64 L291.76,254.73 L291.89,254.27 L292.01,253.97 L292.14,254.27 L292.26,254.70 L292.39,254.76 L292.52,254.67 L292.64,254.61 L292.77,254.61 L292.89,254.66 L293.02,254.69 L293.15,254.42 L293.27,254.18 L293.40,254.17 L293.52,254.06 L293.65,254.02 L293.78,253.79 L293.90,253.69 L294.03,253.21 L294.16,253.54 L294.28,253.40 L294.41,252.20 L294.53,251.15 L294.66,252.20 L294.79,252.45 L294.91,252.25 L295.04,252.63 L295.16,252.56 L295.29,251.87 L295.42,252.12 L295.54,251.33 L295.67,251.89 L295.80,252.21 L295.92,252.38 L296.05,251.83 L296.17,248.61 L296.30,245.30 L296.43,243.86 L296.55,245.30 L296.68,248.61 L296.80,251.25 L296.93,251.21 L297.06,248.32 L297.18,245.86 L297.31,248.32 L297.43,251.76 L297.56,251.64 L297.69,251.06 L297.81,250.78 L297.94,251.18 L298.07,251.67 L298.19,251.29 L298.32,250.67 L298.44,250.66 L298.57,250.73 L298.70,250.17 L298.82,250.59 L298.95,251.26 L299.07,250.83 L299.20,250.47 L299.33,247.51 L299.45,244.76 L299.58,247.51 L299.70,249.34 L299.83,240.06 L299.96,225.24 L300.08,210.03 L300.21,203.41 L300.34,210.03 L300.46,225.24 L300.59,240.06 L300.71,245.99 L300.84,249.99 L300.97,249.45 L301.09,248.96 L301.22,249.61 L301.34,249.86 L301.47,249.56 L301.60,245.90 L301.72,242.57 L301.85,245.90 L301.98,249.13 L302.10,250.20 L302.23,249.68 L302.35,249.23 L302.48,249.68 L302.61,249.22 L302.73,249.73 L302.86,250.15 L302.98,247.19 L303.11,244.34 L303.24,247.19 L303.36,250.00 L303.49,249.53 L303.61,246.44 L303.74,242.04 L303.87,240.12 L303.99,242.04 L304.12,241.89 L304.25,245.40 L304.37,248.78 L304.50,249.16 L304.62,250.23 L304.75,250.35 L304.88,248.32 L305.00,245.86 L305.13,248.32 L305.25,249.90 L305.38,250.52 L305.51,250.22 L305.63,249.11 L305.76,248.52 L305.89,249.15 L306.01,247.58 L306.14,244.86 L306.26,247.58 L306.39,250.18 L306.52,250.22 L306.64,249.61 L306.77,248.99 L306.89,249.73 L307.02,249.65 L307.15,244.28 L307.27,238.77 L307.40,236.37 L307.52,238.77 L307.65,244.28 L307.78,249.12 L307.90,248.61 L308.03,249.68 L308.16,248.96 L308.28,249.38 L308.41,249.52 L308.53,249.25 L308.66,249.95 L308.79,250.79 L308.91,249.72 L309.04,249.16 L309.16,249.83 L309.29,249.22 L309.42,248.56 L309.54,242.12 L309.67,235.51 L309.79,232.62 L309.92,235.51 L310.05,242.12 L310.17,248.56 L310.30,249.22 L310.43,250.06 L310.55,250.60 L310.68,249.84 L310.80,249.13 L310.93,249.93 L311.06,249.57 L311.18,249.44 L311.31,247.39 L311.43,249.44 L311.56,250.33 L311.69,249.62 L311.81,247.91 L311.94,240.82 L312.07,233.55 L312.19,230.38 L312.32,233.55 L312.44,240.82 L312.57,247.91 L312.70,250.50 L312.82,250.01 L312.95,249.92 L313.07,249.86 L313.20,249.57 L313.33,249.80 L313.45,249.31 L313.58,249.53 L313.70,249.22 L313.83,248.64 L313.96,249.43 L314.08,246.85 L314.21,243.87 L314.34,246.85 L314.46,250.31 L314.59,249.93 L314.71,249.18 L314.84,249.56 L314.97,249.64 L315.09,249.15 L315.22,249.05 L315.34,250.07 L315.47,248.61 L315.60,245.30 L315.72,243.86 L315.85,245.30 L315.97,242.20 L316.10,245.62 L316.23,249.01 L316.35,249.68 L316.48,249.61 L316.61,249.39 L316.73,247.41 L316.86,249.27 L316.98,249.15 L317.11,249.77 L317.24,250.17 L317.36,250.39 L317.49,249.99 L317.61,248.95 L317.74,248.89 L317.87,248.74 L317.99,250.27 L318.12,249.69 L318.25,250.25 L318.37,250.62 L318.50,246.55 L318.62,243.45 L318.75,246.55 L318.88,249.62 L319.00,249.06 L319.13,249.66 L319.25,249.14 L319.38,246.98 L319.51,249.14 L319.63,250.67 L319.76,250.16 L319.88,249.38 L320.01,248.61 L320.14,245.30 L320.26,243.86 L320.39,245.30 L320.52,248.61 L320.64,249.56 L320.77,249.75 L320.89,249.23 L321.02,249.43 L321.15,249.53 L321.27,250.05 L321.40,250.62 L321.52,246.87 L321.65,243.89 L321.78,246.87 L321.90,250.96 L322.03,250.00 L322.15,248.19 L322.28,250.02 L322.41,249.85 L322.53,249.38 L322.66,249.33 L322.79,249.71 L322.91,250.32 L323.04,249.95 L323.16,248.93 L323.29,249.18 L323.42,249.09 L323.54,249.10 L323.67,249.26 L323.79,247.31 L323.92,243.34 L324.05,241.61 L324.17,243.34 L324.30,247.31 L324.43,249.32 L324.55,246.70 L324.68,243.67 L324.80,246.70 L324.93,250.21 L325.06,250.20 L325.18,250.39 L325.31,250.49 L325.43,250.16 L325.56,245.93 L325.69,242.62 L325.81,245.93 L325.94,249.88 L326.06,249.02 L326.19,247.91 L326.32,248.27 L326.44,241.59 L326.57,228.27 L326.70,214.61 L326.82,208.65 L326.95,214.61 L327.07,228.27 L327.20,241.59 L327.33,248.18 L327.45,248.00 L327.58,247.99 L327.70,248.11 L327.83,247.81 L327.96,244.89 L328.08,241.19 L328.21,244.89 L328.33,248.67 L328.46,248.29 L328.59,247.93 L328.71,247.84 L328.84,248.53 L328.97,247.31 L329.09,243.34 L329.22,241.61 L329.34,243.34 L329.47,239.41 L329.60,243.58 L329.72,249.19 L329.85,248.16 L329.97,248.42 L330.10,249.60 L330.23,248.55 L330.35,248.79 L330.48,249.52 L330.61,249.64 L330.73,249.85 L330.86,250.07 L330.98,249.40 L331.11,249.47 L331.24,250.14 L331.36,249.42 L331.49,247.90 L331.61,247.44 L331.74,248.45 L331.87,248.30 L331.99,248.69 L332.12,249.93 L332.24,250.04 L332.37,250.19 L332.50,249.23 L332.62,248.11 L332.75,245.35 L332.88,241.83 L333.00,245.35 L333.13,248.07 L333.25,247.82 L333.38,248.43 L333.51,249.13 L333.63,249.31 L333.76,248.87 L333.88,248.23 L334.01,248.56 L334.14,249.41 L334.26,248.46 L334.39,246.24 L334.51,248.59 L334.64,249.02 L334.77,245.58 L334.89,240.73 L335.02,238.62 L335.15,240.73 L335.27,245.58 L335.40,249.05 L335.52,248.32 L335.65,247.57 L335.78,246.68 L335.90,243.63 L336.03,246.68 L336.15,249.17 L336.28,247.13 L336.41,244.25 L336.53,247.13 L336.66,247.68 L336.79,248.56 L336.91,242.12 L337.04,235.51 L337.16,232.62 L337.29,235.51 L337.42,242.12 L337.54,242.92 L337.67,238.52 L337.79,242.92 L337.92,248.68 L338.05,249.31 L338.17,248.68 L338.30,249.53 L338.42,248.15 L338.55,248.16 L338.68,249.53 L338.80,249.44 L338.93,248.04 L339.06,248.46 L339.18,249.45 L339.31,249.25 L339.43,248.69 L339.56,248.27 L339.69,249.23 L339.81,248.56 L339.94,248.18 L340.06,245.94 L340.19,236.92 L340.32,227.67 L340.44,223.63 L340.57,227.67 L340.69,236.92 L340.82,245.94 L340.95,248.33 L341.07,247.93 L341.20,248.71 L341.33,248.70 L341.45,243.64 L341.58,239.50 L341.70,243.64 L341.83,248.27 L341.96,247.99 L342.08,248.41 L342.21,248.72 L342.33,249.17 L342.46,249.15 L342.59,247.90 L342.71,247.35 L342.84,248.97 L342.97,248.47 L343.09,248.09 L343.22,247.28 L343.34,244.45 L343.47,247.28 L343.60,248.78 L343.72,249.65 L343.85,244.28 L343.97,238.77 L344.10,236.37 L344.23,238.77 L344.35,244.28 L344.48,248.53 L344.60,248.48 L344.73,248.89 L344.86,248.60 L344.98,249.01 L345.11,249.22 L345.24,248.32 L345.36,248.01 L345.49,247.66 L345.61,247.01 L345.74,247.33 L345.87,247.24 L345.99,247.94 L346.12,248.53 L346.24,246.18 L346.37,242.95 L346.50,246.18 L346.62,247.61 L346.75,247.05 L346.88,247.16 L347.00,242.86 L347.13,238.44 L347.25,242.86 L347.38,246.67 L347.51,245.37 L347.63,242.12 L347.76,235.51 L347.88,232.62 L348.01,235.51 L348.14,242.12 L348.26,247.80 L348.39,247.45 L348.51,245.74 L348.64,245.68 L348.77,247.09 L348.89,246.54 L349.02,246.06 L349.15,246.00 L349.27,245.80 L349.40,246.41 L349.52,247.26 L349.65,245.86 L349.78,237.11 L349.90,230.60 L350.03,237.11 L350.15,244.71 L350.28,244.54 L350.41,236.94 L350.53,230.37 L350.66,236.94 L350.78,245.13 L350.91,244.15 L351.04,244.50 L351.16,243.44 L351.29,235.62 L351.42,225.71 L351.54,221.39 L351.67,225.71 L351.79,235.37 L351.92,240.61 L352.05,242.00 L352.17,240.07 L352.30,242.34 L352.42,243.25 L352.55,243.73 L352.68,244.70 L352.80,244.05 L352.93,241.02 L353.06,240.50 L353.18,237.34 L353.31,230.93 L353.43,237.34 L353.56,240.68 L353.69,238.34 L353.81,238.47 L353.94,238.00 L354.06,238.36 L354.19,233.46 L354.32,222.44 L354.44,217.64 L354.57,217.36 L354.69,227.38 L354.82,240.33 L354.95,239.01 L355.07,241.62 L355.20,242.25 L355.33,238.88 L355.45,232.87 L355.58,224.83 L355.70,232.87 L355.83,236.45 L355.96,237.02 L356.08,239.05 L356.21,238.87 L356.33,236.31 L356.46,241.30 L356.59,241.30 L356.71,239.43 L356.84,239.92 L356.96,241.43 L357.09,240.80 L357.22,229.13 L357.34,215.91 L357.47,210.15 L357.60,215.91 L357.72,229.13 L357.85,236.45 L357.97,238.37 L358.10,239.32 L358.23,239.45 L358.35,238.53 L358.48,236.40 L358.60,235.87 L358.73,238.30 L358.86,241.03 L358.98,232.59 L359.11,221.14 L359.24,216.14 L359.36,221.14 L359.49,232.59 L359.61,226.65 L359.74,216.37 L359.87,226.65 L359.99,238.78 L360.12,240.36 L360.24,239.91 L360.37,240.30 L360.50,239.70 L360.62,240.13 L360.75,240.38 L360.87,235.62 L361.00,225.71 L361.13,221.39 L361.25,225.71 L361.38,235.62 L361.51,239.86 L361.63,241.88 L361.76,243.72 L361.88,242.46 L362.01,241.31 L362.14,242.66 L362.26,242.08 L362.39,241.32 L362.51,235.62 L362.64,225.71 L362.77,221.39 L362.89,225.71 L363.02,235.62 L363.14,241.62 L363.27,241.41 L363.40,240.15 L363.52,243.72 L363.65,243.30 L363.78,242.38 L363.90,241.93 L364.03,243.47 L364.15,244.16 L364.28,242.94 L364.41,243.79 L364.53,245.24 L364.66,235.60 L364.78,228.56 L364.91,235.60 L365.04,244.10 L365.16,245.53 L365.29,237.79 L365.42,228.97 L365.54,225.13 L365.67,228.97 L365.79,237.79 L365.92,245.62 L366.05,243.97 L366.17,243.29 L366.30,245.19 L366.42,246.31 L366.55,245.66 L366.68,243.93 L366.80,241.76 L366.93,236.93 L367.05,241.76 L367.18,244.73 L367.31,245.65 L367.43,245.24 L367.56,243.82 L367.69,244.38 L367.81,244.90 L367.94,244.22 L368.06,243.24 L368.19,236.06 L368.32,226.36 L368.44,222.14 L368.57,226.36 L368.69,236.06 L368.82,245.38 L368.95,245.36 L369.07,245.58 L369.20,244.38 L369.32,244.99 L369.45,244.42 L369.58,244.50 L369.70,244.76 L369.83,241.02 L369.96,244.76 L370.08,246.86 L370.21,246.17 L370.33,247.47 L370.46,247.33 L370.59,247.14 L370.71,247.79 L370.84,247.36 L370.96,247.06 L371.09,244.83 L371.22,243.85 L371.34,238.12 L371.47,235.62 L371.60,238.12 L371.72,243.85 L371.85,248.02 L371.97,248.62 L372.10,247.77 L372.23,248.91 L372.35,245.65 L372.48,242.23 L372.60,245.65 L372.73,248.90 L372.86,248.51 L372.98,249.48 L373.11,250.05 L373.23,249.46 L373.36,249.23 L373.49,246.44 L373.61,242.04 L373.74,240.12 L373.87,242.04 L373.99,246.44 L374.12,249.58 L374.24,248.98 L374.37,249.25 L374.50,250.07 L374.62,250.11 L374.75,249.93 L374.87,250.12 L375.00,250.05 L375.13,249.89 L375.25,249.87 L375.38,249.81 L375.50,250.13 L375.63,250.72 L375.76,250.60 L375.88,250.58 L376.01,251.29 L376.14,250.92 L376.26,249.78 L376.39,247.86 L376.51,249.78 L376.64,251.92 L376.77,251.11 L376.89,251.08 L377.02,251.71 L377.14,251.23 L377.27,248.61 L377.40,245.30 L377.52,243.86 L377.65,245.30 L377.78,248.61 L377.90,251.67 L378.03,251.89 L378.15,251.88 L378.28,252.14 L378.41,252.37 L378.53,252.26 L378.66,251.15 L378.78,249.72 L378.91,251.11 L379.04,251.49 L379.16,252.09 L379.29,252.17 L379.41,251.88 L379.54,251.76 L379.67,252.20 L379.79,252.19 L379.92,252.09 L380.05,252.42 L380.17,252.04 L380.30,252.09 L380.42,250.77 L380.55,248.57 L380.68,247.61 L380.80,248.57 L380.93,250.77 L381.05,251.98 L381.18,250.68 L381.31,249.09 L381.43,250.68 L381.56,252.68 L381.68,252.28 L381.81,251.26 L381.94,251.87 L382.06,252.08 L382.19,252.04 L382.32,252.56 L382.44,252.92 L382.57,252.64 L382.69,252.28 L382.82,252.03 L382.95,252.54 L383.07,252.52 L383.20,252.29 L383.32,252.73 L383.45,253.03 L383.58,252.96 L383.70,252.71 L383.83,251.28 L383.96,249.90 L384.08,251.28 L384.21,252.47 L384.33,252.86 L384.46,252.69 L384.59,251.84 L384.71,250.66 L384.84,251.84 L384.96,253.17 L385.09,252.67 L385.22,252.46 L385.34,252.74 L385.47,252.73 L385.59,252.66 L385.72,252.75 L385.85,252.94 L385.97,253.15 L386.10,253.05 L386.23,253.37 L386.35,253.18 L386.48,253.25 L386.60,253.11 L386.73,252.95 L386.86,253.20 L386.98,253.22 L387.11,253.09 L387.23,253.16 L387.36,252.67 L387.49,252.85 L387.61,253.27 L387.74,253.48 L387.86,251.69 L387.99,250.46 L388.12,251.69 L388.24,253.09 L388.37,253.23 L388.50,252.70 L388.62,252.72 L388.75,252.85 L388.87,253.29 L389.00,253.42 L389.13,253.05 L389.25,252.98 L389.38,253.29 L389.50,253.47 L389.63,252.50 L389.76,251.18 L389.88,250.51 L390.01,251.18 L390.14,252.50 L390.26,252.84 L390.39,252.87 L390.51,253.08 L390.64,253.25 L390.77,253.17 L390.89,252.83 L391.02,253.05 L391.14,253.04 L391.27,253.13 L391.40,253.08 L391.52,253.07 L391.65,253.10 L391.77,251.72 L391.90,250.49 L392.03,251.72 L392.15,253.31 L392.28,253.52 L392.41,253.24 L392.53,252.95 L392.66,252.88 L392.78,252.08 L392.91,252.88 L393.04,253.36 L393.16,253.44 L393.29,253.50 L393.41,253.33 L393.54,253.26 L393.67,253.38 L393.79,253.22 L393.92,253.04 L394.05,252.96 L394.17,253.05 L394.30,252.89 L394.42,253.23 L394.55,253.25 L394.68,253.22 L394.80,253.27 L394.93,252.61 L395.05,252.98 L395.18,253.04 L395.31,253.17 L395.43,253.12 L395.56,253.14 L395.68,253.39 L395.81,253.49 L395.94,253.23 L396.06,253.61 L396.19,253.22 L396.32,252.79 L396.44,253.07 L396.57,253.32 L396.69,253.36 L396.82,253.18 L396.95,253.08 L397.07,253.37 L397.20,251.93 L397.32,250.79 L397.45,251.93 L397.58,253.45 L397.70,253.36 L397.83,253.28 L397.95,253.21 L398.08,253.37 L398.21,253.40 L398.33,252.94 L398.46,252.15 L398.59,252.94 L398.71,253.13 L398.84,253.14 L398.96,253.01 L399.09,253.03 L399.22,253.10 L399.34,252.87 L399.47,252.95 L399.59,253.11 L399.72,253.03 L399.85,252.98 L399.97,253.26 L400.10,253.40 L400.23,253.41 L400.35,253.60 L400.48,253.35 L400.60,253.20 L400.73,253.41 L400.86,253.55 L400.98,253.66 L401.11,253.36 L401.23,253.20 L401.36,253.31 L401.49,253.16 L401.61,252.94 L401.74,252.92 L401.86,253.25 L401.99,253.11 L402.12,253.13 L402.24,253.32 L402.37,253.11 L402.50,253.24 L402.62,253.13 L402.75,252.98 L402.87,253.06 L403.00,253.28 L403.13,253.23 L403.25,253.01 L403.38,253.26 L403.50,253.04 L403.63,253.18 L403.76,253.41 L403.88,253.40 L404.01,253.07 L404.13,252.91 L404.26,253.15 L404.39,252.64 L404.51,253.11 L404.64,253.25 L404.77,253.52 L404.89,253.60 L405.02,253.36 L405.14,253.13 L405.27,252.94 L405.40,252.16 L405.52,251.10 L405.65,252.16 L405.77,252.98 L405.90,252.50 L406.03,251.18 L406.15,250.60 L406.28,251.18 L406.41,252.50 L406.53,252.77 L406.66,251.93 L406.78,252.77 L406.91,253.08 L407.04,253.07 L407.16,253.15 L407.29,253.13 L407.41,253.25 L407.54,252.59 L407.67,253.25 L407.79,253.17 L407.92,253.46 L408.04,253.08 L408.17,252.95 L408.30,252.97 L408.42,253.14 L408.55,253.44 L408.68,253.26 L408.80,253.22 L408.93,253.27 L409.05,253.04 L409.18,253.23 L409.31,253.06 L409.43,252.32 L409.56,253.03 L409.68,253.03 L409.81,252.94 L409.94,252.85 L410.06,253.23 L410.19,253.13 L410.31,251.20 L410.44,249.22 L410.57,248.36 L410.69,249.22 L410.82,251.20 L410.95,252.97 L411.07,252.97 L411.20,252.38 L411.32,253.10 L411.45,253.08 L411.58,253.20 L411.70,253.37 L411.83,253.24 L411.95,253.18 L412.08,253.48 L412.21,253.59 L412.33,253.49 L412.46,253.33 L412.59,253.27 L412.71,253.42 L412.84,253.43 L412.96,253.56 L413.09,253.80 L413.22,253.72 L413.34,253.65 L413.47,253.85 L413.59,253.86 L413.72,254.04 L413.85,254.20 L413.97,253.92 L414.10,253.49 L414.22,253.92 L414.35,254.36 L414.48,254.37 L414.60,254.42 L414.73,254.53 L414.86,254.56 L414.98,254.52 L415.11,254.48 L415.23,254.52 L415.36,254.60 L415.49,254.42 L415.61,254.59 L415.74,254.59 L415.86,254.57 L415.99,254.56 L416.12,254.65 L416.24,254.54 L416.37,254.50 L416.49,254.36 L416.62,254.09 L416.75,254.36 L416.87,254.61 L417.00,254.51 L417.13,254.54 L417.25,254.55 L417.38,254.45 L417.50,254.48 L417.63,254.57 L417.76,254.56 L417.88,254.13 L418.01,253.78 L418.13,254.13 L418.26,254.58 L418.39,254.48 L418.51,254.49 L418.64,254.60 L418.77,254.65 L418.89,254.58 L419.02,254.37 L419.14,254.11 L419.27,254.37 L419.40,254.61 L419.52,254.59 L419.65,254.62 L419.77,254.34 L419.90,254.06 L420.03,254.34 L420.15,254.57 L420.28,254.55 L420.40,254.52 L420.53,254.51 L420.66,254.42 L420.78,254.17 L420.91,254.42 L421.04,254.57 L421.16,254.67 L421.29,254.56 L421.41,254.47 L421.54,254.58 L421.67,254.57 L421.79,254.49 L421.92,254.50 L422.04,254.49 L422.17,254.55 L422.30,254.63 L422.42,254.58 L422.55,254.50 L422.67,254.54 L422.80,254.08 L422.93,253.72 L423.05,254.08 L423.18,254.51 L423.31,254.60 L423.43,254.53 L423.56,254.43 L423.68,254.54 L423.81,254.65 L423.94,254.57 L424.06,254.54 L424.19,254.35 L424.31,254.54 L424.44,254.35 L424.57,253.14 L424.69,251.20 L424.82,249.22 L424.95,248.36 L425.07,249.22 L425.20,251.20 L425.32,253.14 L425.45,254.35 L425.58,254.54 L425.70,254.61 L425.83,254.63 L425.95,254.60 L426.08,254.52 L426.21,254.51 L426.33,254.53 L426.46,254.45 L426.58,254.47 L426.71,254.58 L426.84,254.61 L426.96,254.34 L427.09,254.06 L427.22,254.34 L427.34,254.63 L427.47,254.33 L427.59,253.99 L427.72,253.84 L427.85,253.70 L427.97,253.53 L428.10,253.39 L428.22,253.00 L428.35,252.01 L428.48,250.90 L428.60,252.01 L428.73,249.00 L428.85,242.98 L428.98,236.81 L429.11,234.12 L429.23,236.81 L429.36,242.98 L429.49,249.00 L429.61,251.44 L429.74,251.45 L429.86,250.55 L429.99,251.70 L430.12,251.85 L430.24,248.85 L430.37,246.58 L430.49,248.85 L430.62,251.08 L430.75,251.45 L430.87,252.03 L431.00,250.42 L431.13,248.73 L431.25,250.42 L431.38,251.50 L431.50,251.81 L431.63,251.90 L431.76,251.06 L431.88,250.58 L432.01,250.74 L432.13,248.61 L432.26,245.30 L432.39,243.86 L432.51,245.30 L432.64,245.81 L432.76,248.27 L432.89,250.76 L433.02,250.68 L433.14,248.12 L433.27,245.59 L433.40,248.12 L433.52,250.92 L433.65,250.62 L433.77,250.01 L433.90,249.86 L434.03,249.82 L434.15,250.76 L434.28,251.66 L434.40,251.27 L434.53,250.34 L434.66,250.01 L434.78,250.60 L434.91,251.08 L435.04,251.02 L435.16,249.64 L435.29,247.66 L435.41,249.64 L435.54,250.01 L435.67,250.69 L435.79,250.06 L435.92,250.04 L436.04,249.68 L436.17,248.89 L436.30,248.74 L436.42,248.55 L436.55,248.67 L436.67,249.26 L436.80,249.64 L436.93,246.44 L437.05,242.04 L437.18,240.12 L437.31,242.04 L437.43,244.38 L437.56,240.50 L437.68,244.38 L437.81,249.92 L437.94,249.14 L438.06,248.23 L438.19,248.77 L438.31,249.62 L438.44,249.39 L438.57,249.06 L438.69,249.00 L438.82,248.26 L438.94,247.97 L439.07,247.51 L439.20,249.40 L439.32,249.04 L439.45,249.33 L439.58,249.51 L439.70,245.58 L439.83,240.73 L439.95,238.62 L440.08,240.73 L440.21,245.58 L440.33,248.84 L440.46,248.89 L440.58,248.63 L440.71,249.23 L440.84,249.25 L440.96,248.75 L441.09,249.29 L441.22,249.37 L441.34,248.37 L441.47,238.97 L441.59,223.07 L441.72,206.77 L441.85,199.66 L441.97,206.77 L442.10,223.07 L442.22,238.97 L442.35,248.93 L442.48,248.75 L442.60,248.01 L442.73,246.67 L442.85,243.63 L442.98,246.67 L443.11,248.45 L443.23,248.95 L443.36,248.03 L443.49,248.54 L443.61,248.70 L443.74,249.08 L443.86,248.90 L443.99,249.20 L444.12,244.48 L444.24,240.63 L444.37,244.48 L444.49,248.60 L444.62,248.81 L444.75,246.44 L444.87,242.04 L445.00,240.12 L445.12,242.04 L445.25,246.44 L445.38,243.78 L445.50,246.79 L445.63,248.94 L445.76,245.18 L445.88,241.59 L446.01,245.18 L446.13,248.03 L446.26,246.34 L446.39,243.17 L446.51,246.34 L446.64,248.58 L446.76,249.03 L446.89,249.04 L447.02,246.85 L447.14,247.37 L447.27,247.90 L447.40,249.26 L447.52,249.18 L447.65,247.72 L447.77,247.59 L447.90,248.02 L448.03,248.56 L448.15,248.60 L448.28,247.93 L448.40,248.14 L448.53,249.48 L448.66,250.03 L448.78,248.65 L448.91,247.77 L449.03,247.79 L449.16,247.31 L449.29,243.34 L449.41,241.61 L449.54,243.34 L449.67,247.31 L449.79,249.29 L449.92,248.81 L450.04,247.95 L450.17,248.01 L450.30,248.56 L450.42,248.93 L450.55,248.99 L450.67,249.03 L450.80,249.14 L450.93,247.66 L451.05,244.97 L451.18,247.61 L451.30,247.74 L451.43,244.00 L451.56,242.36 L451.68,244.00 L451.81,247.74 L451.94,247.50 L452.06,248.79 L452.19,249.29 L452.31,248.80 L452.44,249.05 L452.57,248.78 L452.69,248.19 L452.82,243.84 L452.94,239.76 L453.07,243.84 L453.20,248.83 L453.32,248.62 L453.45,246.56 L453.58,248.83 L453.70,248.39 L453.83,249.29 L453.95,248.82 L454.08,248.44 L454.21,248.79 L454.33,248.06 L454.46,248.61 L454.58,249.29 L454.71,248.98 L454.84,249.38 L454.96,249.42 L455.09,248.42 L455.21,248.20 L455.34,249.26 L455.47,244.20 L455.59,233.46 L455.72,222.44 L455.85,217.64 L455.97,222.44 L456.10,233.46 L456.22,244.20 L456.35,249.04 L456.48,249.19 L456.60,250.14 L456.73,250.11 L456.85,250.19 L456.98,249.44 L457.11,248.23 L457.23,248.89 L457.36,249.97 L457.48,249.34 L457.61,248.50 L457.74,249.41 L457.86,250.19 L457.99,249.85 L458.12,250.11 L458.24,250.52 L458.37,250.17 L458.49,249.46 L458.62,250.67 L458.75,250.03 L458.87,249.83 L459.00,249.41 L459.12,245.15 L459.25,241.55 L459.38,245.15 L459.50,248.18 L459.63,244.65 L459.76,243.11 L459.88,244.65 L460.01,248.18 L460.13,249.08 L460.26,249.07 L460.39,249.06 L460.51,249.55 L460.64,250.36 L460.76,250.32 L460.89,249.23 L461.02,245.93 L461.14,242.62 L461.27,245.93 L461.39,250.00 L461.52,249.24 L461.65,249.60 L461.77,250.64 L461.90,250.85 L462.03,250.53 L462.15,249.56 L462.28,249.40 L462.40,248.18 L462.53,244.65 L462.66,243.11 L462.78,244.65 L462.91,248.18 L463.03,249.64 L463.16,248.69 L463.29,249.86 L463.41,249.98 L463.54,248.13 L463.66,249.22 L463.79,249.27 L463.92,248.93 L464.04,249.75 L464.17,249.66 L464.30,249.58 L464.42,250.51 L464.55,249.76 L464.67,248.83 L464.80,249.44 L464.93,250.03 L465.05,249.43 L465.18,247.72 L465.30,249.68 L465.43,248.99 L465.56,249.42 L465.68,249.48 L465.81,248.44 L465.94,246.88 L466.06,249.07 L466.19,250.34 L466.31,250.08 L466.44,250.11 L466.57,249.44 L466.69,248.88 L466.82,246.44 L466.94,242.04 L467.07,240.12 L467.20,242.04 L467.32,246.44 L467.45,250.45 L467.57,249.19 L467.70,248.93 L467.83,249.03 L467.95,248.46 L468.08,248.48 L468.21,249.01 L468.33,249.03 L468.46,249.14 L468.58,249.88 L468.71,250.17 L468.84,245.88 L468.96,242.54 L469.09,242.04 L469.21,240.12 L469.34,242.04 L469.47,246.44 L469.59,247.83 L469.72,249.59 L469.84,249.39 L469.97,249.16 L470.10,248.25 L470.22,245.78 L470.35,248.25 L470.48,248.56 L470.60,248.79 L470.73,248.87 L470.85,249.61 L470.98,249.93 L471.11,249.83 L471.23,250.23 L471.36,247.48 L471.48,244.72 L471.61,247.48 L471.74,248.50 L471.86,249.05 L471.99,250.18 L472.12,250.48 L472.24,249.55 L472.37,248.60 L472.49,246.25 L472.62,248.60 L472.75,249.52 L472.87,249.40 L473.00,248.44 L473.12,248.22 L473.25,248.52 L473.38,248.80 L473.50,249.63 L473.63,245.64 L473.75,242.22 L473.88,243.34 L474.01,241.61 L474.13,243.34 L474.26,247.31 L474.39,248.37 L474.51,248.32 L474.64,247.80 L474.76,247.85 L474.89,248.53 L475.02,246.44 L475.14,242.04 L475.27,240.12 L475.39,242.04 L475.52,246.44 L475.65,247.68 L475.77,248.43 L475.90,248.32 L476.03,248.40 L476.15,248.28 L476.28,247.77 L476.40,248.01 L476.53,248.84 L476.66,248.26 L476.78,246.67 L476.91,246.88 L477.03,248.00 L477.16,248.04 L477.29,248.32 L477.41,248.60 L477.54,248.16 L477.66,248.27 L477.79,248.34 L477.92,249.06 L478.04,248.80 L478.17,248.50 L478.30,243.20 L478.42,238.90 L478.55,243.20 L478.67,249.44 L478.80,247.92 L478.93,247.86 L479.05,248.00 L479.18,247.35 L479.30,248.73 L479.43,248.72 L479.56,242.37 L479.68,237.77 L479.81,242.37 L479.93,248.72 L480.06,249.16 L480.19,247.89 L480.31,246.91 L480.44,244.50 L480.57,240.67 L480.69,244.50 L480.82,247.44 L480.94,242.98 L481.07,236.81 L481.20,234.12 L481.32,236.81 L481.45,242.98 L481.57,241.67 L481.70,245.24 L481.83,248.23 L481.95,248.49 L482.08,248.26 L482.21,248.26 L482.33,247.74 L482.46,246.85 L482.58,246.71 L482.71,247.55 L482.84,247.33 L482.96,246.99 L483.09,244.06 L483.21,246.99 L483.34,248.01 L483.47,248.84 L483.59,248.63 L483.72,248.14 L483.84,244.13 L483.97,239.42 L484.10,237.12 L484.22,239.42 L484.35,244.71 L484.48,248.22 L484.60,247.63 L484.73,247.55 L484.85,248.07 L484.98,247.93 L485.11,245.42 L485.23,241.92 L485.36,245.42 L485.48,247.68 L485.61,247.81 L485.74,247.93 L485.86,246.88 L485.99,240.38 L486.11,232.89 L486.24,229.63 L486.37,232.89 L486.49,240.38 L486.62,247.50 L486.75,246.87 L486.87,246.73 L487.00,246.74 L487.12,246.52 L487.25,247.62 L487.38,249.08 L487.50,249.19 L487.63,248.03 L487.75,247.94 L487.88,248.80 L488.01,248.89 L488.13,247.82 L488.26,247.70 L488.39,248.91 L488.51,241.67 L488.64,236.81 L488.76,241.67 L488.89,248.59 L489.02,246.44 L489.14,242.04 L489.27,240.12 L489.39,242.04 L489.52,246.44 L489.65,246.68 L489.77,247.56 L489.90,247.69 L490.02,248.78 L490.15,248.81 L490.28,248.51 L490.40,247.70 L490.53,247.50 L490.66,246.87 L490.78,246.89 L490.91,247.14 L491.03,247.86 L491.16,247.23 L491.29,247.25 L491.41,248.16 L491.54,247.75 L491.66,247.29 L491.79,247.90 L491.92,248.40 L492.04,247.86 L492.17,247.36 L492.29,247.52 L492.42,246.86 L492.55,247.26 L492.67,245.28 L492.80,247.82 L492.93,248.45 L493.05,247.84 L493.18,246.61 L493.30,247.99 L493.43,249.58 L493.56,248.80 L493.68,248.72 L493.81,248.77 L493.93,242.68 L494.06,238.19 L494.19,241.61 L494.31,243.34 L494.44,247.00 L494.57,247.70 L494.69,248.67 L494.82,247.91 L494.94,247.21 L495.07,247.55 L495.20,246.11 L495.32,242.86 L495.45,246.11 L495.57,246.95 L495.70,246.80 L495.83,247.02 L495.95,246.69 L496.08,247.44 L496.20,248.03 L496.33,247.30 L496.46,246.91 L496.58,247.69 L496.71,248.65 L496.84,248.12 L496.96,248.00 L497.09,248.88 L497.21,249.02 L497.34,248.35 L497.47,247.75 L497.59,247.40 L497.72,247.57 L497.84,248.39 L497.97,242.98 L498.10,236.81 L498.22,234.12 L498.35,236.81 L498.47,242.98 L498.60,247.10 L498.73,244.20 L498.85,247.10 L498.98,249.48 L499.11,248.98 L499.23,248.92 L499.36,248.38 L499.48,249.59 L499.61,250.40 L499.74,250.12 L499.86,249.91 L499.99,250.62 L500.11,250.69 L500.24,250.33 L500.37,248.61 L500.49,245.30 L500.62,242.46 L500.75,245.30 L500.87,248.61 L501.00,250.15 L501.12,250.04 L501.25,250.54 L501.38,249.05 L501.50,246.86 L501.63,249.05 L501.75,250.04 L501.88,251.03 L502.01,251.29 L502.13,250.67 L502.26,250.52 L502.38,251.02 L502.51,251.25 L502.64,251.52 L502.76,251.56 L502.89,250.83 L503.02,250.90 L503.14,251.31 L503.27,251.57 L503.39,251.38 L503.52,251.19 L503.65,250.46 L503.77,251.27 L503.90,251.40 L504.02,251.64 L504.15,249.87 L504.28,249.11 L504.40,249.87 L504.53,251.64 L504.65,251.58 L504.78,251.49 L504.91,249.50 L505.03,247.48 L505.16,249.50 L505.29,252.12 L505.41,251.69 L505.54,250.50 L505.66,248.83 L505.79,250.50 L505.92,252.64 L506.04,252.73 L506.17,252.57 L506.29,252.81 L506.42,253.04 L506.55,252.43 L506.67,252.07 L506.80,252.61 L506.93,253.13 L507.05,250.79 L507.18,249.23 L507.30,250.79 L507.43,253.02 L507.56,253.09 L507.68,253.23 L507.81,253.10 L507.93,252.70 L508.06,252.94 L508.19,253.12 L508.31,251.04 L508.44,249.57 L508.56,251.04 L508.69,251.35 L508.82,251.83 L508.94,252.94 L509.07,252.85 L509.20,252.04 L509.32,252.85 L509.45,253.06 L509.57,253.03 L509.70,251.65 L509.83,250.40 L509.95,251.65 L510.08,253.34 L510.20,253.36 L510.33,253.29 L510.46,253.47 L510.58,253.44 L510.71,252.32 L510.83,251.32 L510.96,252.32 L511.09,253.37 L511.21,253.44 L511.34,253.49 L511.47,253.48 L511.59,253.38 L511.72,252.87 L511.84,253.46 L511.97,253.69 L512.10,253.69 L512.22,253.51 L512.35,253.55 L512.47,253.73 L512.60,253.47 L512.73,253.40 L512.85,253.69 L512.98,252.74 L513.11,251.88 L513.23,252.74 L513.36,253.29 L513.48,253.38 L513.61,253.61 L513.74,253.20 L513.86,253.71 L513.99,253.69 L514.11,253.41 L514.24,253.33 L514.37,253.35 L514.49,253.46 L514.62,253.48 L514.74,253.62 L514.87,253.72 L515.00,253.78 L515.12,253.66 L515.25,253.54 L515.38,253.82 L515.50,253.67 L515.63,253.53 L515.75,253.80 L515.88,253.74 L516.01,253.61 L516.13,253.69 L516.26,253.62 L516.38,253.74 L516.51,253.94 L516.64,253.87 L516.76,253.81 L516.89,253.35 L517.01,253.78 L517.14,253.93 L517.27,254.03 L517.39,254.04 L517.52,253.88 L517.65,253.37 L517.77,252.49 L517.90,252.10 L518.02,252.49 L518.15,253.37 L518.28,252.86 L518.40,252.05 L518.53,252.86 L518.65,253.66 L518.78,253.75 L518.91,253.63 L519.03,253.70 L519.16,253.82 L519.29,253.54 L519.41,253.41 L519.54,253.54 L519.66,253.53 L519.79,253.66 L519.92,253.54 L520.04,252.97 L520.17,253.42 L520.29,253.50 L520.42,253.58 L520.55,253.42 L520.67,253.55 L520.80,253.79 L520.92,253.58 L521.05,253.30 L521.18,253.50 L521.30,253.62 L521.43,252.16 L521.56,251.10 L521.68,252.16 L521.81,253.44 L521.93,253.46 L522.06,253.39 L522.19,253.64 L522.31,253.41 L522.44,253.40 L522.56,253.75 L522.69,253.79 L522.82,253.19 L522.94,252.50 L523.07,253.19 L523.20,253.35 L523.32,253.30 L523.45,253.39 L523.57,253.40 L523.70,253.69 L523.83,253.78 L523.95,253.72 L524.08,253.30 L524.20,253.14 L524.33,253.42 L524.46,253.62 L524.58,253.43 L524.71,253.30 L524.83,253.50 L524.96,253.43 L525.09,253.18 L525.21,253.21 L525.34,253.27 L525.47,253.33 L525.59,253.32 L525.72,252.73 L525.84,251.87 L525.97,252.73 L526.10,252.91 L526.22,253.12 L526.35,252.40 L526.47,253.05 L526.60,252.95 L526.73,252.96 L526.85,253.01 L526.98,253.16 L527.10,253.00 L527.23,253.10 L527.36,253.29 L527.48,251.80 L527.61,250.60 L527.74,251.80 L527.86,252.91 L527.99,252.96 L528.11,253.09 L528.24,252.98 L528.37,252.74 L528.49,252.83 L528.62,253.01 L528.74,251.65 L528.87,250.40 L529.00,251.65 L529.12,253.23 L529.25,253.17 L529.38,252.78 L529.50,252.55 L529.63,252.94 L529.75,253.18 L529.88,251.62 L530.01,250.36 L530.13,249.86 L530.26,250.53 L530.38,252.07 L530.51,252.61 L530.64,252.55 L530.76,252.48 L530.89,252.38 L531.01,252.70 L531.14,252.75 L531.27,252.30 L531.39,252.25 L531.52,251.57 L531.65,252.51 L531.77,252.42 L531.90,252.04 L532.02,252.13 L532.15,252.42 L532.28,252.36 L532.40,252.11 L532.53,252.34 L532.65,252.80 L532.78,252.72 L532.91,252.71 L533.03,252.88 L533.16,252.59 L533.28,251.54 L533.41,250.25 L533.54,251.54 L533.66,251.98 L533.79,252.30 L533.92,252.28 L534.04,252.26 L534.17,252.66 L534.29,252.36 L534.42,251.92 L534.55,252.08 L534.67,252.20 L534.80,251.98 L534.92,252.31 L535.05,252.45 L535.18,252.03 L535.30,252.43 L535.43,252.98 L535.56,252.41 L535.68,252.11 L535.81,252.41 L535.93,251.75 L536.06,250.54 L536.19,251.75 L536.31,252.75 L536.44,252.33 L536.56,252.13 L536.69,252.31 L536.82,252.74 L536.94,252.40 L537.07,252.35 L537.19,252.84 L537.32,250.37 L537.45,248.66 L537.57,250.37 L537.70,252.36 L537.83,250.87 L537.95,249.34 L538.08,250.87 L538.20,252.16 L538.33,252.17 L538.46,252.34 L538.58,252.54 L538.71,252.38 L538.83,251.54 L538.96,250.25 L539.09,251.54 L539.21,252.62 L539.34,251.64 L539.46,249.87 L539.59,249.11 L539.72,249.87 L539.84,250.95 L539.97,252.05 L540.10,252.53 L540.22,252.58 L540.35,252.05 L540.47,252.32" fill="none" stroke="#D95319" stroke-width="0.95" stroke-linejoin="round" stroke-dasharray="3,0.3,0.8,0.3"/>
<g font-size="6" fill="#262626" text-anchor="middle"><text x="282.5" y="263.6">0</text><text x="307.7" y="263.6">200</text><text x="332.9" y="263.6">400</text><text x="358.2" y="263.6">600</text><text x="383.4" y="263.6">800</text><text x="408.6" y="263.6">1000</text><text x="433.8" y="263.6">1200</text><text x="459.1" y="263.6">1400</text><text x="484.3" y="263.6">1600</text><text x="509.5" y="263.6">1800</text><text x="534.7" y="263.6">2000</text></g><g font-size="6" fill="#262626" text-anchor="end"><text x="280.2" y="257.3">0</text><text x="280.2" y="242.3">2</text><text x="280.2" y="227.3">4</text><text x="280.2" y="212.3">6</text><text x="280.2" y="197.4">8</text><text x="280.2" y="182.4">10</text><text x="280.2" y="167.4">12</text></g><text x="411.9" y="272.1" font-size="6.65" fill="#262626" text-anchor="middle">Datapoints</text><text transform="translate(271.3,210.1) rotate(-90)" font-size="6.65" fill="#262626" text-anchor="middle">Amplitude</text>
<rect x="460.2" y="169.4" width="75.5" height="7.7" fill="#fff" stroke="#3a3a3a" stroke-width="0.5"/><path d="M461.1,173.25 h11.3" stroke="#0072BD" stroke-width="0.8"/><text x="473.7" y="175.2" font-size="5.35" fill="#000">Real</text><path d="M487.5,173.25 h10.4" stroke="#D95319" stroke-width="0.8" stroke-dasharray="2.2,0.7,0.7,0.7"/><text x="499.6" y="175.2" font-size="5.35" fill="#000">Reconstruction</text>
</svg>
</body></html>
